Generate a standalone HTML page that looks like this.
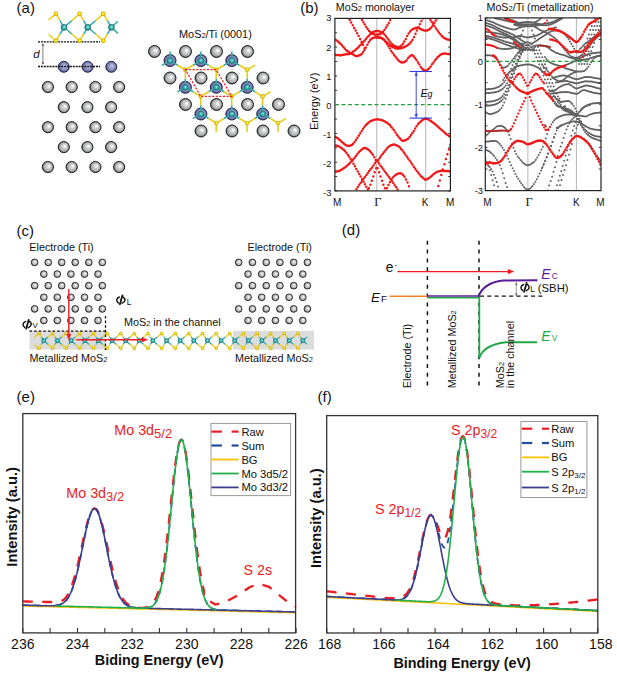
<!DOCTYPE html>
<html><head><meta charset="utf-8"><style>
html,body{margin:0;padding:0;background:#fff;}
svg{display:block;font-family:"Liberation Sans", sans-serif;}
</style></head><body>
<svg width="617" height="685" viewBox="0 0 617 685">
<defs>
<radialGradient id="gti" cx="0.5" cy="0.5" r="0.5" fx="0.62" fy="0.4">
 <stop offset="0" stop-color="#ffffff"/>
 <stop offset="0.12" stop-color="#fafafa"/>
 <stop offset="0.35" stop-color="#d2d3d5"/>
 <stop offset="0.7" stop-color="#b2b4b6"/>
 <stop offset="0.85" stop-color="#8a8c8e"/>
 <stop offset="1" stop-color="#3a3a3a"/>
</radialGradient>
<radialGradient id="gbl" cx="0.5" cy="0.5" r="0.5" fx="0.6" fy="0.42">
 <stop offset="0" stop-color="#d0d3f2"/>
 <stop offset="0.3" stop-color="#a6aad4"/>
 <stop offset="0.7" stop-color="#8286b6"/>
 <stop offset="0.87" stop-color="#60649a"/>
 <stop offset="1" stop-color="#303260"/>
</radialGradient>
<radialGradient id="gmo" cx="0.5" cy="0.5" r="0.5" fx="0.55" fy="0.42">
 <stop offset="0" stop-color="#c8f4f4"/>
 <stop offset="0.35" stop-color="#48c2c2"/>
 <stop offset="0.8" stop-color="#2a9a9c"/>
 <stop offset="1" stop-color="#156466"/>
</radialGradient>
<radialGradient id="gs" cx="0.5" cy="0.5" r="0.5" fx="0.55" fy="0.42">
 <stop offset="0" stop-color="#fffcc0"/>
 <stop offset="0.5" stop-color="#f8e000"/>
 <stop offset="1" stop-color="#c0a000"/>
</radialGradient>
</defs>
<rect width="617" height="685" fill="#fff"/>
<text x="16.6" y="12.6" font-size="15" fill="#111">(a)</text>
<circle cx="47.9" cy="87" r="5.6" fill="url(#gti)" stroke="#141414" stroke-width="0.9"/>
<circle cx="71.7" cy="87" r="5.6" fill="url(#gti)" stroke="#141414" stroke-width="0.9"/>
<circle cx="95.4" cy="87" r="5.6" fill="url(#gti)" stroke="#141414" stroke-width="0.9"/>
<circle cx="119.1" cy="87" r="5.6" fill="url(#gti)" stroke="#141414" stroke-width="0.9"/>
<circle cx="63.8" cy="107.2" r="5.6" fill="url(#gti)" stroke="#141414" stroke-width="0.9"/>
<circle cx="87.4" cy="107.2" r="5.6" fill="url(#gti)" stroke="#141414" stroke-width="0.9"/>
<circle cx="111.1" cy="107.2" r="5.6" fill="url(#gti)" stroke="#141414" stroke-width="0.9"/>
<circle cx="47.9" cy="127.2" r="5.6" fill="url(#gti)" stroke="#141414" stroke-width="0.9"/>
<circle cx="71.7" cy="127.2" r="5.6" fill="url(#gti)" stroke="#141414" stroke-width="0.9"/>
<circle cx="95.4" cy="127.2" r="5.6" fill="url(#gti)" stroke="#141414" stroke-width="0.9"/>
<circle cx="119.1" cy="127.2" r="5.6" fill="url(#gti)" stroke="#141414" stroke-width="0.9"/>
<circle cx="63.8" cy="147.1" r="5.6" fill="url(#gti)" stroke="#141414" stroke-width="0.9"/>
<circle cx="87.4" cy="147.1" r="5.6" fill="url(#gti)" stroke="#141414" stroke-width="0.9"/>
<circle cx="111.1" cy="147.1" r="5.6" fill="url(#gti)" stroke="#141414" stroke-width="0.9"/>
<circle cx="47.9" cy="167" r="5.6" fill="url(#gti)" stroke="#141414" stroke-width="0.9"/>
<circle cx="71.7" cy="167" r="5.6" fill="url(#gti)" stroke="#141414" stroke-width="0.9"/>
<circle cx="95.4" cy="167" r="5.6" fill="url(#gti)" stroke="#141414" stroke-width="0.9"/>
<circle cx="119.1" cy="167" r="5.6" fill="url(#gti)" stroke="#141414" stroke-width="0.9"/>
<circle cx="63.8" cy="66.8" r="5.5" fill="url(#gbl)" stroke="#1c1d44" stroke-width="0.9"/>
<circle cx="87.6" cy="66.8" r="5.5" fill="url(#gbl)" stroke="#1c1d44" stroke-width="0.9"/>
<circle cx="111.3" cy="66.8" r="5.5" fill="url(#gbl)" stroke="#1c1d44" stroke-width="0.9"/>
<line x1="38" y1="41.9" x2="100" y2="41.9" stroke="#111" stroke-width="1.3" stroke-dasharray="2 0.9"/>
<line x1="38" y1="66.5" x2="100" y2="66.5" stroke="#111" stroke-width="1.3" stroke-dasharray="2 0.9"/>
<line x1="42.9" y1="44" x2="42.9" y2="64" stroke="#555" stroke-width="0.75"/>
<path d="M42 45.6 L42.9 43.6 L43.8 45.6 Z" fill="#444" stroke="#444" stroke-width="0.3"/>
<path d="M42 62.4 L42.9 64.4 L43.8 62.4 Z" fill="#444" stroke="#444" stroke-width="0.3"/>
<text x="33.2" y="58.4" font-size="11.5" fill="#111" font-style="italic">d</text>
<line x1="48.5" y1="20" x2="56" y2="13.8" stroke="#e9cc1a" stroke-width="1.5"/>
<line x1="48.5" y1="34.5" x2="56" y2="40.8" stroke="#e9cc1a" stroke-width="1.5"/>
<line x1="64" y1="27.3" x2="60" y2="20.6" stroke="#35a9aa" stroke-width="1.5"/>
<line x1="60" y1="20.6" x2="56" y2="13.8" stroke="#e9cc1a" stroke-width="1.5"/>
<line x1="64" y1="27.3" x2="71.8" y2="20.6" stroke="#35a9aa" stroke-width="1.5"/>
<line x1="71.8" y1="20.6" x2="79.7" y2="13.8" stroke="#e9cc1a" stroke-width="1.5"/>
<line x1="64" y1="27.3" x2="60" y2="34" stroke="#35a9aa" stroke-width="1.5"/>
<line x1="60" y1="34" x2="56" y2="40.8" stroke="#e9cc1a" stroke-width="1.5"/>
<line x1="64" y1="27.3" x2="71.8" y2="34" stroke="#35a9aa" stroke-width="1.5"/>
<line x1="71.8" y1="34" x2="79.7" y2="40.8" stroke="#e9cc1a" stroke-width="1.5"/>
<line x1="87.7" y1="27.3" x2="83.7" y2="20.6" stroke="#35a9aa" stroke-width="1.5"/>
<line x1="83.7" y1="20.6" x2="79.7" y2="13.8" stroke="#e9cc1a" stroke-width="1.5"/>
<line x1="87.7" y1="27.3" x2="95.6" y2="20.6" stroke="#35a9aa" stroke-width="1.5"/>
<line x1="95.6" y1="20.6" x2="103.4" y2="13.8" stroke="#e9cc1a" stroke-width="1.5"/>
<line x1="87.7" y1="27.3" x2="83.7" y2="34" stroke="#35a9aa" stroke-width="1.5"/>
<line x1="83.7" y1="34" x2="79.7" y2="40.8" stroke="#e9cc1a" stroke-width="1.5"/>
<line x1="87.7" y1="27.3" x2="95.6" y2="34" stroke="#35a9aa" stroke-width="1.5"/>
<line x1="95.6" y1="34" x2="103.4" y2="40.8" stroke="#e9cc1a" stroke-width="1.5"/>
<line x1="111.4" y1="27.3" x2="107.4" y2="20.6" stroke="#35a9aa" stroke-width="1.5"/>
<line x1="107.4" y1="20.6" x2="103.4" y2="13.8" stroke="#e9cc1a" stroke-width="1.5"/>
<line x1="111.4" y1="27.3" x2="117.9" y2="21.2" stroke="#35a9aa" stroke-width="1.5"/>
<line x1="111.4" y1="27.3" x2="107.4" y2="34" stroke="#35a9aa" stroke-width="1.5"/>
<line x1="107.4" y1="34" x2="103.4" y2="40.8" stroke="#e9cc1a" stroke-width="1.5"/>
<line x1="111.4" y1="27.3" x2="117.9" y2="33.4" stroke="#35a9aa" stroke-width="1.5"/>
<circle cx="56" cy="13.8" r="2.2" fill="url(#gs)" stroke="#c8aa00" stroke-width="0.2"/>
<circle cx="56" cy="40.8" r="2.2" fill="url(#gs)" stroke="#c8aa00" stroke-width="0.2"/>
<circle cx="79.6" cy="13.8" r="2.2" fill="url(#gs)" stroke="#c8aa00" stroke-width="0.2"/>
<circle cx="79.6" cy="40.8" r="2.2" fill="url(#gs)" stroke="#c8aa00" stroke-width="0.2"/>
<circle cx="103.3" cy="13.8" r="2.2" fill="url(#gs)" stroke="#c8aa00" stroke-width="0.2"/>
<circle cx="103.3" cy="40.8" r="2.2" fill="url(#gs)" stroke="#c8aa00" stroke-width="0.2"/>
<circle cx="64" cy="27.3" r="3.1" fill="url(#gmo)" stroke="#0e5052" stroke-width="0.3"/>
<circle cx="87.7" cy="27.3" r="3.1" fill="url(#gmo)" stroke="#0e5052" stroke-width="0.3"/>
<circle cx="111.4" cy="27.3" r="3.1" fill="url(#gmo)" stroke="#0e5052" stroke-width="0.3"/>
<text x="179" y="38.3" font-size="10.9" fill="#111">MoS<tspan font-size="7.5">2</tspan>/Ti (0001)</text>
<circle cx="154.5" cy="51.5" r="6" fill="url(#gti)" stroke="#141414" stroke-width="0.9"/>
<circle cx="185.5" cy="51.5" r="6" fill="url(#gti)" stroke="#141414" stroke-width="0.9"/>
<circle cx="216.5" cy="51.5" r="6" fill="url(#gti)" stroke="#141414" stroke-width="0.9"/>
<circle cx="247.5" cy="51.5" r="6" fill="url(#gti)" stroke="#141414" stroke-width="0.9"/>
<circle cx="170" cy="78" r="6" fill="url(#gti)" stroke="#141414" stroke-width="0.9"/>
<circle cx="201" cy="78" r="6" fill="url(#gti)" stroke="#141414" stroke-width="0.9"/>
<circle cx="232" cy="78" r="6" fill="url(#gti)" stroke="#141414" stroke-width="0.9"/>
<circle cx="263" cy="78" r="6" fill="url(#gti)" stroke="#141414" stroke-width="0.9"/>
<circle cx="185.5" cy="104.5" r="6" fill="url(#gti)" stroke="#141414" stroke-width="0.9"/>
<circle cx="216.5" cy="104.5" r="6" fill="url(#gti)" stroke="#141414" stroke-width="0.9"/>
<circle cx="247.5" cy="104.5" r="6" fill="url(#gti)" stroke="#141414" stroke-width="0.9"/>
<circle cx="278.5" cy="104.5" r="6" fill="url(#gti)" stroke="#141414" stroke-width="0.9"/>
<circle cx="201" cy="131" r="6" fill="url(#gti)" stroke="#141414" stroke-width="0.9"/>
<circle cx="232" cy="131" r="6" fill="url(#gti)" stroke="#141414" stroke-width="0.9"/>
<circle cx="263" cy="131" r="6" fill="url(#gti)" stroke="#141414" stroke-width="0.9"/>
<circle cx="294" cy="131" r="6" fill="url(#gti)" stroke="#141414" stroke-width="0.9"/>
<circle cx="170" cy="60.6" r="6" fill="url(#gbl)" stroke="#1c1d44" stroke-width="0.9"/>
<circle cx="200.9" cy="60.6" r="6" fill="url(#gbl)" stroke="#1c1d44" stroke-width="0.9"/>
<circle cx="231.8" cy="60.6" r="6" fill="url(#gbl)" stroke="#1c1d44" stroke-width="0.9"/>
<circle cx="185.4" cy="87.3" r="6" fill="url(#gbl)" stroke="#1c1d44" stroke-width="0.9"/>
<circle cx="216.3" cy="87.3" r="6" fill="url(#gbl)" stroke="#1c1d44" stroke-width="0.9"/>
<circle cx="247.2" cy="87.3" r="6" fill="url(#gbl)" stroke="#1c1d44" stroke-width="0.9"/>
<circle cx="200.9" cy="114" r="6" fill="url(#gbl)" stroke="#1c1d44" stroke-width="0.9"/>
<circle cx="231.8" cy="114" r="6" fill="url(#gbl)" stroke="#1c1d44" stroke-width="0.9"/>
<circle cx="262.7" cy="114" r="6" fill="url(#gbl)" stroke="#1c1d44" stroke-width="0.9"/>
<line x1="170" y1="60.6" x2="177.7" y2="65.2" stroke="#35a9aa" stroke-width="1.6"/>
<line x1="177.7" y1="65.2" x2="185.3" y2="69.7" stroke="#e9cc1a" stroke-width="1.6"/>
<line x1="200.9" y1="60.6" x2="193.1" y2="65.2" stroke="#35a9aa" stroke-width="1.6"/>
<line x1="193.1" y1="65.2" x2="185.3" y2="69.7" stroke="#e9cc1a" stroke-width="1.6"/>
<line x1="185.4" y1="87.3" x2="185.4" y2="78.5" stroke="#35a9aa" stroke-width="1.6"/>
<line x1="185.4" y1="78.5" x2="185.3" y2="69.7" stroke="#e9cc1a" stroke-width="1.6"/>
<line x1="200.9" y1="60.6" x2="208.6" y2="65.2" stroke="#35a9aa" stroke-width="1.6"/>
<line x1="208.6" y1="65.2" x2="216.2" y2="69.7" stroke="#e9cc1a" stroke-width="1.6"/>
<line x1="231.8" y1="60.6" x2="224" y2="65.2" stroke="#35a9aa" stroke-width="1.6"/>
<line x1="224" y1="65.2" x2="216.2" y2="69.7" stroke="#e9cc1a" stroke-width="1.6"/>
<line x1="216.3" y1="87.3" x2="216.3" y2="78.5" stroke="#35a9aa" stroke-width="1.6"/>
<line x1="216.3" y1="78.5" x2="216.2" y2="69.7" stroke="#e9cc1a" stroke-width="1.6"/>
<line x1="231.8" y1="60.6" x2="239.5" y2="65.2" stroke="#35a9aa" stroke-width="1.6"/>
<line x1="239.5" y1="65.2" x2="247.1" y2="69.7" stroke="#e9cc1a" stroke-width="1.6"/>
<line x1="247.1" y1="69.7" x2="255.1" y2="65.1" stroke="#e9cc1a" stroke-width="1.6"/>
<line x1="247.2" y1="87.3" x2="247.2" y2="78.5" stroke="#35a9aa" stroke-width="1.6"/>
<line x1="247.2" y1="78.5" x2="247.1" y2="69.7" stroke="#e9cc1a" stroke-width="1.6"/>
<line x1="185.4" y1="87.3" x2="193.1" y2="91.8" stroke="#35a9aa" stroke-width="1.6"/>
<line x1="193.1" y1="91.8" x2="200.8" y2="96.4" stroke="#e9cc1a" stroke-width="1.6"/>
<line x1="216.3" y1="87.3" x2="208.6" y2="91.8" stroke="#35a9aa" stroke-width="1.6"/>
<line x1="208.6" y1="91.8" x2="200.8" y2="96.4" stroke="#e9cc1a" stroke-width="1.6"/>
<line x1="200.9" y1="114" x2="200.8" y2="105.2" stroke="#35a9aa" stroke-width="1.6"/>
<line x1="200.8" y1="105.2" x2="200.8" y2="96.4" stroke="#e9cc1a" stroke-width="1.6"/>
<line x1="216.3" y1="87.3" x2="224" y2="91.8" stroke="#35a9aa" stroke-width="1.6"/>
<line x1="224" y1="91.8" x2="231.7" y2="96.4" stroke="#e9cc1a" stroke-width="1.6"/>
<line x1="247.2" y1="87.3" x2="239.4" y2="91.8" stroke="#35a9aa" stroke-width="1.6"/>
<line x1="239.4" y1="91.8" x2="231.7" y2="96.4" stroke="#e9cc1a" stroke-width="1.6"/>
<line x1="231.8" y1="114" x2="231.7" y2="105.2" stroke="#35a9aa" stroke-width="1.6"/>
<line x1="231.7" y1="105.2" x2="231.7" y2="96.4" stroke="#e9cc1a" stroke-width="1.6"/>
<line x1="247.2" y1="87.3" x2="254.9" y2="91.8" stroke="#35a9aa" stroke-width="1.6"/>
<line x1="254.9" y1="91.8" x2="262.6" y2="96.4" stroke="#e9cc1a" stroke-width="1.6"/>
<line x1="262.6" y1="96.4" x2="270.6" y2="91.8" stroke="#e9cc1a" stroke-width="1.6"/>
<line x1="262.7" y1="114" x2="262.6" y2="105.2" stroke="#35a9aa" stroke-width="1.6"/>
<line x1="262.6" y1="105.2" x2="262.6" y2="96.4" stroke="#e9cc1a" stroke-width="1.6"/>
<line x1="200.9" y1="114" x2="208.6" y2="118.5" stroke="#35a9aa" stroke-width="1.6"/>
<line x1="208.6" y1="118.5" x2="216.2" y2="123.1" stroke="#e9cc1a" stroke-width="1.6"/>
<line x1="231.8" y1="114" x2="224" y2="118.5" stroke="#35a9aa" stroke-width="1.6"/>
<line x1="224" y1="118.5" x2="216.2" y2="123.1" stroke="#e9cc1a" stroke-width="1.6"/>
<line x1="216.2" y1="123.1" x2="216.2" y2="132.1" stroke="#e9cc1a" stroke-width="1.6"/>
<line x1="231.8" y1="114" x2="239.5" y2="118.5" stroke="#35a9aa" stroke-width="1.6"/>
<line x1="239.5" y1="118.5" x2="247.1" y2="123.1" stroke="#e9cc1a" stroke-width="1.6"/>
<line x1="262.7" y1="114" x2="254.9" y2="118.5" stroke="#35a9aa" stroke-width="1.6"/>
<line x1="254.9" y1="118.5" x2="247.1" y2="123.1" stroke="#e9cc1a" stroke-width="1.6"/>
<line x1="247.1" y1="123.1" x2="247.1" y2="132.1" stroke="#e9cc1a" stroke-width="1.6"/>
<line x1="262.7" y1="114" x2="270.4" y2="118.5" stroke="#35a9aa" stroke-width="1.6"/>
<line x1="270.4" y1="118.5" x2="278" y2="123.1" stroke="#e9cc1a" stroke-width="1.6"/>
<line x1="278" y1="123.1" x2="286" y2="118.5" stroke="#e9cc1a" stroke-width="1.6"/>
<line x1="278" y1="123.1" x2="278" y2="132.1" stroke="#e9cc1a" stroke-width="1.6"/>
<line x1="170" y1="60.6" x2="170" y2="51.6" stroke="#35a9aa" stroke-width="1.6"/>
<line x1="170" y1="60.6" x2="162" y2="65.2" stroke="#35a9aa" stroke-width="1.6"/>
<line x1="200.9" y1="60.6" x2="200.9" y2="51.6" stroke="#35a9aa" stroke-width="1.6"/>
<line x1="231.8" y1="60.6" x2="231.8" y2="51.6" stroke="#35a9aa" stroke-width="1.6"/>
<line x1="185.4" y1="87.3" x2="177.4" y2="91.9" stroke="#35a9aa" stroke-width="1.6"/>
<line x1="200.9" y1="114" x2="192.9" y2="118.6" stroke="#35a9aa" stroke-width="1.6"/>
<circle cx="185.3" cy="69.7" r="2.1" fill="url(#gs)" stroke="#c8aa00" stroke-width="0.2"/>
<circle cx="170" cy="60.6" r="3" fill="url(#gmo)" stroke="#0e5052" stroke-width="0.3"/>
<circle cx="216.2" cy="69.7" r="2.1" fill="url(#gs)" stroke="#c8aa00" stroke-width="0.2"/>
<circle cx="200.9" cy="60.6" r="3" fill="url(#gmo)" stroke="#0e5052" stroke-width="0.3"/>
<circle cx="247.1" cy="69.7" r="2.1" fill="url(#gs)" stroke="#c8aa00" stroke-width="0.2"/>
<circle cx="231.8" cy="60.6" r="3" fill="url(#gmo)" stroke="#0e5052" stroke-width="0.3"/>
<circle cx="200.8" cy="96.4" r="2.1" fill="url(#gs)" stroke="#c8aa00" stroke-width="0.2"/>
<circle cx="185.4" cy="87.3" r="3" fill="url(#gmo)" stroke="#0e5052" stroke-width="0.3"/>
<circle cx="231.7" cy="96.4" r="2.1" fill="url(#gs)" stroke="#c8aa00" stroke-width="0.2"/>
<circle cx="216.3" cy="87.3" r="3" fill="url(#gmo)" stroke="#0e5052" stroke-width="0.3"/>
<circle cx="262.6" cy="96.4" r="2.1" fill="url(#gs)" stroke="#c8aa00" stroke-width="0.2"/>
<circle cx="247.2" cy="87.3" r="3" fill="url(#gmo)" stroke="#0e5052" stroke-width="0.3"/>
<circle cx="216.2" cy="123.1" r="2.1" fill="url(#gs)" stroke="#c8aa00" stroke-width="0.2"/>
<circle cx="200.9" cy="114" r="3" fill="url(#gmo)" stroke="#0e5052" stroke-width="0.3"/>
<circle cx="247.1" cy="123.1" r="2.1" fill="url(#gs)" stroke="#c8aa00" stroke-width="0.2"/>
<circle cx="231.8" cy="114" r="3" fill="url(#gmo)" stroke="#0e5052" stroke-width="0.3"/>
<circle cx="278" cy="123.1" r="2.1" fill="url(#gs)" stroke="#c8aa00" stroke-width="0.2"/>
<circle cx="262.7" cy="114" r="3" fill="url(#gmo)" stroke="#0e5052" stroke-width="0.3"/>
<path d="M185.3 69.7 L216.2 69.7 L231.7 96.4 L200.8 96.4 Z" fill="none" stroke="#e8202a" stroke-width="1.25" stroke-dasharray="2.2 1.4"/>
<text x="16.6" y="235.6" font-size="15" fill="#111">(c)</text>
<text x="29.3" y="251.1" font-size="10.8" fill="#111">Electrode (Ti)</text>
<text x="247.5" y="251.1" font-size="10.8" fill="#111">Electrode (Ti)</text>
<rect x="29.5" y="330.8" width="76" height="18.8" fill="#dcdcdc"/>
<rect x="233" y="330.8" width="81" height="18.8" fill="#dcdcdc"/>
<circle cx="34.6" cy="262.4" r="3.4" fill="url(#gti)" stroke="#141414" stroke-width="0.7"/>
<circle cx="48.2" cy="262.4" r="3.4" fill="url(#gti)" stroke="#141414" stroke-width="0.7"/>
<circle cx="61.7" cy="262.4" r="3.4" fill="url(#gti)" stroke="#141414" stroke-width="0.7"/>
<circle cx="75.2" cy="262.4" r="3.4" fill="url(#gti)" stroke="#141414" stroke-width="0.7"/>
<circle cx="88.8" cy="262.4" r="3.4" fill="url(#gti)" stroke="#141414" stroke-width="0.7"/>
<circle cx="102.3" cy="262.4" r="3.4" fill="url(#gti)" stroke="#141414" stroke-width="0.7"/>
<circle cx="238.7" cy="262.4" r="3.4" fill="url(#gti)" stroke="#141414" stroke-width="0.7"/>
<circle cx="252.4" cy="262.4" r="3.4" fill="url(#gti)" stroke="#141414" stroke-width="0.7"/>
<circle cx="266.2" cy="262.4" r="3.4" fill="url(#gti)" stroke="#141414" stroke-width="0.7"/>
<circle cx="279.9" cy="262.4" r="3.4" fill="url(#gti)" stroke="#141414" stroke-width="0.7"/>
<circle cx="293.7" cy="262.4" r="3.4" fill="url(#gti)" stroke="#141414" stroke-width="0.7"/>
<circle cx="307.4" cy="262.4" r="3.4" fill="url(#gti)" stroke="#141414" stroke-width="0.7"/>
<circle cx="43.8" cy="274.1" r="3.4" fill="url(#gti)" stroke="#141414" stroke-width="0.7"/>
<circle cx="57.3" cy="274.1" r="3.4" fill="url(#gti)" stroke="#141414" stroke-width="0.7"/>
<circle cx="70.9" cy="274.1" r="3.4" fill="url(#gti)" stroke="#141414" stroke-width="0.7"/>
<circle cx="84.5" cy="274.1" r="3.4" fill="url(#gti)" stroke="#141414" stroke-width="0.7"/>
<circle cx="98" cy="274.1" r="3.4" fill="url(#gti)" stroke="#141414" stroke-width="0.7"/>
<circle cx="248" cy="274.1" r="3.4" fill="url(#gti)" stroke="#141414" stroke-width="0.7"/>
<circle cx="261.7" cy="274.1" r="3.4" fill="url(#gti)" stroke="#141414" stroke-width="0.7"/>
<circle cx="275.4" cy="274.1" r="3.4" fill="url(#gti)" stroke="#141414" stroke-width="0.7"/>
<circle cx="289.1" cy="274.1" r="3.4" fill="url(#gti)" stroke="#141414" stroke-width="0.7"/>
<circle cx="302.8" cy="274.1" r="3.4" fill="url(#gti)" stroke="#141414" stroke-width="0.7"/>
<circle cx="34.6" cy="285.7" r="3.4" fill="url(#gti)" stroke="#141414" stroke-width="0.7"/>
<circle cx="48.2" cy="285.7" r="3.4" fill="url(#gti)" stroke="#141414" stroke-width="0.7"/>
<circle cx="61.7" cy="285.7" r="3.4" fill="url(#gti)" stroke="#141414" stroke-width="0.7"/>
<circle cx="75.2" cy="285.7" r="3.4" fill="url(#gti)" stroke="#141414" stroke-width="0.7"/>
<circle cx="88.8" cy="285.7" r="3.4" fill="url(#gti)" stroke="#141414" stroke-width="0.7"/>
<circle cx="102.3" cy="285.7" r="3.4" fill="url(#gti)" stroke="#141414" stroke-width="0.7"/>
<circle cx="238.7" cy="285.7" r="3.4" fill="url(#gti)" stroke="#141414" stroke-width="0.7"/>
<circle cx="252.4" cy="285.7" r="3.4" fill="url(#gti)" stroke="#141414" stroke-width="0.7"/>
<circle cx="266.2" cy="285.7" r="3.4" fill="url(#gti)" stroke="#141414" stroke-width="0.7"/>
<circle cx="279.9" cy="285.7" r="3.4" fill="url(#gti)" stroke="#141414" stroke-width="0.7"/>
<circle cx="293.7" cy="285.7" r="3.4" fill="url(#gti)" stroke="#141414" stroke-width="0.7"/>
<circle cx="307.4" cy="285.7" r="3.4" fill="url(#gti)" stroke="#141414" stroke-width="0.7"/>
<circle cx="43.8" cy="297.3" r="3.4" fill="url(#gti)" stroke="#141414" stroke-width="0.7"/>
<circle cx="57.3" cy="297.3" r="3.4" fill="url(#gti)" stroke="#141414" stroke-width="0.7"/>
<circle cx="70.9" cy="297.3" r="3.4" fill="url(#gti)" stroke="#141414" stroke-width="0.7"/>
<circle cx="84.5" cy="297.3" r="3.4" fill="url(#gti)" stroke="#141414" stroke-width="0.7"/>
<circle cx="98" cy="297.3" r="3.4" fill="url(#gti)" stroke="#141414" stroke-width="0.7"/>
<circle cx="248" cy="297.3" r="3.4" fill="url(#gti)" stroke="#141414" stroke-width="0.7"/>
<circle cx="261.7" cy="297.3" r="3.4" fill="url(#gti)" stroke="#141414" stroke-width="0.7"/>
<circle cx="275.4" cy="297.3" r="3.4" fill="url(#gti)" stroke="#141414" stroke-width="0.7"/>
<circle cx="289.1" cy="297.3" r="3.4" fill="url(#gti)" stroke="#141414" stroke-width="0.7"/>
<circle cx="302.8" cy="297.3" r="3.4" fill="url(#gti)" stroke="#141414" stroke-width="0.7"/>
<circle cx="34.6" cy="308.9" r="3.4" fill="url(#gti)" stroke="#141414" stroke-width="0.7"/>
<circle cx="48.2" cy="308.9" r="3.4" fill="url(#gti)" stroke="#141414" stroke-width="0.7"/>
<circle cx="61.7" cy="308.9" r="3.4" fill="url(#gti)" stroke="#141414" stroke-width="0.7"/>
<circle cx="75.2" cy="308.9" r="3.4" fill="url(#gti)" stroke="#141414" stroke-width="0.7"/>
<circle cx="88.8" cy="308.9" r="3.4" fill="url(#gti)" stroke="#141414" stroke-width="0.7"/>
<circle cx="102.3" cy="308.9" r="3.4" fill="url(#gti)" stroke="#141414" stroke-width="0.7"/>
<circle cx="238.7" cy="308.9" r="3.4" fill="url(#gti)" stroke="#141414" stroke-width="0.7"/>
<circle cx="252.4" cy="308.9" r="3.4" fill="url(#gti)" stroke="#141414" stroke-width="0.7"/>
<circle cx="266.2" cy="308.9" r="3.4" fill="url(#gti)" stroke="#141414" stroke-width="0.7"/>
<circle cx="279.9" cy="308.9" r="3.4" fill="url(#gti)" stroke="#141414" stroke-width="0.7"/>
<circle cx="293.7" cy="308.9" r="3.4" fill="url(#gti)" stroke="#141414" stroke-width="0.7"/>
<circle cx="307.4" cy="308.9" r="3.4" fill="url(#gti)" stroke="#141414" stroke-width="0.7"/>
<circle cx="43.8" cy="320.5" r="3.4" fill="url(#gti)" stroke="#141414" stroke-width="0.7"/>
<circle cx="57.3" cy="320.5" r="3.4" fill="url(#gti)" stroke="#141414" stroke-width="0.7"/>
<circle cx="70.9" cy="320.5" r="3.4" fill="url(#gti)" stroke="#141414" stroke-width="0.7"/>
<circle cx="84.5" cy="320.5" r="3.4" fill="url(#gti)" stroke="#141414" stroke-width="0.7"/>
<circle cx="98" cy="320.5" r="3.4" fill="url(#gti)" stroke="#141414" stroke-width="0.7"/>
<circle cx="248" cy="320.5" r="3.4" fill="url(#gti)" stroke="#141414" stroke-width="0.7"/>
<circle cx="261.7" cy="320.5" r="3.4" fill="url(#gti)" stroke="#141414" stroke-width="0.7"/>
<circle cx="275.4" cy="320.5" r="3.4" fill="url(#gti)" stroke="#141414" stroke-width="0.7"/>
<circle cx="289.1" cy="320.5" r="3.4" fill="url(#gti)" stroke="#141414" stroke-width="0.7"/>
<circle cx="302.8" cy="320.5" r="3.4" fill="url(#gti)" stroke="#141414" stroke-width="0.7"/>
<line x1="43.8" y1="340.6" x2="41.4" y2="337" stroke="#35a9aa" stroke-width="1.3"/>
<line x1="41.4" y1="337" x2="39" y2="333.4" stroke="#e9cc1a" stroke-width="1.3"/>
<line x1="43.8" y1="340.6" x2="41.4" y2="344.5" stroke="#35a9aa" stroke-width="1.3"/>
<line x1="41.4" y1="344.5" x2="39" y2="348.3" stroke="#e9cc1a" stroke-width="1.3"/>
<line x1="43.8" y1="340.6" x2="48.2" y2="337" stroke="#35a9aa" stroke-width="1.3"/>
<line x1="48.2" y1="337" x2="52.6" y2="333.4" stroke="#e9cc1a" stroke-width="1.3"/>
<line x1="43.8" y1="340.6" x2="48.2" y2="344.5" stroke="#35a9aa" stroke-width="1.3"/>
<line x1="48.2" y1="344.5" x2="52.6" y2="348.3" stroke="#e9cc1a" stroke-width="1.3"/>
<line x1="57.4" y1="340.6" x2="55" y2="337" stroke="#35a9aa" stroke-width="1.3"/>
<line x1="55" y1="337" x2="52.6" y2="333.4" stroke="#e9cc1a" stroke-width="1.3"/>
<line x1="57.4" y1="340.6" x2="55" y2="344.5" stroke="#35a9aa" stroke-width="1.3"/>
<line x1="55" y1="344.5" x2="52.6" y2="348.3" stroke="#e9cc1a" stroke-width="1.3"/>
<line x1="57.4" y1="340.6" x2="61.8" y2="337" stroke="#35a9aa" stroke-width="1.3"/>
<line x1="61.8" y1="337" x2="66.3" y2="333.4" stroke="#e9cc1a" stroke-width="1.3"/>
<line x1="57.4" y1="340.6" x2="61.8" y2="344.5" stroke="#35a9aa" stroke-width="1.3"/>
<line x1="61.8" y1="344.5" x2="66.3" y2="348.3" stroke="#e9cc1a" stroke-width="1.3"/>
<line x1="71.1" y1="340.6" x2="68.7" y2="337" stroke="#35a9aa" stroke-width="1.3"/>
<line x1="68.7" y1="337" x2="66.3" y2="333.4" stroke="#e9cc1a" stroke-width="1.3"/>
<line x1="71.1" y1="340.6" x2="68.7" y2="344.5" stroke="#35a9aa" stroke-width="1.3"/>
<line x1="68.7" y1="344.5" x2="66.3" y2="348.3" stroke="#e9cc1a" stroke-width="1.3"/>
<line x1="71.1" y1="340.6" x2="75.5" y2="337" stroke="#35a9aa" stroke-width="1.3"/>
<line x1="75.5" y1="337" x2="79.9" y2="333.4" stroke="#e9cc1a" stroke-width="1.3"/>
<line x1="71.1" y1="340.6" x2="75.5" y2="344.5" stroke="#35a9aa" stroke-width="1.3"/>
<line x1="75.5" y1="344.5" x2="79.9" y2="348.3" stroke="#e9cc1a" stroke-width="1.3"/>
<line x1="84.7" y1="340.6" x2="82.3" y2="337" stroke="#35a9aa" stroke-width="1.3"/>
<line x1="82.3" y1="337" x2="79.9" y2="333.4" stroke="#e9cc1a" stroke-width="1.3"/>
<line x1="84.7" y1="340.6" x2="82.3" y2="344.5" stroke="#35a9aa" stroke-width="1.3"/>
<line x1="82.3" y1="344.5" x2="79.9" y2="348.3" stroke="#e9cc1a" stroke-width="1.3"/>
<line x1="84.7" y1="340.6" x2="89.1" y2="337" stroke="#35a9aa" stroke-width="1.3"/>
<line x1="89.1" y1="337" x2="93.5" y2="333.4" stroke="#e9cc1a" stroke-width="1.3"/>
<line x1="84.7" y1="340.6" x2="89.1" y2="344.5" stroke="#35a9aa" stroke-width="1.3"/>
<line x1="89.1" y1="344.5" x2="93.5" y2="348.3" stroke="#e9cc1a" stroke-width="1.3"/>
<line x1="98.3" y1="340.6" x2="95.9" y2="337" stroke="#35a9aa" stroke-width="1.3"/>
<line x1="95.9" y1="337" x2="93.5" y2="333.4" stroke="#e9cc1a" stroke-width="1.3"/>
<line x1="98.3" y1="340.6" x2="95.9" y2="344.5" stroke="#35a9aa" stroke-width="1.3"/>
<line x1="95.9" y1="344.5" x2="93.5" y2="348.3" stroke="#e9cc1a" stroke-width="1.3"/>
<line x1="98.3" y1="340.6" x2="102.7" y2="337" stroke="#35a9aa" stroke-width="1.3"/>
<line x1="102.7" y1="337" x2="107.1" y2="333.4" stroke="#e9cc1a" stroke-width="1.3"/>
<line x1="98.3" y1="340.6" x2="102.7" y2="344.5" stroke="#35a9aa" stroke-width="1.3"/>
<line x1="102.7" y1="344.5" x2="107.1" y2="348.3" stroke="#e9cc1a" stroke-width="1.3"/>
<line x1="112" y1="340.6" x2="109.6" y2="337" stroke="#35a9aa" stroke-width="1.3"/>
<line x1="109.6" y1="337" x2="107.2" y2="333.4" stroke="#e9cc1a" stroke-width="1.3"/>
<line x1="112" y1="340.6" x2="109.6" y2="344.5" stroke="#35a9aa" stroke-width="1.3"/>
<line x1="109.6" y1="344.5" x2="107.2" y2="348.3" stroke="#e9cc1a" stroke-width="1.3"/>
<line x1="112" y1="340.6" x2="116.4" y2="337" stroke="#35a9aa" stroke-width="1.3"/>
<line x1="116.4" y1="337" x2="120.8" y2="333.4" stroke="#e9cc1a" stroke-width="1.3"/>
<line x1="112" y1="340.6" x2="116.4" y2="344.5" stroke="#35a9aa" stroke-width="1.3"/>
<line x1="116.4" y1="344.5" x2="120.8" y2="348.3" stroke="#e9cc1a" stroke-width="1.3"/>
<line x1="125.6" y1="340.6" x2="123.2" y2="337" stroke="#35a9aa" stroke-width="1.3"/>
<line x1="123.2" y1="337" x2="120.8" y2="333.4" stroke="#e9cc1a" stroke-width="1.3"/>
<line x1="125.6" y1="340.6" x2="123.2" y2="344.5" stroke="#35a9aa" stroke-width="1.3"/>
<line x1="123.2" y1="344.5" x2="120.8" y2="348.3" stroke="#e9cc1a" stroke-width="1.3"/>
<line x1="125.6" y1="340.6" x2="130" y2="337" stroke="#35a9aa" stroke-width="1.3"/>
<line x1="130" y1="337" x2="134.4" y2="333.4" stroke="#e9cc1a" stroke-width="1.3"/>
<line x1="125.6" y1="340.6" x2="130" y2="344.5" stroke="#35a9aa" stroke-width="1.3"/>
<line x1="130" y1="344.5" x2="134.4" y2="348.3" stroke="#e9cc1a" stroke-width="1.3"/>
<line x1="139.2" y1="340.6" x2="136.8" y2="337" stroke="#35a9aa" stroke-width="1.3"/>
<line x1="136.8" y1="337" x2="134.4" y2="333.4" stroke="#e9cc1a" stroke-width="1.3"/>
<line x1="139.2" y1="340.6" x2="136.8" y2="344.5" stroke="#35a9aa" stroke-width="1.3"/>
<line x1="136.8" y1="344.5" x2="134.4" y2="348.3" stroke="#e9cc1a" stroke-width="1.3"/>
<line x1="139.2" y1="340.6" x2="143.6" y2="337" stroke="#35a9aa" stroke-width="1.3"/>
<line x1="143.6" y1="337" x2="148" y2="333.4" stroke="#e9cc1a" stroke-width="1.3"/>
<line x1="139.2" y1="340.6" x2="143.6" y2="344.5" stroke="#35a9aa" stroke-width="1.3"/>
<line x1="143.6" y1="344.5" x2="148" y2="348.3" stroke="#e9cc1a" stroke-width="1.3"/>
<line x1="152.8" y1="340.6" x2="150.4" y2="337" stroke="#35a9aa" stroke-width="1.3"/>
<line x1="150.4" y1="337" x2="148" y2="333.4" stroke="#e9cc1a" stroke-width="1.3"/>
<line x1="152.8" y1="340.6" x2="150.4" y2="344.5" stroke="#35a9aa" stroke-width="1.3"/>
<line x1="150.4" y1="344.5" x2="148" y2="348.3" stroke="#e9cc1a" stroke-width="1.3"/>
<line x1="152.8" y1="340.6" x2="157.3" y2="337" stroke="#35a9aa" stroke-width="1.3"/>
<line x1="157.3" y1="337" x2="161.7" y2="333.4" stroke="#e9cc1a" stroke-width="1.3"/>
<line x1="152.8" y1="340.6" x2="157.3" y2="344.5" stroke="#35a9aa" stroke-width="1.3"/>
<line x1="157.3" y1="344.5" x2="161.7" y2="348.3" stroke="#e9cc1a" stroke-width="1.3"/>
<line x1="166.5" y1="340.6" x2="164.1" y2="337" stroke="#35a9aa" stroke-width="1.3"/>
<line x1="164.1" y1="337" x2="161.7" y2="333.4" stroke="#e9cc1a" stroke-width="1.3"/>
<line x1="166.5" y1="340.6" x2="164.1" y2="344.5" stroke="#35a9aa" stroke-width="1.3"/>
<line x1="164.1" y1="344.5" x2="161.7" y2="348.3" stroke="#e9cc1a" stroke-width="1.3"/>
<line x1="166.5" y1="340.6" x2="170.9" y2="337" stroke="#35a9aa" stroke-width="1.3"/>
<line x1="170.9" y1="337" x2="175.3" y2="333.4" stroke="#e9cc1a" stroke-width="1.3"/>
<line x1="166.5" y1="340.6" x2="170.9" y2="344.5" stroke="#35a9aa" stroke-width="1.3"/>
<line x1="170.9" y1="344.5" x2="175.3" y2="348.3" stroke="#e9cc1a" stroke-width="1.3"/>
<line x1="180.1" y1="340.6" x2="177.7" y2="337" stroke="#35a9aa" stroke-width="1.3"/>
<line x1="177.7" y1="337" x2="175.3" y2="333.4" stroke="#e9cc1a" stroke-width="1.3"/>
<line x1="180.1" y1="340.6" x2="177.7" y2="344.5" stroke="#35a9aa" stroke-width="1.3"/>
<line x1="177.7" y1="344.5" x2="175.3" y2="348.3" stroke="#e9cc1a" stroke-width="1.3"/>
<line x1="180.1" y1="340.6" x2="184.5" y2="337" stroke="#35a9aa" stroke-width="1.3"/>
<line x1="184.5" y1="337" x2="188.9" y2="333.4" stroke="#e9cc1a" stroke-width="1.3"/>
<line x1="180.1" y1="340.6" x2="184.5" y2="344.5" stroke="#35a9aa" stroke-width="1.3"/>
<line x1="184.5" y1="344.5" x2="188.9" y2="348.3" stroke="#e9cc1a" stroke-width="1.3"/>
<line x1="193.7" y1="340.6" x2="191.3" y2="337" stroke="#35a9aa" stroke-width="1.3"/>
<line x1="191.3" y1="337" x2="188.9" y2="333.4" stroke="#e9cc1a" stroke-width="1.3"/>
<line x1="193.7" y1="340.6" x2="191.3" y2="344.5" stroke="#35a9aa" stroke-width="1.3"/>
<line x1="191.3" y1="344.5" x2="188.9" y2="348.3" stroke="#e9cc1a" stroke-width="1.3"/>
<line x1="193.7" y1="340.6" x2="198.1" y2="337" stroke="#35a9aa" stroke-width="1.3"/>
<line x1="198.1" y1="337" x2="202.6" y2="333.4" stroke="#e9cc1a" stroke-width="1.3"/>
<line x1="193.7" y1="340.6" x2="198.1" y2="344.5" stroke="#35a9aa" stroke-width="1.3"/>
<line x1="198.1" y1="344.5" x2="202.6" y2="348.3" stroke="#e9cc1a" stroke-width="1.3"/>
<line x1="207.4" y1="340.6" x2="205" y2="337" stroke="#35a9aa" stroke-width="1.3"/>
<line x1="205" y1="337" x2="202.6" y2="333.4" stroke="#e9cc1a" stroke-width="1.3"/>
<line x1="207.4" y1="340.6" x2="205" y2="344.5" stroke="#35a9aa" stroke-width="1.3"/>
<line x1="205" y1="344.5" x2="202.6" y2="348.3" stroke="#e9cc1a" stroke-width="1.3"/>
<line x1="207.4" y1="340.6" x2="211.8" y2="337" stroke="#35a9aa" stroke-width="1.3"/>
<line x1="211.8" y1="337" x2="216.2" y2="333.4" stroke="#e9cc1a" stroke-width="1.3"/>
<line x1="207.4" y1="340.6" x2="211.8" y2="344.5" stroke="#35a9aa" stroke-width="1.3"/>
<line x1="211.8" y1="344.5" x2="216.2" y2="348.3" stroke="#e9cc1a" stroke-width="1.3"/>
<line x1="221" y1="340.6" x2="218.6" y2="337" stroke="#35a9aa" stroke-width="1.3"/>
<line x1="218.6" y1="337" x2="216.2" y2="333.4" stroke="#e9cc1a" stroke-width="1.3"/>
<line x1="221" y1="340.6" x2="218.6" y2="344.5" stroke="#35a9aa" stroke-width="1.3"/>
<line x1="218.6" y1="344.5" x2="216.2" y2="348.3" stroke="#e9cc1a" stroke-width="1.3"/>
<line x1="221" y1="340.6" x2="225.4" y2="337" stroke="#35a9aa" stroke-width="1.3"/>
<line x1="225.4" y1="337" x2="229.8" y2="333.4" stroke="#e9cc1a" stroke-width="1.3"/>
<line x1="221" y1="340.6" x2="225.4" y2="344.5" stroke="#35a9aa" stroke-width="1.3"/>
<line x1="225.4" y1="344.5" x2="229.8" y2="348.3" stroke="#e9cc1a" stroke-width="1.3"/>
<line x1="234.6" y1="340.6" x2="232.2" y2="337" stroke="#35a9aa" stroke-width="1.3"/>
<line x1="232.2" y1="337" x2="229.8" y2="333.4" stroke="#e9cc1a" stroke-width="1.3"/>
<line x1="234.6" y1="340.6" x2="232.2" y2="344.5" stroke="#35a9aa" stroke-width="1.3"/>
<line x1="232.2" y1="344.5" x2="229.8" y2="348.3" stroke="#e9cc1a" stroke-width="1.3"/>
<line x1="234.6" y1="340.6" x2="239" y2="337" stroke="#35a9aa" stroke-width="1.3"/>
<line x1="239" y1="337" x2="243.5" y2="333.4" stroke="#e9cc1a" stroke-width="1.3"/>
<line x1="234.6" y1="340.6" x2="239" y2="344.5" stroke="#35a9aa" stroke-width="1.3"/>
<line x1="239" y1="344.5" x2="243.5" y2="348.3" stroke="#e9cc1a" stroke-width="1.3"/>
<line x1="248.2" y1="340.6" x2="245.8" y2="337" stroke="#35a9aa" stroke-width="1.3"/>
<line x1="245.8" y1="337" x2="243.4" y2="333.4" stroke="#e9cc1a" stroke-width="1.3"/>
<line x1="248.2" y1="340.6" x2="245.8" y2="344.5" stroke="#35a9aa" stroke-width="1.3"/>
<line x1="245.8" y1="344.5" x2="243.4" y2="348.3" stroke="#e9cc1a" stroke-width="1.3"/>
<line x1="248.2" y1="340.6" x2="252.7" y2="337" stroke="#35a9aa" stroke-width="1.3"/>
<line x1="252.7" y1="337" x2="257.1" y2="333.4" stroke="#e9cc1a" stroke-width="1.3"/>
<line x1="248.2" y1="340.6" x2="252.7" y2="344.5" stroke="#35a9aa" stroke-width="1.3"/>
<line x1="252.7" y1="344.5" x2="257.1" y2="348.3" stroke="#e9cc1a" stroke-width="1.3"/>
<line x1="261.9" y1="340.6" x2="259.5" y2="337" stroke="#35a9aa" stroke-width="1.3"/>
<line x1="259.5" y1="337" x2="257.1" y2="333.4" stroke="#e9cc1a" stroke-width="1.3"/>
<line x1="261.9" y1="340.6" x2="259.5" y2="344.5" stroke="#35a9aa" stroke-width="1.3"/>
<line x1="259.5" y1="344.5" x2="257.1" y2="348.3" stroke="#e9cc1a" stroke-width="1.3"/>
<line x1="261.9" y1="340.6" x2="266.3" y2="337" stroke="#35a9aa" stroke-width="1.3"/>
<line x1="266.3" y1="337" x2="270.7" y2="333.4" stroke="#e9cc1a" stroke-width="1.3"/>
<line x1="261.9" y1="340.6" x2="266.3" y2="344.5" stroke="#35a9aa" stroke-width="1.3"/>
<line x1="266.3" y1="344.5" x2="270.7" y2="348.3" stroke="#e9cc1a" stroke-width="1.3"/>
<line x1="275.5" y1="340.6" x2="273.1" y2="337" stroke="#35a9aa" stroke-width="1.3"/>
<line x1="273.1" y1="337" x2="270.7" y2="333.4" stroke="#e9cc1a" stroke-width="1.3"/>
<line x1="275.5" y1="340.6" x2="273.1" y2="344.5" stroke="#35a9aa" stroke-width="1.3"/>
<line x1="273.1" y1="344.5" x2="270.7" y2="348.3" stroke="#e9cc1a" stroke-width="1.3"/>
<line x1="275.5" y1="340.6" x2="279.9" y2="337" stroke="#35a9aa" stroke-width="1.3"/>
<line x1="279.9" y1="337" x2="284.3" y2="333.4" stroke="#e9cc1a" stroke-width="1.3"/>
<line x1="275.5" y1="340.6" x2="279.9" y2="344.5" stroke="#35a9aa" stroke-width="1.3"/>
<line x1="279.9" y1="344.5" x2="284.3" y2="348.3" stroke="#e9cc1a" stroke-width="1.3"/>
<line x1="289.1" y1="340.6" x2="286.7" y2="337" stroke="#35a9aa" stroke-width="1.3"/>
<line x1="286.7" y1="337" x2="284.3" y2="333.4" stroke="#e9cc1a" stroke-width="1.3"/>
<line x1="289.1" y1="340.6" x2="286.7" y2="344.5" stroke="#35a9aa" stroke-width="1.3"/>
<line x1="286.7" y1="344.5" x2="284.3" y2="348.3" stroke="#e9cc1a" stroke-width="1.3"/>
<line x1="289.1" y1="340.6" x2="293.6" y2="337" stroke="#35a9aa" stroke-width="1.3"/>
<line x1="293.6" y1="337" x2="298" y2="333.4" stroke="#e9cc1a" stroke-width="1.3"/>
<line x1="289.1" y1="340.6" x2="293.6" y2="344.5" stroke="#35a9aa" stroke-width="1.3"/>
<line x1="293.6" y1="344.5" x2="298" y2="348.3" stroke="#e9cc1a" stroke-width="1.3"/>
<line x1="302.8" y1="340.6" x2="300.4" y2="337" stroke="#35a9aa" stroke-width="1.3"/>
<line x1="300.4" y1="337" x2="298" y2="333.4" stroke="#e9cc1a" stroke-width="1.3"/>
<line x1="302.8" y1="340.6" x2="300.4" y2="344.5" stroke="#35a9aa" stroke-width="1.3"/>
<line x1="300.4" y1="344.5" x2="298" y2="348.3" stroke="#e9cc1a" stroke-width="1.3"/>
<line x1="302.8" y1="340.6" x2="307.1" y2="337" stroke="#35a9aa" stroke-width="1.3"/>
<line x1="302.8" y1="340.6" x2="307.1" y2="344.2" stroke="#35a9aa" stroke-width="1.3"/>
<line x1="39" y1="333.4" x2="34.5" y2="337" stroke="#e9cc1a" stroke-width="1.3"/>
<line x1="39" y1="348.3" x2="34.5" y2="345" stroke="#e9cc1a" stroke-width="1.3"/>
<circle cx="39" cy="333.4" r="1.6" fill="url(#gs)" stroke="#c8aa00" stroke-width="0.2"/>
<circle cx="39" cy="348.3" r="1.6" fill="url(#gs)" stroke="#c8aa00" stroke-width="0.2"/>
<circle cx="52.6" cy="333.4" r="1.6" fill="url(#gs)" stroke="#c8aa00" stroke-width="0.2"/>
<circle cx="52.6" cy="348.3" r="1.6" fill="url(#gs)" stroke="#c8aa00" stroke-width="0.2"/>
<circle cx="66.3" cy="333.4" r="1.6" fill="url(#gs)" stroke="#c8aa00" stroke-width="0.2"/>
<circle cx="66.3" cy="348.3" r="1.6" fill="url(#gs)" stroke="#c8aa00" stroke-width="0.2"/>
<circle cx="79.9" cy="333.4" r="1.6" fill="url(#gs)" stroke="#c8aa00" stroke-width="0.2"/>
<circle cx="79.9" cy="348.3" r="1.6" fill="url(#gs)" stroke="#c8aa00" stroke-width="0.2"/>
<circle cx="93.5" cy="333.4" r="1.6" fill="url(#gs)" stroke="#c8aa00" stroke-width="0.2"/>
<circle cx="93.5" cy="348.3" r="1.6" fill="url(#gs)" stroke="#c8aa00" stroke-width="0.2"/>
<circle cx="107.2" cy="333.4" r="1.6" fill="url(#gs)" stroke="#c8aa00" stroke-width="0.2"/>
<circle cx="107.2" cy="348.3" r="1.6" fill="url(#gs)" stroke="#c8aa00" stroke-width="0.2"/>
<circle cx="120.8" cy="333.4" r="1.6" fill="url(#gs)" stroke="#c8aa00" stroke-width="0.2"/>
<circle cx="120.8" cy="348.3" r="1.6" fill="url(#gs)" stroke="#c8aa00" stroke-width="0.2"/>
<circle cx="134.4" cy="333.4" r="1.6" fill="url(#gs)" stroke="#c8aa00" stroke-width="0.2"/>
<circle cx="134.4" cy="348.3" r="1.6" fill="url(#gs)" stroke="#c8aa00" stroke-width="0.2"/>
<circle cx="148" cy="333.4" r="1.6" fill="url(#gs)" stroke="#c8aa00" stroke-width="0.2"/>
<circle cx="148" cy="348.3" r="1.6" fill="url(#gs)" stroke="#c8aa00" stroke-width="0.2"/>
<circle cx="161.7" cy="333.4" r="1.6" fill="url(#gs)" stroke="#c8aa00" stroke-width="0.2"/>
<circle cx="161.7" cy="348.3" r="1.6" fill="url(#gs)" stroke="#c8aa00" stroke-width="0.2"/>
<circle cx="175.3" cy="333.4" r="1.6" fill="url(#gs)" stroke="#c8aa00" stroke-width="0.2"/>
<circle cx="175.3" cy="348.3" r="1.6" fill="url(#gs)" stroke="#c8aa00" stroke-width="0.2"/>
<circle cx="188.9" cy="333.4" r="1.6" fill="url(#gs)" stroke="#c8aa00" stroke-width="0.2"/>
<circle cx="188.9" cy="348.3" r="1.6" fill="url(#gs)" stroke="#c8aa00" stroke-width="0.2"/>
<circle cx="202.6" cy="333.4" r="1.6" fill="url(#gs)" stroke="#c8aa00" stroke-width="0.2"/>
<circle cx="202.6" cy="348.3" r="1.6" fill="url(#gs)" stroke="#c8aa00" stroke-width="0.2"/>
<circle cx="216.2" cy="333.4" r="1.6" fill="url(#gs)" stroke="#c8aa00" stroke-width="0.2"/>
<circle cx="216.2" cy="348.3" r="1.6" fill="url(#gs)" stroke="#c8aa00" stroke-width="0.2"/>
<circle cx="229.8" cy="333.4" r="1.6" fill="url(#gs)" stroke="#c8aa00" stroke-width="0.2"/>
<circle cx="229.8" cy="348.3" r="1.6" fill="url(#gs)" stroke="#c8aa00" stroke-width="0.2"/>
<circle cx="243.4" cy="333.4" r="1.6" fill="url(#gs)" stroke="#c8aa00" stroke-width="0.2"/>
<circle cx="243.4" cy="348.3" r="1.6" fill="url(#gs)" stroke="#c8aa00" stroke-width="0.2"/>
<circle cx="257.1" cy="333.4" r="1.6" fill="url(#gs)" stroke="#c8aa00" stroke-width="0.2"/>
<circle cx="257.1" cy="348.3" r="1.6" fill="url(#gs)" stroke="#c8aa00" stroke-width="0.2"/>
<circle cx="270.7" cy="333.4" r="1.6" fill="url(#gs)" stroke="#c8aa00" stroke-width="0.2"/>
<circle cx="270.7" cy="348.3" r="1.6" fill="url(#gs)" stroke="#c8aa00" stroke-width="0.2"/>
<circle cx="284.3" cy="333.4" r="1.6" fill="url(#gs)" stroke="#c8aa00" stroke-width="0.2"/>
<circle cx="284.3" cy="348.3" r="1.6" fill="url(#gs)" stroke="#c8aa00" stroke-width="0.2"/>
<circle cx="298" cy="333.4" r="1.6" fill="url(#gs)" stroke="#c8aa00" stroke-width="0.2"/>
<circle cx="298" cy="348.3" r="1.6" fill="url(#gs)" stroke="#c8aa00" stroke-width="0.2"/>
<circle cx="43.8" cy="340.6" r="2.2" fill="url(#gmo)" stroke="#0e5052" stroke-width="0.3"/>
<circle cx="57.4" cy="340.6" r="2.2" fill="url(#gmo)" stroke="#0e5052" stroke-width="0.3"/>
<circle cx="71.1" cy="340.6" r="2.2" fill="url(#gmo)" stroke="#0e5052" stroke-width="0.3"/>
<circle cx="84.7" cy="340.6" r="2.2" fill="url(#gmo)" stroke="#0e5052" stroke-width="0.3"/>
<circle cx="98.3" cy="340.6" r="2.2" fill="url(#gmo)" stroke="#0e5052" stroke-width="0.3"/>
<circle cx="112" cy="340.6" r="2.2" fill="url(#gmo)" stroke="#0e5052" stroke-width="0.3"/>
<circle cx="125.6" cy="340.6" r="2.2" fill="url(#gmo)" stroke="#0e5052" stroke-width="0.3"/>
<circle cx="139.2" cy="340.6" r="2.2" fill="url(#gmo)" stroke="#0e5052" stroke-width="0.3"/>
<circle cx="152.8" cy="340.6" r="2.2" fill="url(#gmo)" stroke="#0e5052" stroke-width="0.3"/>
<circle cx="166.5" cy="340.6" r="2.2" fill="url(#gmo)" stroke="#0e5052" stroke-width="0.3"/>
<circle cx="180.1" cy="340.6" r="2.2" fill="url(#gmo)" stroke="#0e5052" stroke-width="0.3"/>
<circle cx="193.7" cy="340.6" r="2.2" fill="url(#gmo)" stroke="#0e5052" stroke-width="0.3"/>
<circle cx="207.4" cy="340.6" r="2.2" fill="url(#gmo)" stroke="#0e5052" stroke-width="0.3"/>
<circle cx="221" cy="340.6" r="2.2" fill="url(#gmo)" stroke="#0e5052" stroke-width="0.3"/>
<circle cx="234.6" cy="340.6" r="2.2" fill="url(#gmo)" stroke="#0e5052" stroke-width="0.3"/>
<circle cx="248.2" cy="340.6" r="2.2" fill="url(#gmo)" stroke="#0e5052" stroke-width="0.3"/>
<circle cx="261.9" cy="340.6" r="2.2" fill="url(#gmo)" stroke="#0e5052" stroke-width="0.3"/>
<circle cx="275.5" cy="340.6" r="2.2" fill="url(#gmo)" stroke="#0e5052" stroke-width="0.3"/>
<circle cx="289.1" cy="340.6" r="2.2" fill="url(#gmo)" stroke="#0e5052" stroke-width="0.3"/>
<circle cx="302.8" cy="340.6" r="2.2" fill="url(#gmo)" stroke="#0e5052" stroke-width="0.3"/>
<line x1="29.5" y1="331.2" x2="105.5" y2="331.2" stroke="#111" stroke-width="1.3" stroke-dasharray="2.6 2"/>
<line x1="105.5" y1="316" x2="105.5" y2="350" stroke="#111" stroke-width="1.3" stroke-dasharray="2.6 2"/>
<line x1="68.8" y1="289" x2="68.8" y2="335" stroke="#ee1c25" stroke-width="1.4"/>
<path d="M66.6 334 L68.8 340 L71 334 Z" fill="#ee1c25" stroke="#ee1c25" stroke-width="0.3"/>
<line x1="76.2" y1="339.7" x2="143" y2="339.7" stroke="#ee1c25" stroke-width="1.4"/>
<path d="M142 337.5 L148 339.7 L142 341.9 Z" fill="#ee1c25" stroke="#ee1c25" stroke-width="0.3"/>
<path d="M25.6 321.4 Q21 323.9 24.7 327.5 M29.6 321.4 Q33.4 324.9 28.4 327.6" fill="none" stroke="#111" stroke-width="1.45" stroke-linecap="round"/>
<path d="M28.7 319.8 L26.2 328.7" stroke="#111" stroke-width="1.8" stroke-linecap="round"/>
<text x="32.4" y="328.1" font-size="7.8" fill="#111">V</text>
<path d="M119.3 297 Q114.7 299.5 118.4 303.1 M123.3 297 Q127.1 300.5 122.1 303.2" fill="none" stroke="#111" stroke-width="1.45" stroke-linecap="round"/>
<path d="M122.4 295.4 L119.9 304.3" stroke="#111" stroke-width="1.8" stroke-linecap="round"/>
<text x="126.8" y="304.8" font-size="8.2" fill="#111">L</text>
<text x="124" y="326" font-size="10.8" fill="#111">MoS<tspan font-size="7.5">2</tspan> in the channel</text>
<text x="29.5" y="362.2" font-size="10.8" fill="#111">Metallized MoS<tspan font-size="7.5">2</tspan></text>
<text x="235" y="362.2" font-size="10.8" fill="#111">Metallized MoS<tspan font-size="7.5">2</tspan></text>
<text x="341.8" y="235.2" font-size="15" fill="#111">(d)</text>
<line x1="427.4" y1="240.8" x2="427.4" y2="386" stroke="#111" stroke-width="1.5" stroke-dasharray="4 4.8"/>
<line x1="479" y1="240.8" x2="479" y2="386" stroke="#111" stroke-width="1.5" stroke-dasharray="4 4.8"/>
<text x="385.8" y="271.8" font-size="13.8" fill="#111">e</text>
<text x="394.5" y="266.5" font-size="8" fill="#111">-</text>
<line x1="397.4" y1="271.6" x2="509" y2="271.6" stroke="#ee1c25" stroke-width="1.3"/>
<path d="M508 269.2 L514 271.6 L508 274 Z" fill="#ee1c25" stroke="#ee1c25" stroke-width="0.3"/>
<text x="371" y="302.3" font-size="13.5" fill="#111" font-style="italic">E</text>
<text x="381" y="301.9" font-size="9.8" fill="#111">F</text>
<line x1="389.6" y1="296.2" x2="427.6" y2="296.2" stroke="#f0802c" stroke-width="1.6"/>
<line x1="427.6" y1="296" x2="479" y2="296" stroke="#5b1c9c" stroke-width="1.6"/>
<line x1="427.6" y1="297.8" x2="479.6" y2="297.8" stroke="#20a848" stroke-width="1.6"/>
<path d="M479 295.8 C481 289 489 282 503 280.6 L537.4 280.3" fill="none" stroke="#5b1c9c" stroke-width="2"/>
<line x1="479.3" y1="297.8" x2="479.3" y2="357.7" stroke="#20a848" stroke-width="1.8"/>
<path d="M479.3 357.7 C482 350 490 344 506 342.2 L537 342.2" fill="none" stroke="#20a848" stroke-width="2"/>
<line x1="480" y1="296.2" x2="543" y2="296.2" stroke="#111" stroke-width="1.3" stroke-dasharray="4 3.3"/>
<line x1="516.3" y1="282.5" x2="516.3" y2="296" stroke="#777" stroke-width="0.7"/>
<path d="M515.2 285 L516.3 282.3 L517.4 285Z" fill="#777" stroke="#777" stroke-width="0.3"/>
<path d="M515.2 293.5 L516.3 296.2 L517.4 293.5Z" fill="#777" stroke="#777" stroke-width="0.3"/>
<text x="541.2" y="278.7" font-size="14" fill="#5b1c9c" font-style="italic">E</text>
<text x="551.8" y="278.6" font-size="8.5" fill="#5b1c9c">C</text>
<text x="541.2" y="340.9" font-size="14" fill="#20a848" font-style="italic">E</text>
<text x="551.8" y="340.8" font-size="8.5" fill="#20a848">V</text>
<path d="M523.5 284.5 Q518.9 287 522.6 290.6 M527.5 284.5 Q531.3 288 526.3 290.7" fill="none" stroke="#111" stroke-width="1.45" stroke-linecap="round"/>
<path d="M526.6 282.9 L524.1 291.8" stroke="#111" stroke-width="1.8" stroke-linecap="round"/>
<text x="530.2" y="292.4" font-size="8.2" fill="#111">L</text>
<text x="537.8" y="291.6" font-size="11.3" fill="#111">(SBH)</text>
<text transform="translate(410.5 388.2) rotate(-90)" font-size="10.8" fill="#111">Electrode (Ti)</text>
<text transform="translate(455.5 388.2) rotate(-90)" font-size="10.8" fill="#111">Metallized MoS<tspan font-size="7.5">2</tspan></text>
<text transform="translate(503.5 388.2) rotate(-90)" font-size="10.8" fill="#111">MoS<tspan font-size="7.5">2</tspan></text>
<text transform="translate(513.5 388.2) rotate(-90)" font-size="10.8" fill="#111">in the channel</text>
<text x="16.6" y="402.1" font-size="15" fill="#111">(e)</text>
<path d="M22.8 601.4 23.3 601.4 23.8 601.4 24.3 601.4 24.8 601.4 25.3 601.5 25.8 601.5 26.3 601.5 26.8 601.5 27.3 601.5 27.8 601.5 28.3 601.5 28.8 601.5 29.3 601.6 29.8 601.6 30.3 601.6 30.8 601.6 31.3 601.6 31.8 601.6 32.3 601.6 32.8 601.6 33.3 601.7 33.8 601.7 34.3 601.7 34.8 601.7 35.3 601.7 35.8 601.7 36.3 601.7 36.8 601.7 37.3 601.8 37.8 601.8 38.3 601.8 38.8 601.8 39.3 601.8 39.8 601.8 40.3 601.8 40.8 601.8 41.3 601.9 41.8 601.9 42.3 601.9 42.8 601.9 43.3 601.9 43.8 601.9 44.3 601.9 44.8 601.9 45.3 602 45.8 602 46.3 602 46.8 602 47.3 602 47.8 602 48.3 602 48.8 602 49.3 602 49.8 602 50.3 602 50.8 602 51.3 602.1 51.8 602.1 52.3 602.1 52.8 602.1 53.3 602.1 53.8 602.1 54.3 602.1 54.8 602.1 55.3 602 55.8 602 56.3 602 56.8 602 57.3 602 57.8 601.9 58.3 601.9 58.8 601.8 59.3 601.7 59.8 601.6 60.3 601.4 60.8 601.3 61.3 601.1 61.8 600.9 62.3 600.6 62.8 600.3 63.3 600 63.8 599.6 64.3 599.1 64.8 598.6 65.3 598.1 65.8 597.5 66.3 596.9 66.8 596.2 67.3 595.4 67.8 594.6 68.3 593.7 68.8 592.7 69.3 591.7 69.8 590.6 70.3 589.5 70.8 588.3 71.3 587 71.8 585.6 72.3 584.2 72.8 582.7 73.3 581.2 73.8 579.6 74.3 577.9 74.8 576.1 75.3 574.3 75.8 572.4 76.3 570.5 76.8 568.5 77.3 566.5 77.8 564.4 78.3 562.2 78.8 560.1 79.3 557.8 79.8 555.6 80.3 553.3 80.8 551.1 81.3 548.8 81.8 546.5 82.3 544.2 82.8 541.9 83.3 539.6 83.8 537.3 84.3 535.1 84.8 532.9 85.3 530.8 85.8 528.7 86.3 526.7 86.8 524.7 87.3 522.9 87.8 521.1 88.3 519.4 88.8 517.8 89.3 516.3 89.8 515 90.3 513.7 90.8 512.6 91.3 511.6 91.8 510.7 92.3 510 92.8 509.4 93.3 509 93.8 508.7 94.3 508.5 94.8 508.5 95.3 508.7 95.8 508.9 96.3 509.4 96.8 510 97.3 510.7 97.8 511.6 98.3 512.6 98.8 513.7 99.3 514.9 99.8 516.3 100.3 517.8 100.8 519.4 101.3 521.1 101.8 522.9 102.3 524.8 102.8 526.7 103.3 528.7 103.8 530.8 104.3 533 104.8 535.2 105.3 537.4 105.8 539.7 106.3 542 106.8 544.3 107.3 546.6 107.8 549 108.3 551.3 108.8 553.6 109.3 555.9 109.8 558.2 110.3 560.4 110.8 562.6 111.3 564.8 111.8 566.9 112.3 569 112.8 571 113.3 573 113.8 574.9 114.3 576.8 114.8 578.6 115.3 580.3 115.8 582 116.3 583.6 116.8 585.1 117.3 586.6 117.8 588 118.3 589.4 118.8 590.6 119.3 591.9 119.8 593 120.3 594.1 120.8 595.1 121.3 596.1 121.8 597 122.3 597.9 122.8 598.7 123.3 599.4 123.8 600.1 124.3 600.8 124.8 601.4 125.3 602 125.8 602.5 126.3 603 126.8 603.4 127.3 603.8 127.8 604.2 128.3 604.6 128.8 604.9 129.3 605.2 129.8 605.5 130.3 605.7 130.8 606 131.3 606.2 131.8 606.4 132.3 606.5 132.8 606.7 133.3 606.9 133.8 607 134.3 607.1 134.8 607.2 135.3 607.3 135.8 607.4 136.3 607.5 136.8 607.5 137.3 607.6 137.8 607.7 138.3 607.7 138.8 607.7 139.3 607.8 139.8 607.8 140.3 607.8 140.8 607.8 141.3 607.8 141.8 607.8 142.3 607.8 142.8 607.8 143.3 607.8 143.8 607.8 144.3 607.7 144.8 607.6 145.3 607.6 145.8 607.5 146.3 607.4 146.8 607.3 147.3 607.1 147.8 607 148.3 606.8 148.8 606.5 149.3 606.3 149.8 606 150.3 605.7 150.8 605.3 151.3 604.9 151.8 604.4 152.3 603.9 152.8 603.4 153.3 602.7 153.8 602 154.3 601.2 154.8 600.3 155.3 599.4 155.8 598.3 156.3 597.1 156.8 595.9 157.3 594.5 157.8 593 158.3 591.4 158.8 589.6 159.3 587.7 159.8 585.7 160.3 583.5 160.8 581.2 161.3 578.7 161.8 576 162.3 573.2 162.8 570.2 163.3 567.1 163.8 563.8 164.3 560.3 164.8 556.7 165.3 553 165.8 549 166.3 545 166.8 540.8 167.3 536.5 167.8 532.1 168.3 527.6 168.8 523 169.3 518.4 169.8 513.7 170.3 508.9 170.8 504.2 171.3 499.4 171.8 494.7 172.3 490.1 172.8 485.5 173.3 481 173.8 476.6 174.3 472.4 174.8 468.4 175.3 464.5 175.8 460.8 176.3 457.4 176.8 454.2 177.3 451.3 177.8 448.7 178.3 446.4 178.8 444.4 179.3 442.8 179.8 441.5 180.3 440.5 180.8 439.9 181.3 439.7 181.8 439.8 182.3 440.3 182.8 441.1 183.3 442.3 183.8 443.8 184.3 445.7 184.8 447.9 185.3 450.4 185.8 453.3 186.3 456.4 186.8 459.7 187.3 463.3 187.8 467.1 188.3 471.1 188.8 475.3 189.3 479.6 189.8 484.1 190.3 488.7 190.8 493.3 191.3 498 191.8 502.8 192.3 507.6 192.8 512.3 193.3 517.1 193.8 521.8 194.3 526.4 194.8 531 195.3 535.5 195.8 539.8 196.3 544.1 196.8 548.2 197.3 552.2 197.8 556.1 198.3 559.7 198.8 563.3 199.3 566.7 199.8 569.9 200.3 573 200.8 575.9 201.3 578.6 201.8 581.2 202.3 583.6 202.8 585.9 203.3 588 203.8 590 204 597.8 215.4 604.6 224 602.5 232.4 598.3 240 594 249.5 587.2 258.8 583.8 269 586.9 276.7 593.2 285.2 600 294.6 606 296 606.9" fill="none" stroke="#ec1c24" stroke-width="2.3" stroke-dasharray="10 9.5"/>
<path d="M22.8 605.2 23.3 605.2 23.8 605.2 24.3 605.2 24.8 605.2 25.3 605.3 25.8 605.3 26.3 605.3 26.8 605.3 27.3 605.3 27.8 605.3 28.3 605.3 28.8 605.3 29.3 605.4 29.8 605.4 30.3 605.4 30.8 605.4 31.3 605.4 31.8 605.4 32.3 605.4 32.8 605.4 33.3 605.5 33.8 605.5 34.3 605.5 34.8 605.5 35.3 605.5 35.8 605.5 36.3 605.5 36.8 605.5 37.3 605.6 37.8 605.6 38.3 605.6 38.8 605.6 39.3 605.6 39.8 605.6 40.3 605.6 40.8 605.6 41.3 605.7 41.8 605.7 42.3 605.7 42.8 605.7 43.3 605.7 43.8 605.7 44.3 605.7 44.8 605.7 45.3 605.7 45.8 605.7 46.3 605.8 46.8 605.8 47.3 605.8 47.8 605.8 48.3 605.8 48.8 605.8 49.3 605.8 49.8 605.8 50.3 605.8 50.8 605.8 51.3 605.8 51.8 605.8 52.3 605.7 52.8 605.7 53.3 605.7 53.8 605.7 54.3 605.6 54.8 605.6 55.3 605.5 55.8 605.5 56.3 605.4 56.8 605.4 57.3 605.3 57.8 605.2 58.3 605.1 58.8 604.9 59.3 604.8 59.8 604.7 60.3 604.5 60.8 604.3 61.3 604.1 61.8 603.8 62.3 603.6 62.8 603.3 63.3 602.9 63.8 602.6 64.3 602.2 64.8 601.7 65.3 601.3 65.8 600.7 66.3 600.2 66.8 599.6 67.3 598.9 67.8 598.2 68.3 597.4 68.8 596.6 69.3 595.7 69.8 594.7 70.3 593.7 70.8 592.6 71.3 591.5 71.8 590.2 72.3 588.9 72.8 587.5 73.3 586.1 73.8 584.5 74.3 582.9 74.8 581.2 75.3 579.5 75.8 577.7 76.3 575.7 76.8 573.8 77.3 571.7 77.8 569.6 78.3 567.4 78.8 565.2 79.3 562.9 79.8 560.6 80.3 558.2 80.8 555.8 81.3 553.4 81.8 550.9 82.3 548.4 82.8 546 83.3 543.5 83.8 541 84.3 538.6 84.8 536.2 85.3 533.8 85.8 531.5 86.3 529.2 86.8 527.1 87.3 524.9 87.8 522.9 88.3 521 88.8 519.2 89.3 517.5 89.8 515.9 90.3 514.5 90.8 513.2 91.3 512.1 91.8 511.1 92.3 510.2 92.8 509.5 93.3 509 93.8 508.7 94.3 508.5 94.8 508.5 95.3 508.7 95.8 509 96.3 509.5 96.8 510.2 97.3 511 97.8 512 98.3 513.2 98.8 514.4 99.3 515.9 99.8 517.4 100.3 519.1 100.8 521 101.3 522.9 101.8 524.9 102.3 527 102.8 529.2 103.3 531.5 103.8 533.8 104.3 536.2 104.8 538.6 105.3 541.1 105.8 543.5 106.3 546 106.8 548.5 107.3 551 107.8 553.5 108.3 556 108.8 558.4 109.3 560.8 109.8 563.2 110.3 565.5 110.8 567.8 111.3 570 111.8 572.2 112.3 574.2 112.8 576.3 113.3 578.2 113.8 580.1 114.3 581.9 114.8 583.6 115.3 585.3 115.8 586.8 116.3 588.3 116.8 589.8 117.3 591.1 117.8 592.4 118.3 593.6 118.8 594.7 119.3 595.8 119.8 596.8 120.3 597.7 120.8 598.6 121.3 599.4 121.8 600.1 122.3 600.8 122.8 601.5 123.3 602.1 123.8 602.6 124.3 603.1 124.8 603.6 125.3 604 125.8 604.4 126.3 604.8 126.8 605.1 127.3 605.4 127.8 605.7 128.3 605.9 128.8 606.1 129.3 606.3 129.8 606.5 130.3 606.7 130.8 606.9 131.3 607 131.8 607.1 132.3 607.2 132.8 607.3 133.3 607.4 133.8 607.5 134.3 607.6 134.8 607.6 135.3 607.7 135.8 607.7 136.3 607.8 136.8 607.8 137.3 607.9 137.8 607.9 138.3 607.9 138.8 608 139.3 608 139.8 608 140.3 608 140.8 608 141.3 608 141.8 608.1 142.3 608.1 142.8 608.1 143.3 608.1 143.8 608 144.3 608 144.8 608 145.3 608 145.8 608 146.3 607.9 146.8 607.9 147.3 607.8 147.8 607.7 148.3 607.6 148.8 607.5 149.3 607.4 149.8 607.2 150.3 607 150.8 606.8 151.3 606.6 151.8 606.3 152.3 606 152.8 605.6 153.3 605.2 153.8 604.7 154.3 604.2 154.8 603.6 155.3 602.9 155.8 602.1 156.3 601.3 156.8 600.3 157.3 599.3 157.8 598.1 158.3 596.8 158.8 595.4 159.3 593.9 159.8 592.2 160.3 590.3 160.8 588.3 161.3 586.2 161.8 583.8 162.3 581.3 162.8 578.6 163.3 575.8 163.8 572.7 164.3 569.4 164.8 566 165.3 562.4 165.8 558.6 166.3 554.6 166.8 550.4 167.3 546.1 167.8 541.6 168.3 537 168.8 532.2 169.3 527.3 169.8 522.4 170.3 517.3 170.8 512.2 171.3 507.1 171.8 502 172.3 496.9 172.8 491.8 173.3 486.9 173.8 482 174.3 477.2 174.8 472.7 175.3 468.3 175.8 464.1 176.3 460.2 176.8 456.6 177.3 453.2 177.8 450.2 178.3 447.5 178.8 445.2 179.3 443.3 179.8 441.8 180.3 440.6 180.8 439.9 181.3 439.7 181.8 439.8 182.3 440.4 182.8 441.3 183.3 442.7 183.8 444.5 184.3 446.7 184.8 449.3 185.3 452.2 185.8 455.4 186.3 459 186.8 462.8 187.3 466.9 187.8 471.2 188.3 475.7 188.8 480.4 189.3 485.3 189.8 490.3 190.3 495.3 190.8 500.4 191.3 505.6 191.8 510.7 192.3 515.8 192.8 520.9 193.3 526 193.8 530.9 194.3 535.7 194.8 540.4 195.3 545 195.8 549.4 196.3 553.7 196.8 557.8 197.3 561.7 197.8 565.4 198.3 568.9 198.8 572.3 199.3 575.4 199.8 578.4 200.3 581.2 200.8 583.8 201.3 586.2 201.8 588.5 202.3 590.6 202.8 592.5 203.3 594.3 203.8 595.9 204.3 597.4 204.8 598.8 205.3 600 205.8 601.1 206.3 602.1 206.8 603.1 207.3 603.9 207.8 604.6 208.3 605.3 208.8 605.9 209.3 606.4 209.8 606.9 210.3 607.3 210.8 607.6 211.3 608 211.8 608.2 212.3 608.5 212.8 608.7 213.3 608.9 213.8 609.1 214.3 609.2 214.8 609.3 215.3 609.5 215.8 609.6 216.3 609.6 216.8 609.7 217.3 609.8 217.8 609.8 218.3 609.9 218.8 609.9 219.3 610 219.8 610 220.3 610 220.8 610.1 221.3 610.1 221.8 610.1 222.3 610.1 222.8 610.2 223.3 610.2 223.8 610.2 224.3 610.2 224.8 610.2 225.3 610.2 225.8 610.3 226.3 610.3 226.8 610.3 227.3 610.3 227.8 610.3 228.3 610.3 228.8 610.3 229.3 610.3 229.8 610.4 230.3 610.4 230.8 610.4 231.3 610.4 231.8 610.4 232.3 610.4 232.8 610.4 233.3 610.4 233.8 610.5 234.3 610.5 234.8 610.5 235.3 610.5 235.8 610.5 236.3 610.5 236.8 610.5 237.3 610.5 237.8 610.6 238.3 610.6 238.8 610.6 239.3 610.6 239.8 610.6 240.3 610.6 240.8 610.6 241.3 610.6 241.8 610.7 242.3 610.7 242.8 610.7 243.3 610.7 243.8 610.7 244.3 610.7 244.8 610.7 245.3 610.7 245.8 610.8 246.3 610.8 246.8 610.8 247.3 610.8 247.8 610.8 248.3 610.8 248.8 610.8 249.3 610.8 249.8 610.9 250.3 610.9 250.8 610.9 251.3 610.9 251.8 610.9 252.3 610.9 252.8 610.9 253.3 610.9 253.8 611 254.3 611 254.8 611 255.3 611 255.8 611 256.3 611 256.8 611 257.3 611 257.8 611.1 258.3 611.1 258.8 611.1 259.3 611.1 259.8 611.1 260.3 611.1 260.8 611.1 261.3 611.1 261.8 611.2 262.3 611.2 262.8 611.2 263.3 611.2 263.8 611.2 264.3 611.2 264.8 611.2 265.3 611.2 265.8 611.3 266.3 611.3 266.8 611.3 267.3 611.3 267.8 611.3 268.3 611.3 268.8 611.3 269.3 611.3 269.8 611.4 270.3 611.4 270.8 611.4 271.3 611.4 271.8 611.4 272.3 611.4 272.8 611.4 273.3 611.4 273.8 611.5 274.3 611.5 274.8 611.5 275.3 611.5 275.8 611.5 276.3 611.5 276.8 611.5 277.3 611.5 277.8 611.6 278.3 611.6 278.8 611.6 279.3 611.6 279.8 611.6 280.3 611.6 280.8 611.6 281.3 611.6 281.8 611.7 282.3 611.7 282.8 611.7 283.3 611.7 283.8 611.7 284.3 611.7 284.8 611.7 285.3 611.7 285.8 611.8 286.3 611.8 286.8 611.8 287.3 611.8 287.8 611.8 288.3 611.8 288.8 611.8 289.3 611.8 289.8 611.9 290.3 611.9 290.8 611.9 291.3 611.9 291.8 611.9 292.3 611.9 292.8 611.9 293.3 611.9 293.8 612 294.3 612 294.8 612 295.3 612" fill="none" stroke="#1f4e9e" stroke-width="1.8" stroke-dasharray="6 5"/>
<path d="M22.8 606 23.3 606 23.8 606 24.3 606 24.8 606 25.3 606.1 25.8 606.1 26.3 606.1 26.8 606.1 27.3 606.1 27.8 606.1 28.3 606.1 28.8 606.1 29.3 606.2 29.8 606.2 30.3 606.2 30.8 606.2 31.3 606.2 31.8 606.2 32.3 606.2 32.8 606.2 33.3 606.3 33.8 606.3 34.3 606.3 34.8 606.3 35.3 606.3 35.8 606.3 36.3 606.3 36.8 606.3 37.3 606.4 37.8 606.4 38.3 606.4 38.8 606.4 39.3 606.4 39.8 606.4 40.3 606.4 40.8 606.4 41.3 606.5 41.8 606.5 42.3 606.5 42.8 606.5 43.3 606.5 43.8 606.5 44.3 606.5 44.8 606.5 45.3 606.6 45.8 606.6 46.3 606.6 46.8 606.6 47.3 606.6 47.8 606.6 48.3 606.6 48.8 606.6 49.3 606.7 49.8 606.7 50.3 606.7 50.8 606.7 51.3 606.7 51.8 606.7 52.3 606.7 52.8 606.7 53.3 606.8 53.8 606.8 54.3 606.8 54.8 606.8 55.3 606.8 55.8 606.8 56.3 606.8 56.8 606.8 57.3 606.9 57.8 606.9 58.3 606.9 58.8 606.9 59.3 606.9 59.8 606.9 60.3 606.9 60.8 606.9 61.3 607 61.8 607 62.3 607 62.8 607 63.3 607 63.8 607 64.3 607 64.8 607 65.3 607.1 65.8 607.1 66.3 607.1 66.8 607.1 67.3 607.1 67.8 607.1 68.3 607.1 68.8 607.1 69.3 607.2 69.8 607.2 70.3 607.2 70.8 607.2 71.3 607.2 71.8 607.2 72.3 607.2 72.8 607.2 73.3 607.3 73.8 607.3 74.3 607.3 74.8 607.3 75.3 607.3 75.8 607.3 76.3 607.3 76.8 607.3 77.3 607.4 77.8 607.4 78.3 607.4 78.8 607.4 79.3 607.4 79.8 607.4 80.3 607.4 80.8 607.4 81.3 607.5 81.8 607.5 82.3 607.5 82.8 607.5 83.3 607.5 83.8 607.5 84.3 607.5 84.8 607.5 85.3 607.6 85.8 607.6 86.3 607.6 86.8 607.6 87.3 607.6 87.8 607.6 88.3 607.6 88.8 607.6 89.3 607.7 89.8 607.7 90.3 607.7 90.8 607.7 91.3 607.7 91.8 607.7 92.3 607.7 92.8 607.7 93.3 607.8 93.8 607.8 94.3 607.8 94.8 607.8 95.3 607.8 95.8 607.8 96.3 607.8 96.8 607.8 97.3 607.9 97.8 607.9 98.3 607.9 98.8 607.9 99.3 607.9 99.8 607.9 100.3 607.9 100.8 607.9 101.3 608 101.8 608 102.3 608 102.8 608 103.3 608 103.8 608 104.3 608 104.8 608 105.3 608.1 105.8 608.1 106.3 608.1 106.8 608.1 107.3 608.1 107.8 608.1 108.3 608.1 108.8 608.1 109.3 608.2 109.8 608.2 110.3 608.2 110.8 608.2 111.3 608.2 111.8 608.2 112.3 608.2 112.8 608.2 113.3 608.3 113.8 608.3 114.3 608.3 114.8 608.3 115.3 608.3 115.8 608.3 116.3 608.3 116.8 608.3 117.3 608.4 117.8 608.4 118.3 608.4 118.8 608.4 119.3 608.4 119.8 608.4 120.3 608.4 120.8 608.4 121.3 608.5 121.8 608.5 122.3 608.5 122.8 608.5 123.3 608.5 123.8 608.5 124.3 608.5 124.8 608.5 125.3 608.6 125.8 608.6 126.3 608.6 126.8 608.6 127.3 608.6 127.8 608.6 128.3 608.6 128.8 608.6 129.3 608.7 129.8 608.7 130.3 608.7 130.8 608.7 131.3 608.7 131.8 608.7 132.3 608.7 132.8 608.7 133.3 608.8 133.8 608.8 134.3 608.8 134.8 608.8 135.3 608.8 135.8 608.8 136.3 608.8 136.8 608.8 137.3 608.9 137.8 608.9 138.3 608.9 138.8 608.9 139.3 608.9 139.8 608.9 140.3 608.9 140.8 608.9 141.3 609 141.8 609 142.3 609 142.8 609 143.3 609 143.8 609 144.3 609 144.8 609 145.3 609.1 145.8 609.1 146.3 609.1 146.8 609.1 147.3 609.1 147.8 609.1 148.3 609.1 148.8 609.1 149.3 609.2 149.8 609.2 150.3 609.2 150.8 609.2 151.3 609.2 151.8 609.2 152.3 609.2 152.8 609.2 153.3 609.3 153.8 609.3 154.3 609.3 154.8 609.3 155.3 609.3 155.8 609.3 156.3 609.3 156.8 609.3 157.3 609.4 157.8 609.4 158.3 609.4 158.8 609.4 159.3 609.4 159.8 609.4 160.3 609.4 160.8 609.4 161.3 609.5 161.8 609.5 162.3 609.5 162.8 609.5 163.3 609.5 163.8 609.5 164.3 609.5 164.8 609.5 165.3 609.6 165.8 609.6 166.3 609.6 166.8 609.6 167.3 609.6 167.8 609.6 168.3 609.6 168.8 609.6 169.3 609.7 169.8 609.7 170.3 609.7 170.8 609.7 171.3 609.7 171.8 609.7 172.3 609.7 172.8 609.7 173.3 609.8 173.8 609.8 174.3 609.8 174.8 609.8 175.3 609.8 175.8 609.8 176.3 609.8 176.8 609.8 177.3 609.9 177.8 609.9 178.3 609.9 178.8 609.9 179.3 609.9 179.8 609.9 180.3 609.9 180.8 609.9 181.3 610 181.8 610 182.3 610 182.8 610 183.3 610 183.8 610 184.3 610 184.8 610 185.3 610.1 185.8 610.1 186.3 610.1 186.8 610.1 187.3 610.1 187.8 610.1 188.3 610.1 188.8 610.1 189.3 610.2 189.8 610.2 190.3 610.2 190.8 610.2 191.3 610.2 191.8 610.2 192.3 610.2 192.8 610.2 193.3 610.2 193.8 610.3 194.3 610.3 194.8 610.3 195.3 610.3 195.8 610.3 196.3 610.3 196.8 610.3 197.3 610.3 197.8 610.4 198.3 610.4 198.8 610.4 199.3 610.4 199.8 610.4 200.3 610.4 200.8 610.4 201.3 610.4 201.8 610.5 202.3 610.5 202.8 610.5 203.3 610.5 203.8 610.5 204.3 610.5 204.8 610.5 205.3 610.5 205.8 610.6 206.3 610.6 206.8 610.6 207.3 610.6 207.8 610.6 208.3 610.6 208.8 610.6 209.3 610.6 209.8 610.7 210.3 610.7 210.8 610.7 211.3 610.7 211.8 610.7 212.3 610.7 212.8 610.7 213.3 610.7 213.8 610.8 214.3 610.8 214.8 610.8 215.3 610.8 215.8 610.8 216.3 610.8 216.8 610.8 217.3 610.8 217.8 610.9 218.3 610.9 218.8 610.9 219.3 610.9 219.8 610.9 220.3 610.9 220.8 610.9 221.3 610.9 221.8 611 222.3 611 222.8 611 223.3 611 223.8 611 224.3 611 224.8 611 225.3 611 225.8 611.1 226.3 611.1 226.8 611.1 227.3 611.1 227.8 611.1 228.3 611.1 228.8 611.1 229.3 611.1 229.8 611.2 230.3 611.2 230.8 611.2 231.3 611.2 231.8 611.2 232.3 611.2 232.8 611.2 233.3 611.2 233.8 611.3 234.3 611.3 234.8 611.3 235.3 611.3 235.8 611.3 236.3 611.3 236.8 611.3 237.3 611.3 237.8 611.4 238.3 611.4 238.8 611.4 239.3 611.4 239.8 611.4 240.3 611.4 240.8 611.4 241.3 611.4 241.8 611.5 242.3 611.5 242.8 611.5 243.3 611.5 243.8 611.5 244.3 611.5 244.8 611.5 245.3 611.5 245.8 611.6 246.3 611.6 246.8 611.6 247.3 611.6 247.8 611.6 248.3 611.6 248.8 611.6 249.3 611.6 249.8 611.7 250.3 611.7 250.8 611.7 251.3 611.7 251.8 611.7 252.3 611.7 252.8 611.7 253.3 611.7 253.8 611.8 254.3 611.8 254.8 611.8 255.3 611.8 255.8 611.8 256.3 611.8 256.8 611.8 257.3 611.8 257.8 611.9 258.3 611.9 258.8 611.9 259.3 611.9 259.8 611.9 260.3 611.9 260.8 611.9 261.3 611.9 261.8 612 262.3 612 262.8 612 263.3 612 263.8 612 264.3 612 264.8 612 265.3 612 265.8 612.1 266.3 612.1 266.8 612.1 267.3 612.1 267.8 612.1 268.3 612.1 268.8 612.1 269.3 612.1 269.8 612.2 270.3 612.2 270.8 612.2 271.3 612.2 271.8 612.2 272.3 612.2 272.8 612.2 273.3 612.2 273.8 612.3 274.3 612.3 274.8 612.3 275.3 612.3 275.8 612.3 276.3 612.3 276.8 612.3 277.3 612.3 277.8 612.4 278.3 612.4 278.8 612.4 279.3 612.4 279.8 612.4 280.3 612.4 280.8 612.4 281.3 612.4 281.8 612.5 282.3 612.5 282.8 612.5 283.3 612.5 283.8 612.5 284.3 612.5 284.8 612.5 285.3 612.5 285.8 612.6 286.3 612.6 286.8 612.6 287.3 612.6 287.8 612.6 288.3 612.6 288.8 612.6 289.3 612.6 289.8 612.7 290.3 612.7 290.8 612.7 291.3 612.7 291.8 612.7 292.3 612.7 292.8 612.7 293.3 612.7 293.8 612.8 294.3 612.8 294.8 612.8 295.3 612.8" fill="none" stroke="#ffc000" stroke-width="1.5"/>
<path d="M22.8 605.2 23.3 605.2 23.8 605.2 24.3 605.2 24.8 605.2 25.3 605.3 25.8 605.3 26.3 605.3 26.8 605.3 27.3 605.3 27.8 605.3 28.3 605.3 28.8 605.3 29.3 605.4 29.8 605.4 30.3 605.4 30.8 605.4 31.3 605.4 31.8 605.4 32.3 605.4 32.8 605.4 33.3 605.5 33.8 605.5 34.3 605.5 34.8 605.5 35.3 605.5 35.8 605.5 36.3 605.5 36.8 605.5 37.3 605.6 37.8 605.6 38.3 605.6 38.8 605.6 39.3 605.6 39.8 605.6 40.3 605.6 40.8 605.6 41.3 605.7 41.8 605.7 42.3 605.7 42.8 605.7 43.3 605.7 43.8 605.7 44.3 605.7 44.8 605.7 45.3 605.7 45.8 605.7 46.3 605.8 46.8 605.8 47.3 605.8 47.8 605.8 48.3 605.8 48.8 605.8 49.3 605.8 49.8 605.8 50.3 605.8 50.8 605.8 51.3 605.8 51.8 605.8 52.3 605.7 52.8 605.7 53.3 605.7 53.8 605.7 54.3 605.6 54.8 605.6 55.3 605.5 55.8 605.5 56.3 605.4 56.8 605.4 57.3 605.3 57.8 605.2 58.3 605.1 58.8 604.9 59.3 604.8 59.8 604.7 60.3 604.5 60.8 604.3 61.3 604.1 61.8 603.8 62.3 603.6 62.8 603.3 63.3 602.9 63.8 602.6 64.3 602.2 64.8 601.7 65.3 601.3 65.8 600.7 66.3 600.2 66.8 599.6 67.3 598.9 67.8 598.2 68.3 597.4 68.8 596.6 69.3 595.7 69.8 594.7 70.3 593.7 70.8 592.6 71.3 591.5 71.8 590.2 72.3 588.9 72.8 587.5 73.3 586.1 73.8 584.5 74.3 582.9 74.8 581.2 75.3 579.5 75.8 577.7 76.3 575.7 76.8 573.8 77.3 571.7 77.8 569.6 78.3 567.4 78.8 565.2 79.3 562.9 79.8 560.6 80.3 558.2 80.8 555.8 81.3 553.4 81.8 550.9 82.3 548.4 82.8 546 83.3 543.5 83.8 541 84.3 538.6 84.8 536.2 85.3 533.8 85.8 531.5 86.3 529.2 86.8 527.1 87.3 524.9 87.8 522.9 88.3 521 88.8 519.2 89.3 517.5 89.8 515.9 90.3 514.5 90.8 513.2 91.3 512.1 91.8 511.1 92.3 510.2 92.8 509.5 93.3 509 93.8 508.7 94.3 508.5 94.8 508.5 95.3 508.7 95.8 509 96.3 509.5 96.8 510.2 97.3 511 97.8 512 98.3 513.2 98.8 514.4 99.3 515.9 99.8 517.4 100.3 519.1 100.8 521 101.3 522.9 101.8 524.9 102.3 527 102.8 529.2 103.3 531.5 103.8 533.8 104.3 536.2 104.8 538.6 105.3 541.1 105.8 543.5 106.3 546 106.8 548.5 107.3 551 107.8 553.5 108.3 556 108.8 558.4 109.3 560.8 109.8 563.2 110.3 565.5 110.8 567.8 111.3 570 111.8 572.2 112.3 574.2 112.8 576.3 113.3 578.2 113.8 580.1 114.3 581.9 114.8 583.6 115.3 585.3 115.8 586.8 116.3 588.3 116.8 589.8 117.3 591.1 117.8 592.4 118.3 593.6 118.8 594.7 119.3 595.8 119.8 596.8 120.3 597.7 120.8 598.6 121.3 599.4 121.8 600.1 122.3 600.8 122.8 601.5 123.3 602.1 123.8 602.6 124.3 603.1 124.8 603.6 125.3 604 125.8 604.4 126.3 604.8 126.8 605.1 127.3 605.4 127.8 605.7 128.3 605.9 128.8 606.1 129.3 606.3 129.8 606.5 130.3 606.7 130.8 606.9 131.3 607 131.8 607.1 132.3 607.2 132.8 607.3 133.3 607.4 133.8 607.5 134.3 607.6 134.8 607.6 135.3 607.7 135.8 607.7 136.3 607.8 136.8 607.8 137.3 607.9 137.8 607.9 138.3 607.9 138.8 608 139.3 608 139.8 608 140.3 608.1 140.8 608.1 141.3 608.1 141.8 608.1 142.3 608.1 142.8 608.2 143.3 608.2 143.8 608.2 144.3 608.2 144.8 608.2 145.3 608.2 145.8 608.3 146.3 608.3 146.8 608.3 147.3 608.3 147.8 608.3 148.3 608.3 148.8 608.3 149.3 608.4 149.8 608.4 150.3 608.4 150.8 608.4 151.3 608.4 151.8 608.4 152.3 608.4 152.8 608.4 153.3 608.5 153.8 608.5 154.3 608.5 154.8 608.5 155.3 608.5 155.8 608.5 156.3 608.5 156.8 608.5 157.3 608.6 157.8 608.6 158.3 608.6 158.8 608.6 159.3 608.6 159.8 608.6 160.3 608.6 160.8 608.6 161.3 608.7 161.8 608.7 162.3 608.7 162.8 608.7 163.3 608.7 163.8 608.7 164.3 608.7 164.8 608.7 165.3 608.8 165.8 608.8 166.3 608.8 166.8 608.8 167.3 608.8 167.8 608.8 168.3 608.8 168.8 608.8 169.3 608.9 169.8 608.9 170.3 608.9 170.8 608.9 171.3 608.9 171.8 608.9 172.3 608.9 172.8 608.9 173.3 609 173.8 609 174.3 609 174.8 609 175.3 609 175.8 609 176.3 609 176.8 609 177.3 609.1 177.8 609.1 178.3 609.1 178.8 609.1 179.3 609.1 179.8 609.1 180.3 609.1 180.8 609.1 181.3 609.2 181.8 609.2 182.3 609.2 182.8 609.2 183.3 609.2 183.8 609.2 184.3 609.2 184.8 609.2 185.3 609.3 185.8 609.3 186.3 609.3 186.8 609.3 187.3 609.3 187.8 609.3 188.3 609.3 188.8 609.3 189.3 609.4 189.8 609.4 190.3 609.4 190.8 609.4 191.3 609.4 191.8 609.4 192.3 609.4 192.8 609.4 193.3 609.4 193.8 609.5 194.3 609.5 194.8 609.5 195.3 609.5 195.8 609.5 196.3 609.5 196.8 609.5 197.3 609.5 197.8 609.6 198.3 609.6 198.8 609.6 199.3 609.6 199.8 609.6 200.3 609.6 200.8 609.6 201.3 609.6 201.8 609.7 202.3 609.7 202.8 609.7 203.3 609.7 203.8 609.7 204.3 609.7 204.8 609.7 205.3 609.7 205.8 609.8 206.3 609.8 206.8 609.8 207.3 609.8 207.8 609.8 208.3 609.8 208.8 609.8 209.3 609.8 209.8 609.9 210.3 609.9 210.8 609.9 211.3 609.9 211.8 609.9 212.3 609.9 212.8 609.9 213.3 609.9 213.8 610 214.3 610 214.8 610 215.3 610 215.8 610 216.3 610 216.8 610 217.3 610 217.8 610.1 218.3 610.1 218.8 610.1 219.3 610.1 219.8 610.1 220.3 610.1 220.8 610.1 221.3 610.1 221.8 610.2 222.3 610.2 222.8 610.2 223.3 610.2 223.8 610.2 224.3 610.2 224.8 610.2 225.3 610.2 225.8 610.3 226.3 610.3 226.8 610.3 227.3 610.3 227.8 610.3 228.3 610.3 228.8 610.3 229.3 610.3 229.8 610.4 230.3 610.4 230.8 610.4 231.3 610.4 231.8 610.4 232.3 610.4 232.8 610.4 233.3 610.4 233.8 610.5 234.3 610.5 234.8 610.5 235.3 610.5 235.8 610.5 236.3 610.5 236.8 610.5 237.3 610.5 237.8 610.6 238.3 610.6 238.8 610.6 239.3 610.6 239.8 610.6 240.3 610.6 240.8 610.6 241.3 610.6 241.8 610.7 242.3 610.7 242.8 610.7 243.3 610.7 243.8 610.7 244.3 610.7 244.8 610.7 245.3 610.7 245.8 610.8 246.3 610.8 246.8 610.8 247.3 610.8 247.8 610.8 248.3 610.8 248.8 610.8 249.3 610.8 249.8 610.9 250.3 610.9 250.8 610.9 251.3 610.9 251.8 610.9 252.3 610.9 252.8 610.9 253.3 610.9 253.8 611 254.3 611 254.8 611 255.3 611 255.8 611 256.3 611 256.8 611 257.3 611 257.8 611.1 258.3 611.1 258.8 611.1 259.3 611.1 259.8 611.1 260.3 611.1 260.8 611.1 261.3 611.1 261.8 611.2 262.3 611.2 262.8 611.2 263.3 611.2 263.8 611.2 264.3 611.2 264.8 611.2 265.3 611.2 265.8 611.3 266.3 611.3 266.8 611.3 267.3 611.3 267.8 611.3 268.3 611.3 268.8 611.3 269.3 611.3 269.8 611.4 270.3 611.4 270.8 611.4 271.3 611.4 271.8 611.4 272.3 611.4 272.8 611.4 273.3 611.4 273.8 611.5 274.3 611.5 274.8 611.5 275.3 611.5 275.8 611.5 276.3 611.5 276.8 611.5 277.3 611.5 277.8 611.6 278.3 611.6 278.8 611.6 279.3 611.6 279.8 611.6 280.3 611.6 280.8 611.6 281.3 611.6 281.8 611.7 282.3 611.7 282.8 611.7 283.3 611.7 283.8 611.7 284.3 611.7 284.8 611.7 285.3 611.7 285.8 611.8 286.3 611.8 286.8 611.8 287.3 611.8 287.8 611.8 288.3 611.8 288.8 611.8 289.3 611.8 289.8 611.9 290.3 611.9 290.8 611.9 291.3 611.9 291.8 611.9 292.3 611.9 292.8 611.9 293.3 611.9 293.8 612 294.3 612 294.8 612 295.3 612" fill="none" stroke="#3b3f8f" stroke-width="1.6"/>
<path d="M56.3 606 56.8 606 57.3 606.1 57.8 606.1 58.3 606.1 58.8 606.1 59.3 606.1 59.8 606.1 60.3 606.1 60.8 606.1 61.3 606.2 61.8 606.2 62.3 606.2 62.8 606.2 63.3 606.2 63.8 606.2 64.3 606.2 64.8 606.2 65.3 606.3 65.8 606.3 66.3 606.3 66.8 606.3 67.3 606.3 67.8 606.3 68.3 606.3 68.8 606.3 69.3 606.4 69.8 606.4 70.3 606.4 70.8 606.4 71.3 606.4 71.8 606.4 72.3 606.4 72.8 606.4 73.3 606.5 73.8 606.5 74.3 606.5 74.8 606.5 75.3 606.5 75.8 606.5 76.3 606.5 76.8 606.5 77.3 606.6 77.8 606.6 78.3 606.6 78.8 606.6 79.3 606.6 79.8 606.6 80.3 606.6 80.8 606.6 81.3 606.7 81.8 606.7 82.3 606.7 82.8 606.7 83.3 606.7 83.8 606.7 84.3 606.7 84.8 606.7 85.3 606.8 85.8 606.8 86.3 606.8 86.8 606.8 87.3 606.8 87.8 606.8 88.3 606.8 88.8 606.8 89.3 606.9 89.8 606.9 90.3 606.9 90.8 606.9 91.3 606.9 91.8 606.9 92.3 606.9 92.8 606.9 93.3 607 93.8 607 94.3 607 94.8 607 95.3 607 95.8 607 96.3 607 96.8 607 97.3 607.1 97.8 607.1 98.3 607.1 98.8 607.1 99.3 607.1 99.8 607.1 100.3 607.1 100.8 607.1 101.3 607.2 101.8 607.2 102.3 607.2 102.8 607.2 103.3 607.2 103.8 607.2 104.3 607.2 104.8 607.2 105.3 607.3 105.8 607.3 106.3 607.3 106.8 607.3 107.3 607.3 107.8 607.3 108.3 607.3 108.8 607.3 109.3 607.4 109.8 607.4 110.3 607.4 110.8 607.4 111.3 607.4 111.8 607.4 112.3 607.4 112.8 607.4 113.3 607.5 113.8 607.5 114.3 607.5 114.8 607.5 115.3 607.5 115.8 607.5 116.3 607.5 116.8 607.5 117.3 607.6 117.8 607.6 118.3 607.6 118.8 607.6 119.3 607.6 119.8 607.6 120.3 607.6 120.8 607.6 121.3 607.7 121.8 607.7 122.3 607.7 122.8 607.7 123.3 607.7 123.8 607.7 124.3 607.7 124.8 607.7 125.3 607.8 125.8 607.8 126.3 607.8 126.8 607.8 127.3 607.8 127.8 607.8 128.3 607.8 128.8 607.8 129.3 607.9 129.8 607.9 130.3 607.9 130.8 607.9 131.3 607.9 131.8 607.9 132.3 607.9 132.8 607.9 133.3 608 133.8 608 134.3 608 134.8 608 135.3 608 135.8 608 136.3 608 136.8 608 137.3 608 137.8 608.1 138.3 608.1 138.8 608.1 139.3 608.1 139.8 608.1 140.3 608.1 140.8 608.1 141.3 608.1 141.8 608.1 142.3 608.1 142.8 608.1 143.3 608.1 143.8 608.1 144.3 608.1 144.8 608 145.3 608 145.8 608 146.3 607.9 146.8 607.9 147.3 607.8 147.8 607.7 148.3 607.6 148.8 607.5 149.3 607.4 149.8 607.2 150.3 607 150.8 606.8 151.3 606.6 151.8 606.3 152.3 606 152.8 605.6 153.3 605.2 153.8 604.7 154.3 604.2 154.8 603.6 155.3 602.9 155.8 602.1 156.3 601.3 156.8 600.3 157.3 599.3 157.8 598.1 158.3 596.8 158.8 595.4 159.3 593.9 159.8 592.2 160.3 590.3 160.8 588.3 161.3 586.2 161.8 583.8 162.3 581.3 162.8 578.6 163.3 575.8 163.8 572.7 164.3 569.4 164.8 566 165.3 562.4 165.8 558.6 166.3 554.6 166.8 550.4 167.3 546.1 167.8 541.6 168.3 537 168.8 532.2 169.3 527.3 169.8 522.4 170.3 517.3 170.8 512.2 171.3 507.1 171.8 502 172.3 496.9 172.8 491.8 173.3 486.9 173.8 482 174.3 477.2 174.8 472.7 175.3 468.3 175.8 464.1 176.3 460.2 176.8 456.6 177.3 453.2 177.8 450.2 178.3 447.5 178.8 445.2 179.3 443.3 179.8 441.8 180.3 440.6 180.8 439.9 181.3 439.7 181.8 439.8 182.3 440.4 182.8 441.3 183.3 442.7 183.8 444.5 184.3 446.7 184.8 449.3 185.3 452.2 185.8 455.4 186.3 459 186.8 462.8 187.3 466.9 187.8 471.2 188.3 475.7 188.8 480.4 189.3 485.3 189.8 490.3 190.3 495.3 190.8 500.4 191.3 505.6 191.8 510.7 192.3 515.8 192.8 520.9 193.3 526 193.8 530.9 194.3 535.7 194.8 540.4 195.3 545 195.8 549.4 196.3 553.7 196.8 557.8 197.3 561.7 197.8 565.4 198.3 568.9 198.8 572.3 199.3 575.4 199.8 578.4 200.3 581.2 200.8 583.8 201.3 586.2 201.8 588.5 202.3 590.6 202.8 592.5 203.3 594.3 203.8 595.9 204.3 597.4 204.8 598.8 205.3 600 205.8 601.1 206.3 602.1 206.8 603.1 207.3 603.9 207.8 604.6 208.3 605.3 208.8 605.9 209.3 606.4 209.8 606.9 210.3 607.3 210.8 607.6 211.3 608 211.8 608.2 212.3 608.5 212.8 608.7 213.3 608.9 213.8 609.1 214.3 609.2 214.8 609.3 215.3 609.5 215.8 609.6" fill="none" stroke="#22b04a" stroke-width="1.6"/>
<rect x="22.8" y="413.6" width="272.8" height="219.3" fill="none" stroke="#333" stroke-width="1.3"/>
<line x1="22.8" y1="632.9" x2="22.8" y2="627.9" stroke="#333" stroke-width="1.1"/>
<line x1="50.1" y1="632.9" x2="50.1" y2="627.9" stroke="#333" stroke-width="1.1"/>
<line x1="77.5" y1="632.9" x2="77.5" y2="627.9" stroke="#333" stroke-width="1.1"/>
<line x1="104.8" y1="632.9" x2="104.8" y2="627.9" stroke="#333" stroke-width="1.1"/>
<line x1="132.1" y1="632.9" x2="132.1" y2="627.9" stroke="#333" stroke-width="1.1"/>
<line x1="159.4" y1="632.9" x2="159.4" y2="627.9" stroke="#333" stroke-width="1.1"/>
<line x1="186.8" y1="632.9" x2="186.8" y2="627.9" stroke="#333" stroke-width="1.1"/>
<line x1="214.1" y1="632.9" x2="214.1" y2="627.9" stroke="#333" stroke-width="1.1"/>
<line x1="241.4" y1="632.9" x2="241.4" y2="627.9" stroke="#333" stroke-width="1.1"/>
<line x1="268.8" y1="632.9" x2="268.8" y2="627.9" stroke="#333" stroke-width="1.1"/>
<line x1="296.1" y1="632.9" x2="296.1" y2="627.9" stroke="#333" stroke-width="1.1"/>
<text x="22.8" y="649.2" font-size="14" fill="#111" text-anchor="middle">236</text>
<text x="77.5" y="649.2" font-size="14" fill="#111" text-anchor="middle">234</text>
<text x="132.1" y="649.2" font-size="14" fill="#111" text-anchor="middle">232</text>
<text x="186.8" y="649.2" font-size="14" fill="#111" text-anchor="middle">230</text>
<text x="241.4" y="649.2" font-size="14" fill="#111" text-anchor="middle">228</text>
<text x="296.1" y="649.2" font-size="14" fill="#111" text-anchor="middle">226</text>
<rect x="211" y="423.4" width="79.6" height="72.2" fill="#fff" stroke="#9a9a9a" stroke-width="1"/>
<line x1="211.4" y1="431.6" x2="221.9" y2="431.6" stroke="#ec1c24" stroke-width="2.2"/>
<line x1="231.6" y1="431.6" x2="238.6" y2="431.6" stroke="#ec1c24" stroke-width="2.2"/>
<text x="241.4" y="435.6" font-size="11.2" fill="#111">Raw</text>
<line x1="211.4" y1="445.5" x2="221.9" y2="445.5" stroke="#1f4e9e" stroke-width="2.2"/>
<line x1="231.6" y1="445.5" x2="238.6" y2="445.5" stroke="#1f4e9e" stroke-width="2.2"/>
<text x="241.4" y="449.5" font-size="11.2" fill="#111">Sum</text>
<line x1="211.4" y1="459.5" x2="238.6" y2="459.5" stroke="#ffc000" stroke-width="1.8"/>
<text x="241.4" y="463.5" font-size="11.2" fill="#111">BG</text>
<line x1="211.4" y1="473.5" x2="238.6" y2="473.5" stroke="#22b04a" stroke-width="1.8"/>
<text x="241.4" y="477.5" font-size="11.2" fill="#111">Mo 3d5/2</text>
<line x1="211.4" y1="487.4" x2="238.6" y2="487.4" stroke="#3b3f8f" stroke-width="1.8"/>
<text x="241.4" y="491.4" font-size="11.2" fill="#111">Mo 3d3/2</text>
<text x="114.3" y="435" font-size="14.3" fill="#ec1c24">Mo 3d<tspan font-size="13" dy="3">5/2</tspan></text>
<text x="66.3" y="498" font-size="14.3" fill="#ec1c24">Mo 3d<tspan font-size="13" dy="3">3/2</tspan></text>
<text x="243.5" y="575" font-size="14.3" fill="#ec1c24">S 2s</text>
<text x="94.8" y="665.2" font-size="14.4" fill="#111" font-weight="bold">Biding Energy (eV)</text>
<text transform="translate(17 516.9) rotate(-90)" font-size="14.7" font-weight="bold" fill="#111" text-anchor="middle">Intensity (a.u.)</text>
<text x="317.6" y="402.1" font-size="15" fill="#111">(f)</text>
<path d="M326.7 591.3 327.2 591.4 327.7 591.4 328.2 591.5 328.7 591.5 329.2 591.6 329.7 591.6 330.2 591.7 330.7 591.7 331.2 591.8 331.7 591.9 332.2 591.9 332.7 592 333.2 592 333.7 592.1 334.2 592.1 334.7 592.2 335.2 592.3 335.7 592.3 336.2 592.4 336.7 592.4 337.2 592.5 337.7 592.5 338.2 592.6 338.7 592.6 339.2 592.7 339.7 592.8 340.2 592.8 340.7 592.9 341.2 592.9 341.7 593 342.2 593 342.7 593.1 343.2 593.2 343.7 593.2 344.2 593.3 344.7 593.3 345.2 593.4 345.7 593.4 346.2 593.5 346.7 593.5 347.2 593.6 347.7 593.7 348.2 593.7 348.7 593.8 349.2 593.8 349.7 593.9 350.2 593.9 350.7 594 351.2 594 351.7 594.1 352.2 594.2 352.7 594.2 353.2 594.3 353.7 594.3 354.2 594.4 354.7 594.4 355.2 594.5 355.7 594.6 356.2 594.6 356.7 594.7 357.2 594.7 357.7 594.8 358.2 594.8 358.7 594.9 359.2 594.9 359.7 595 360.2 595.1 360.7 595.1 361.2 595.2 361.7 595.2 362.2 595.3 362.7 595.3 363.2 595.4 363.7 595.5 364.2 595.5 364.7 595.6 365.2 595.6 365.7 595.7 366.2 595.7 366.7 595.8 367.2 595.8 367.7 595.9 368.2 596 368.7 596 369.2 596.1 369.7 596.1 370.2 596.2 370.7 596.2 371.2 596.3 371.7 596.3 372.2 596.4 372.7 596.5 373.2 596.5 373.7 596.6 374.2 596.6 374.7 596.7 375.2 596.7 375.7 596.8 376.2 596.9 376.7 596.9 377.2 597 377.7 597 378.2 597.1 378.7 597.1 379.2 597.2 379.7 597.2 380.2 597.3 380.7 597.4 381.2 597.4 381.7 597.5 382.2 597.5 382.7 597.6 383.2 597.6 383.7 597.7 384.2 597.7 384.7 597.8 385.2 597.9 385.7 597.9 386.2 598 386.7 598 387.2 598 387.7 598.1 388.2 598.1 388.7 598.1 389.2 598.1 389.7 598.1 390.2 598.2 390.7 598.2 391.2 598.2 391.7 598.2 392.2 598.2 392.7 598.2 393.2 598.2 393.7 598.2 394.2 598.2 394.7 598.2 395.2 598.2 395.7 598.2 396.2 598.2 396.7 598.1 397.2 598.1 397.7 598 398.2 598 398.7 597.9 399.2 597.8 399.7 597.7 400.2 597.6 400.7 597.5 401.2 597.3 401.7 597.1 402.2 596.9 402.7 596.7 403.2 596.4 403.7 596.1 404.2 595.8 404.7 595.4 405.2 595 405.7 594.5 406.2 594 406.7 593.5 407.2 592.9 407.7 592.2 408.2 591.5 408.7 590.7 409.2 589.9 409.7 589 410.2 588 410.7 586.9 411.2 585.8 411.7 584.4 412.2 583 412.7 581.5 413.2 579.9 413.7 578.2 414.2 576.4 414.7 574.5 415.2 572.6 415.7 570.6 416.2 568.5 416.7 566.3 417.2 564.1 417.7 561.8 418.2 559.5 418.7 557.1 419.2 554.7 419.7 552.3 420.2 549.8 420.7 547.4 421.2 544.9 421.7 542.5 422.2 540.1 422.7 537.8 423.2 535.4 423.7 533.2 424.2 531 424.7 529 425.2 527 425.7 525.2 426.2 523.4 426.7 521.8 427.2 520.4 427.7 519.1 428.2 517.9 428.7 517 429.2 516.2 429.7 515.5 430.2 515.1 430.7 514.8 431.2 514.7 431.7 514.8 432.2 515 432.7 515.4 433.2 516 433.7 516.7 434.2 517.5 434.7 518.5 435.2 519.6 435.7 520.8 436.2 522.1 436.7 523.4 437.2 524.8 437.7 526.2 438.2 527.6 438.7 529.1 439.2 530.5 439.7 531.8 440.2 533.1 440.7 534.3 441.2 535.3 441.7 536.3 442.2 537.1 442.7 537.7 443.2 538.1 443.7 538.3 444.2 538.3 444.7 538 445.2 537.6 445.7 536.8 446.2 535.8 446.7 534.5 447.2 532.9 447.7 531.1 448.2 528.9 448.7 526.5 449.2 523.8 449.7 520.9 450.2 517.7 450.7 514.3 451.2 510.7 451.7 506.9 452.2 503 452.7 498.8 453.2 494.6 453.7 490.3 454.2 485.9 454.7 481.6 455.2 477.2 455.7 472.9 456.2 468.6 456.7 464.5 457.2 460.6 457.7 456.8 458.2 453.3 458.7 450 459.2 447 459.7 444.4 460.2 442 460.7 440.1 461.2 438.5 461.7 437.4 462.2 436.6 462.7 436.3 463.2 436.4 463.7 437 464.2 437.9 464.7 439.3 465.2 441.2 465.7 443.4 466.2 446 466.7 449 467.2 452.4 467.7 456 468.2 460 468.7 464.2 469.2 468.7 469.7 473.4 470.2 478.3 470.7 483.3 471.2 488.4 471.7 493.7 472.2 498.9 472.7 504.2 473.2 509.5 473.7 514.7 474.2 519.9 474.7 525 475.2 530 475.7 534.9 476.2 539.6 476.7 544.2 477.2 548.6 477.7 552.9 478.2 556.9 478.7 560.7 479.2 564.4 479.7 567.8 480.2 571.1 480.7 574.1 481.2 577 481.7 579.6 482.2 582.1 482.7 584.4 483.2 586.5 483.7 588.4 484.2 590.1 484.7 591.6 485.2 593 485.7 594.2 486.2 595.3 486.7 596.3 487.2 597.2 487.7 598 488.2 598.7 488.7 599.4 489.2 600 489.7 600.5 490.2 601 490.7 601.4 491.2 601.7 491.7 602.1 492.2 602.4 492.7 602.6 493.2 602.8 493.7 603 494.2 603.2 494.7 603.4 495.2 603.5 495.7 603.6 496.2 603.7 496.7 603.8 497.2 603.9 497.7 604 498.2 604.1 498.7 604.1 499.2 604.2 499.7 604.2 500.2 604.3 500.7 604.3 501.2 604.4 501.7 604.4 502.2 604.5 502.7 604.5 503.2 604.5 503.7 604.6 504.2 604.6 504.7 604.7 505.2 604.7 505.7 604.7 506.2 604.8 506.7 604.8 507.2 604.8 507.7 604.9 508.2 604.9 508.7 604.9 509.2 605 509.7 605 510.2 605 510.7 605.1 511.2 605.1 511.7 605.1 512.2 605.2 512.7 605.2 513.2 605.2 513.7 605.3 514.2 605.3 514.7 605.3 515.2 605.3 515.7 605.3 516.2 605.3 516.7 605.4 517.2 605.4 517.7 605.4 518.2 605.4 518.7 605.4 519.2 605.4 519.7 605.4 520.2 605.4 520.7 605.4 521.2 605.4 521.7 605.4 522.2 605.4 522.7 605.4 523.2 605.4 523.7 605.4 524.2 605.4 524.7 605.4 525.2 605.4 525.7 605.4 526.2 605.3 526.7 605.3 527.2 605.3 527.7 605.3 528.2 605.3 528.7 605.3 529.2 605.3 529.7 605.3 530.2 605.3 530.7 605.2 531.2 605.2 531.7 605.2 532.2 605.2 532.7 605.2 533.2 605.2 533.7 605.1 534.2 605.1 534.7 605.1 535.2 605.1 535.7 605.1 536.2 605 536.7 605 537.2 605 537.7 605 538.2 605 538.7 604.9 539.2 604.9 539.7 604.9 540.2 604.9 540.7 604.8 541.2 604.8 541.7 604.8 542.2 604.8 542.7 604.7 543.2 604.7 543.7 604.7 544.2 604.6 544.7 604.6 545.2 604.6 545.7 604.6 546.2 604.5 546.7 604.5 547.2 604.5 547.7 604.4 548.2 604.4 548.7 604.4 549.2 604.3 549.7 604.3 550.2 604.3 550.7 604.2 551.2 604.2 551.7 604.2 552.2 604.1 552.7 604.1 553.2 604.1 553.7 604 554.2 604 554.7 603.9 555.2 603.9 555.7 603.9 556.2 603.8 556.7 603.8 557.2 603.8 557.7 603.7 558.2 603.7 558.7 603.6 559.2 603.6 559.7 603.5 560.2 603.5 560.7 603.5 561.2 603.4 561.7 603.4 562.2 603.3 562.7 603.3 563.2 603.2 563.7 603.2 564.2 603.2 564.7 603.1 565.2 603.1 565.7 603 566.2 603 566.7 602.9 567.2 602.9 567.7 602.8 568.2 602.8 568.7 602.7 569.2 602.7 569.7 602.6 570.2 602.6 570.7 602.5 571.2 602.5 571.7 602.5 572.2 602.4 572.7 602.4 573.2 602.3 573.7 602.2 574.2 602.2 574.7 602.1 575.2 602.1 575.7 602 576.2 602 576.7 601.9 577.2 601.9 577.7 601.8 578.2 601.8 578.7 601.7 579.2 601.7 579.7 601.6 580.2 601.6 580.7 601.5 581.2 601.4 581.7 601.4 582.2 601.3 582.7 601.3 583.2 601.2 583.7 601.2 584.2 601.1 584.7 601 585.2 601 585.7 600.9 586.2 600.9 586.7 600.8 587.2 600.8 587.7 600.7 588.2 600.6 588.7 600.6 589.2 600.5 589.7 600.5 590.2 600.4 590.7 600.3 591.2 600.3 591.7 600.2 592.2 600.1 592.7 600.1 593.2 600 593.7 600 594.2 599.9 594.7 599.8 595.2 599.8 595.7 599.7 596.2 599.6 596.7 599.6 597.2 599.5 597.7 599.4" fill="none" stroke="#ec1c24" stroke-width="2.3" stroke-dasharray="10 9.5"/>
<path d="M326.7 596.5 327.2 596.5 327.7 596.6 328.2 596.6 328.7 596.6 329.2 596.6 329.7 596.7 330.2 596.7 330.7 596.7 331.2 596.7 331.7 596.8 332.2 596.8 332.7 596.8 333.2 596.8 333.7 596.9 334.2 596.9 334.7 596.9 335.2 596.9 335.7 597 336.2 597 336.7 597 337.2 597 337.7 597.1 338.2 597.1 338.7 597.1 339.2 597.2 339.7 597.2 340.2 597.2 340.7 597.2 341.2 597.3 341.7 597.3 342.2 597.3 342.7 597.3 343.2 597.4 343.7 597.4 344.2 597.4 344.7 597.4 345.2 597.5 345.7 597.5 346.2 597.5 346.7 597.5 347.2 597.6 347.7 597.6 348.2 597.6 348.7 597.6 349.2 597.7 349.7 597.7 350.2 597.7 350.7 597.8 351.2 597.8 351.7 597.8 352.2 597.8 352.7 597.9 353.2 597.9 353.7 597.9 354.2 597.9 354.7 598 355.2 598 355.7 598 356.2 598 356.7 598.1 357.2 598.1 357.7 598.1 358.2 598.1 358.7 598.2 359.2 598.2 359.7 598.2 360.2 598.2 360.7 598.3 361.2 598.3 361.7 598.3 362.2 598.4 362.7 598.4 363.2 598.4 363.7 598.4 364.2 598.5 364.7 598.5 365.2 598.5 365.7 598.5 366.2 598.6 366.7 598.6 367.2 598.6 367.7 598.6 368.2 598.7 368.7 598.7 369.2 598.7 369.7 598.7 370.2 598.8 370.7 598.8 371.2 598.8 371.7 598.8 372.2 598.9 372.7 598.9 373.2 598.9 373.7 599 374.2 599 374.7 599 375.2 599 375.7 599.1 376.2 599.1 376.7 599.1 377.2 599.1 377.7 599.2 378.2 599.2 378.7 599.2 379.2 599.2 379.7 599.3 380.2 599.3 380.7 599.3 381.2 599.3 381.7 599.4 382.2 599.4 382.7 599.4 383.2 599.4 383.7 599.5 384.2 599.5 384.7 599.5 385.2 599.6 385.7 599.6 386.2 599.6 386.7 599.6 387.2 599.7 387.7 599.7 388.2 599.7 388.7 599.7 389.2 599.7 389.7 599.8 390.2 599.8 390.7 599.8 391.2 599.8 391.7 599.9 392.2 599.9 392.7 599.9 393.2 599.9 393.7 599.9 394.2 599.9 394.7 599.9 395.2 599.9 395.7 599.9 396.2 599.9 396.7 599.9 397.2 599.9 397.7 599.9 398.2 599.8 398.7 599.8 399.2 599.7 399.7 599.7 400.2 599.6 400.7 599.5 401.2 599.4 401.7 599.2 402.2 599.1 402.7 598.9 403.2 598.7 403.7 598.4 404.2 598.2 404.7 597.8 405.2 597.5 405.7 597.1 406.2 596.7 406.7 596.2 407.2 595.6 407.7 595 408.2 594.3 408.7 593.6 409.2 592.8 409.7 591.9 410.2 590.9 410.7 589.9 411.2 588.7 411.7 587.5 412.2 586.2 412.7 584.8 413.2 583.3 413.7 581.6 414.2 579.9 414.7 578.2 415.2 576.3 415.7 574.3 416.2 572.2 416.7 570 417.2 567.8 417.7 565.5 418.2 563.1 418.7 560.7 419.2 558.2 419.7 555.6 420.2 553 420.7 550.5 421.2 547.9 421.7 545.3 422.2 542.7 422.7 540.1 423.2 537.6 423.7 535.2 424.2 532.9 424.7 530.6 425.2 528.4 425.7 526.4 426.2 524.5 426.7 522.7 427.2 521.1 427.7 519.7 428.2 518.4 428.7 517.4 429.2 516.5 429.7 515.8 430.2 515.4 430.7 515.1 431.2 515 431.7 515.2 432.2 515.6 432.7 516.1 433.2 516.8 433.7 517.8 434.2 518.8 434.7 520.1 435.2 521.5 435.7 523 436.2 524.6 436.7 526.3 437.2 528.1 437.7 529.9 438.2 531.8 438.7 533.6 439.2 535.5 439.7 537.3 440.2 539 440.7 540.6 441.2 542.1 441.7 543.5 442.2 544.8 442.7 545.8 443.2 546.6 443.7 547.3 444.2 547.6 444.7 547.7 445.2 547.6 445.7 547.1 446.2 546.3 446.7 545.2 447.2 543.8 447.7 542.1 448.2 540.1 448.7 537.7 449.2 535 449.7 532 450.2 528.7 450.7 525.1 451.2 521.3 451.7 517.2 452.2 512.9 452.7 508.4 453.2 503.8 453.7 499 454.2 494.1 454.7 489.2 455.2 484.3 455.7 479.4 456.2 474.6 456.7 469.9 457.2 465.3 457.7 461 458.2 456.9 458.7 453.1 459.2 449.6 459.7 446.5 460.2 443.7 460.7 441.4 461.2 439.5 461.7 438.1 462.2 437.2 462.7 436.7 463.2 436.8 463.7 437.3 464.2 438.4 464.7 439.9 465.2 442 465.7 444.5 466.2 447.4 466.7 450.7 467.2 454.5 467.7 458.6 468.2 463 468.7 467.7 469.2 472.6 469.7 477.8 470.2 483.1 470.7 488.6 471.2 494.1 471.7 499.8 472.2 505.4 472.7 511 473.2 516.6 473.7 522.1 474.2 527.5 474.7 532.7 475.2 537.9 475.7 542.8 476.2 547.5 476.7 552.1 477.2 556.4 477.7 560.5 478.2 564.4 478.7 568.1 479.2 571.5 479.7 574.7 480.2 577.7 480.7 580.5 481.2 583 481.7 585.4 482.2 587.5 482.7 589.5 483.2 591.3 483.7 592.9 484.2 594.3 484.7 595.7 485.2 596.8 485.7 597.9 486.2 598.8 486.7 599.7 487.2 600.4 487.7 601.1 488.2 601.6 488.7 602.1 489.2 602.6 489.7 603 490.2 603.3 490.7 603.6 491.2 603.9 491.7 604.1 492.2 604.3 492.7 604.4 493.2 604.6 493.7 604.7 494.2 604.8 494.7 604.9 495.2 605 495.7 605.1 496.2 605.2 496.7 605.2 497.2 605.3 497.7 605.3 498.2 605.4 498.7 605.4 499.2 605.5 499.7 605.5 500.2 605.5 500.7 605.6 501.2 605.6 501.7 605.6 502.2 605.6 502.7 605.7 503.2 605.7 503.7 605.7 504.2 605.8 504.7 605.8 505.2 605.8 505.7 605.8 506.2 605.9 506.7 605.9 507.2 605.9 507.7 605.9 508.2 606 508.7 606 509.2 606 509.7 606.1 510.2 606.1 510.7 606.1 511.2 606.1 511.7 606.2 512.2 606.2 512.7 606.2 513.2 606.2 513.7 606.3 514.2 606.3 514.7 606.3 515.2 606.3 515.7 606.4 516.2 606.4 516.7 606.4 517.2 606.4 517.7 606.5 518.2 606.5 518.7 606.5 519.2 606.5 519.7 606.6 520.2 606.6 520.7 606.6 521.2 606.7 521.7 606.7 522.2 606.7 522.7 606.7 523.2 606.8 523.7 606.8 524.2 606.8 524.7 606.8 525.2 606.9 525.7 606.9 526.2 606.9 526.7 606.9 527.2 607 527.7 607 528.2 607 528.7 607 529.2 607.1 529.7 607.1 530.2 607.1 530.7 607.1 531.2 607.2 531.7 607.2 532.2 607.2 532.7 607.3 533.2 607.3 533.7 607.3 534.2 607.3 534.7 607.4 535.2 607.4 535.7 607.4 536.2 607.4 536.7 607.5 537.2 607.5 537.7 607.5 538.2 607.5 538.7 607.6 539.2 607.6 539.7 607.6 540.2 607.6 540.7 607.7 541.2 607.7 541.7 607.7 542.2 607.7 542.7 607.8 543.2 607.8 543.7 607.8 544.2 607.9 544.7 607.9 545.2 607.9 545.7 607.9 546.2 608 546.7 608 547.2 608 547.7 608 548.2 608.1 548.7 608.1 549.2 608.1 549.7 608.1 550.2 608.2 550.7 608.2 551.2 608.2 551.7 608.2 552.2 608.3 552.7 608.3 553.2 608.3 553.7 608.3 554.2 608.4 554.7 608.4 555.2 608.4 555.7 608.5 556.2 608.5 556.7 608.5 557.2 608.5 557.7 608.6 558.2 608.6 558.7 608.6 559.2 608.6 559.7 608.7 560.2 608.7 560.7 608.7 561.2 608.7 561.7 608.8 562.2 608.8 562.7 608.8 563.2 608.8 563.7 608.9 564.2 608.9 564.7 608.9 565.2 608.9 565.7 609 566.2 609 566.7 609 567.2 609.1 567.7 609.1 568.2 609.1 568.7 609.1 569.2 609.2 569.7 609.2 570.2 609.2 570.7 609.2 571.2 609.3 571.7 609.3 572.2 609.3 572.7 609.3 573.2 609.4 573.7 609.4 574.2 609.4 574.7 609.4 575.2 609.5 575.7 609.5 576.2 609.5 576.7 609.5 577.2 609.6 577.7 609.6 578.2 609.6 578.7 609.7 579.2 609.7 579.7 609.7 580.2 609.7 580.7 609.8 581.2 609.8 581.7 609.8 582.2 609.8 582.7 609.9 583.2 609.9 583.7 609.9 584.2 609.9 584.7 610 585.2 610 585.7 610 586.2 610 586.7 610.1 587.2 610.1 587.7 610.1 588.2 610.2 588.7 610.2 589.2 610.2 589.7 610.2 590.2 610.3 590.7 610.3 591.2 610.3 591.7 610.3 592.2 610.4 592.7 610.4 593.2 610.4 593.7 610.4 594.2 610.5 594.7 610.5 595.2 610.5 595.7 610.5 596.2 610.6 596.7 610.6 597.2 610.6 597.7 610.6" fill="none" stroke="#1f4e9e" stroke-width="1.8" stroke-dasharray="6 5"/>
<path d="M326.7 597.3 327.2 597.3 327.7 597.4 328.2 597.4 328.7 597.4 329.2 597.4 329.7 597.5 330.2 597.5 330.7 597.5 331.2 597.5 331.7 597.6 332.2 597.6 332.7 597.6 333.2 597.6 333.7 597.7 334.2 597.7 334.7 597.7 335.2 597.7 335.7 597.8 336.2 597.8 336.7 597.8 337.2 597.8 337.7 597.9 338.2 597.9 338.7 597.9 339.2 598 339.7 598 340.2 598 340.7 598 341.2 598.1 341.7 598.1 342.2 598.1 342.7 598.1 343.2 598.2 343.7 598.2 344.2 598.2 344.7 598.2 345.2 598.3 345.7 598.3 346.2 598.3 346.7 598.3 347.2 598.4 347.7 598.4 348.2 598.4 348.7 598.4 349.2 598.5 349.7 598.5 350.2 598.5 350.7 598.6 351.2 598.6 351.7 598.6 352.2 598.6 352.7 598.7 353.2 598.7 353.7 598.7 354.2 598.7 354.7 598.8 355.2 598.8 355.7 598.8 356.2 598.8 356.7 598.9 357.2 598.9 357.7 598.9 358.2 598.9 358.7 599 359.2 599 359.7 599 360.2 599 360.7 599.1 361.2 599.1 361.7 599.1 362.2 599.2 362.7 599.2 363.2 599.2 363.7 599.2 364.2 599.3 364.7 599.3 365.2 599.3 365.7 599.3 366.2 599.4 366.7 599.4 367.2 599.4 367.7 599.4 368.2 599.5 368.7 599.5 369.2 599.5 369.7 599.5 370.2 599.6 370.7 599.6 371.2 599.6 371.7 599.6 372.2 599.7 372.7 599.7 373.2 599.7 373.7 599.8 374.2 599.8 374.7 599.8 375.2 599.8 375.7 599.9 376.2 599.9 376.7 599.9 377.2 599.9 377.7 600 378.2 600 378.7 600 379.2 600 379.7 600.1 380.2 600.1 380.7 600.1 381.2 600.1 381.7 600.2 382.2 600.2 382.7 600.2 383.2 600.2 383.7 600.3 384.2 600.3 384.7 600.3 385.2 600.4 385.7 600.4 386.2 600.4 386.7 600.4 387.2 600.5 387.7 600.5 388.2 600.5 388.7 600.5 389.2 600.6 389.7 600.6 390.2 600.6 390.7 600.6 391.2 600.7 391.7 600.7 392.2 600.7 392.7 600.7 393.2 600.8 393.7 600.8 394.2 600.8 394.7 600.8 395.2 600.9 395.7 600.9 396.2 600.9 396.7 601 397.2 601 397.7 601 398.2 601 398.7 601.1 399.2 601.1 399.7 601.1 400.2 601.1 400.7 601.2 401.2 601.2 401.7 601.2 402.2 601.2 402.7 601.3 403.2 601.3 403.7 601.3 404.2 601.3 404.7 601.4 405.2 601.4 405.7 601.4 406.2 601.4 406.7 601.5 407.2 601.5 407.7 601.5 408.2 601.6 408.7 601.6 409.2 601.6 409.7 601.6 410.2 601.7 410.7 601.7 411.2 601.7 411.7 601.7 412.2 601.8 412.7 601.8 413.2 601.8 413.7 601.8 414.2 601.9 414.7 601.9 415.2 601.9 415.7 601.9 416.2 602 416.7 602 417.2 602 417.7 602.1 418.2 602.1 418.7 602.1 419.2 602.1 419.7 602.2 420.2 602.2 420.7 602.2 421.2 602.2 421.7 602.3 422.2 602.3 422.7 602.3 423.2 602.3 423.7 602.4 424.2 602.4 424.7 602.4 425.2 602.4 425.7 602.5 426.2 602.5 426.7 602.5 427.2 602.5 427.7 602.6 428.2 602.6 428.7 602.6 429.2 602.7 429.7 602.7 430.2 602.7 430.7 602.7 431.2 602.8 431.7 602.8 432.2 602.8 432.7 602.8 433.2 602.9 433.7 602.9 434.2 602.9 434.7 602.9 435.2 603 435.7 603 436.2 603 436.7 603 437.2 603.1 437.7 603.1 438.2 603.1 438.7 603.1 439.2 603.2 439.7 603.2 440.2 603.2 440.7 603.3 441.2 603.3 441.7 603.3 442.2 603.3 442.7 603.4 443.2 603.4 443.7 603.4 444.2 603.4 444.7 603.5 445.2 603.5 445.7 603.5 446.2 603.5 446.7 603.6 447.2 603.6 447.7 603.6 448.2 603.6 448.7 603.7 449.2 603.7 449.7 603.7 450.2 603.7 450.7 603.8 451.2 603.8 451.7 603.8 452.2 603.9 452.7 603.9 453.2 603.9 453.7 603.9 454.2 604 454.7 604 455.2 604 455.7 604 456.2 604.1 456.7 604.1 457.2 604.1 457.7 604.1 458.2 604.2 458.7 604.2 459.2 604.2 459.7 604.2 460.2 604.3 460.7 604.3 461.2 604.3 461.7 604.3 462.2 604.4 462.7 604.4 463.2 604.4 463.7 604.5 464.2 604.5 464.7 604.5 465.2 604.5 465.7 604.6 466.2 604.6 466.7 604.6 467.2 604.6 467.7 604.7 468.2 604.7 468.7 604.7 469.2 604.7 469.7 604.8 470.2 604.8 470.7 604.8 471.2 604.8 471.7 604.9 472.2 604.9 472.7 604.9 473.2 604.9 473.7 605 474.2 605 474.7 605 475.2 605.1 475.7 605.1 476.2 605.1 476.7 605.1 477.2 605.2 477.7 605.2 478.2 605.2 478.7 605.2 479.2 605.3 479.7 605.3 480.2 605.3 480.7 605.3 481.2 605.4 481.7 605.4 482.2 605.4 482.7 605.4 483.2 605.5 483.7 605.5 484.2 605.5 484.7 605.5 485.2 605.6 485.7 605.6 486.2 605.6 486.7 605.7 487.2 605.7 487.7 605.7 488.2 605.7 488.7 605.8 489.2 605.8 489.7 605.8 490.2 605.8 490.7 605.9 491.2 605.9 491.7 605.9 492.2 605.9 492.7 606 493.2 606 493.7 606 494.2 606 494.7 606.1 495.2 606.1 495.7 606.1 496.2 606.1 496.7 606.2 497.2 606.2 497.7 606.2 498.2 606.3 498.7 606.3 499.2 606.3 499.7 606.3 500.2 606.4 500.7 606.4 501.2 606.4 501.7 606.4 502.2 606.5 502.7 606.5 503.2 606.5 503.7 606.5 504.2 606.6 504.7 606.6 505.2 606.6 505.7 606.6 506.2 606.7 506.7 606.7 507.2 606.7 507.7 606.7 508.2 606.8 508.7 606.8 509.2 606.8 509.7 606.9 510.2 606.9 510.7 606.9 511.2 606.9 511.7 607 512.2 607 512.7 607 513.2 607 513.7 607.1 514.2 607.1 514.7 607.1 515.2 607.1 515.7 607.2 516.2 607.2 516.7 607.2 517.2 607.2 517.7 607.3 518.2 607.3 518.7 607.3 519.2 607.3 519.7 607.4 520.2 607.4 520.7 607.4 521.2 607.5 521.7 607.5 522.2 607.5 522.7 607.5 523.2 607.6 523.7 607.6 524.2 607.6 524.7 607.6 525.2 607.7 525.7 607.7 526.2 607.7 526.7 607.7 527.2 607.8 527.7 607.8 528.2 607.8 528.7 607.8 529.2 607.9 529.7 607.9 530.2 607.9 530.7 607.9 531.2 608 531.7 608 532.2 608 532.7 608.1 533.2 608.1 533.7 608.1 534.2 608.1 534.7 608.2 535.2 608.2 535.7 608.2 536.2 608.2 536.7 608.3 537.2 608.3 537.7 608.3 538.2 608.3 538.7 608.4 539.2 608.4 539.7 608.4 540.2 608.4 540.7 608.5 541.2 608.5 541.7 608.5 542.2 608.5 542.7 608.6 543.2 608.6 543.7 608.6 544.2 608.7 544.7 608.7 545.2 608.7 545.7 608.7 546.2 608.8 546.7 608.8 547.2 608.8 547.7 608.8 548.2 608.9 548.7 608.9 549.2 608.9 549.7 608.9 550.2 609 550.7 609 551.2 609 551.7 609 552.2 609.1 552.7 609.1 553.2 609.1 553.7 609.1 554.2 609.2 554.7 609.2 555.2 609.2 555.7 609.3 556.2 609.3 556.7 609.3 557.2 609.3 557.7 609.4 558.2 609.4 558.7 609.4 559.2 609.4 559.7 609.5 560.2 609.5 560.7 609.5 561.2 609.5 561.7 609.6 562.2 609.6 562.7 609.6 563.2 609.6 563.7 609.7 564.2 609.7 564.7 609.7 565.2 609.7 565.7 609.8 566.2 609.8 566.7 609.8 567.2 609.9 567.7 609.9 568.2 609.9 568.7 609.9 569.2 610 569.7 610 570.2 610 570.7 610 571.2 610.1 571.7 610.1 572.2 610.1 572.7 610.1 573.2 610.2 573.7 610.2 574.2 610.2 574.7 610.2 575.2 610.3 575.7 610.3 576.2 610.3 576.7 610.3 577.2 610.4 577.7 610.4 578.2 610.4 578.7 610.5 579.2 610.5 579.7 610.5 580.2 610.5 580.7 610.6 581.2 610.6 581.7 610.6 582.2 610.6 582.7 610.7 583.2 610.7 583.7 610.7 584.2 610.7 584.7 610.8 585.2 610.8 585.7 610.8 586.2 610.8 586.7 610.9 587.2 610.9 587.7 610.9 588.2 611 588.7 611 589.2 611 589.7 611 590.2 611.1 590.7 611.1 591.2 611.1 591.7 611.1 592.2 611.2 592.7 611.2 593.2 611.2 593.7 611.2 594.2 611.3 594.7 611.3 595.2 611.3 595.7 611.3 596.2 611.4 596.7 611.4 597.2 611.4 597.7 611.4" fill="none" stroke="#ffc000" stroke-width="1.5"/>
<path d="M326.7 596.5 327.2 596.5 327.7 596.6 328.2 596.6 328.7 596.6 329.2 596.6 329.7 596.7 330.2 596.7 330.7 596.7 331.2 596.7 331.7 596.8 332.2 596.8 332.7 596.8 333.2 596.8 333.7 596.9 334.2 596.9 334.7 596.9 335.2 596.9 335.7 597 336.2 597 336.7 597 337.2 597 337.7 597.1 338.2 597.1 338.7 597.1 339.2 597.2 339.7 597.2 340.2 597.2 340.7 597.2 341.2 597.3 341.7 597.3 342.2 597.3 342.7 597.3 343.2 597.4 343.7 597.4 344.2 597.4 344.7 597.4 345.2 597.5 345.7 597.5 346.2 597.5 346.7 597.5 347.2 597.6 347.7 597.6 348.2 597.6 348.7 597.6 349.2 597.7 349.7 597.7 350.2 597.7 350.7 597.8 351.2 597.8 351.7 597.8 352.2 597.8 352.7 597.9 353.2 597.9 353.7 597.9 354.2 597.9 354.7 598 355.2 598 355.7 598 356.2 598 356.7 598.1 357.2 598.1 357.7 598.1 358.2 598.1 358.7 598.2 359.2 598.2 359.7 598.2 360.2 598.2 360.7 598.3 361.2 598.3 361.7 598.3 362.2 598.4 362.7 598.4 363.2 598.4 363.7 598.4 364.2 598.5 364.7 598.5 365.2 598.5 365.7 598.5 366.2 598.6 366.7 598.6 367.2 598.6 367.7 598.6 368.2 598.7 368.7 598.7 369.2 598.7 369.7 598.7 370.2 598.8 370.7 598.8 371.2 598.8 371.7 598.8 372.2 598.9 372.7 598.9 373.2 598.9 373.7 599 374.2 599 374.7 599 375.2 599 375.7 599.1 376.2 599.1 376.7 599.1 377.2 599.1 377.7 599.2 378.2 599.2 378.7 599.2 379.2 599.2 379.7 599.3 380.2 599.3 380.7 599.3 381.2 599.3 381.7 599.4 382.2 599.4 382.7 599.4 383.2 599.4 383.7 599.5 384.2 599.5 384.7 599.5 385.2 599.6 385.7 599.6 386.2 599.6 386.7 599.6 387.2 599.7 387.7 599.7 388.2 599.7 388.7 599.7 389.2 599.7 389.7 599.8 390.2 599.8 390.7 599.8 391.2 599.8 391.7 599.9 392.2 599.9 392.7 599.9 393.2 599.9 393.7 599.9 394.2 599.9 394.7 599.9 395.2 599.9 395.7 599.9 396.2 599.9 396.7 599.9 397.2 599.9 397.7 599.9 398.2 599.8 398.7 599.8 399.2 599.7 399.7 599.7 400.2 599.6 400.7 599.5 401.2 599.4 401.7 599.2 402.2 599.1 402.7 598.9 403.2 598.7 403.7 598.4 404.2 598.2 404.7 597.8 405.2 597.5 405.7 597.1 406.2 596.7 406.7 596.2 407.2 595.6 407.7 595 408.2 594.3 408.7 593.6 409.2 592.8 409.7 591.9 410.2 590.9 410.7 589.9 411.2 588.7 411.7 587.5 412.2 586.2 412.7 584.8 413.2 583.3 413.7 581.6 414.2 580 414.7 578.2 415.2 576.3 415.7 574.3 416.2 572.2 416.7 570 417.2 567.8 417.7 565.5 418.2 563.1 418.7 560.7 419.2 558.2 419.7 555.6 420.2 553 420.7 550.5 421.2 547.9 421.7 545.3 422.2 542.7 422.7 540.1 423.2 537.7 423.7 535.2 424.2 532.9 424.7 530.6 425.2 528.4 425.7 526.4 426.2 524.5 426.7 522.8 427.2 521.2 427.7 519.8 428.2 518.5 428.7 517.5 429.2 516.6 429.7 516 430.2 515.6 430.7 515.4 431.2 515.4 431.7 515.6 432.2 516 432.7 516.7 433.2 517.5 433.7 518.6 434.2 519.8 434.7 521.3 435.2 522.9 435.7 524.6 436.2 526.6 436.7 528.6 437.2 530.8 437.7 533.1 438.2 535.5 438.7 538 439.2 540.5 439.7 543.1 440.2 545.7 440.7 548.3 441.2 551 441.7 553.6 442.2 556.3 442.7 558.9 443.2 561.4 443.7 563.9 444.2 566.4 444.7 568.8 445.2 571.1 445.7 573.3 446.2 575.5 446.7 577.5 447.2 579.5 447.7 581.3 448.2 583.1 448.7 584.8 449.2 586.4 449.7 587.8 450.2 589.2 450.7 590.5 451.2 591.7 451.7 592.9 452.2 593.9 452.7 594.9 453.2 595.7 453.7 596.5 454.2 597.3 454.7 598 455.2 598.6 455.7 599.1 456.2 599.6 456.7 600.1 457.2 600.5 457.7 600.9 458.2 601.2 458.7 601.5 459.2 601.8 459.7 602 460.2 602.2 460.7 602.4 461.2 602.6 461.7 602.8 462.2 602.9 462.7 603 463.2 603.1 463.7 603.2 464.2 603.3 464.7 603.4 465.2 603.5 465.7 603.5 466.2 603.6 466.7 603.7 467.2 603.7 467.7 603.8 468.2 603.8 468.7 603.8 469.2 603.9 469.7 603.9 470.2 604 470.7 604 471.2 604 471.7 604 472.2 604.1 472.7 604.1 473.2 604.1 473.7 604.2 474.2 604.2 474.7 604.2 475.2 604.2 475.7 604.3 476.2 604.3 476.7 604.3 477.2 604.4 477.7 604.4 478.2 604.4 478.7 604.4 479.2 604.5 479.7 604.5 480.2 604.5 480.7 604.5 481.2 604.6 481.7 604.6 482.2 604.6 482.7 604.6 483.2 604.7 483.7 604.7 484.2 604.7 484.7 604.7 485.2 604.8 485.7 604.8 486.2 604.8 486.7 604.9 487.2 604.9 487.7 604.9 488.2 604.9 488.7 605 489.2 605 489.7 605 490.2 605 490.7 605.1 491.2 605.1 491.7 605.1 492.2 605.1 492.7 605.2 493.2 605.2 493.7 605.2 494.2 605.2 494.7 605.3 495.2 605.3 495.7 605.3 496.2 605.3 496.7 605.4 497.2 605.4 497.7 605.4 498.2 605.5 498.7 605.5 499.2 605.5 499.7 605.5 500.2 605.6 500.7 605.6 501.2 605.6 501.7 605.6 502.2 605.7 502.7 605.7 503.2 605.7 503.7 605.7 504.2 605.8 504.7 605.8 505.2 605.8 505.7 605.8 506.2 605.9 506.7 605.9 507.2 605.9 507.7 605.9 508.2 606 508.7 606 509.2 606 509.7 606.1 510.2 606.1 510.7 606.1 511.2 606.1 511.7 606.2 512.2 606.2 512.7 606.2 513.2 606.2 513.7 606.3 514.2 606.3 514.7 606.3 515.2 606.3 515.7 606.4 516.2 606.4 516.7 606.4 517.2 606.4 517.7 606.5 518.2 606.5 518.7 606.5 519.2 606.5 519.7 606.6 520.2 606.6 520.7 606.6 521.2 606.7 521.7 606.7 522.2 606.7 522.7 606.7 523.2 606.8 523.7 606.8 524.2 606.8 524.7 606.8 525.2 606.9 525.7 606.9 526.2 606.9 526.7 606.9 527.2 607 527.7 607 528.2 607 528.7 607 529.2 607.1 529.7 607.1 530.2 607.1 530.7 607.1 531.2 607.2 531.7 607.2 532.2 607.2 532.7 607.3 533.2 607.3 533.7 607.3 534.2 607.3 534.7 607.4 535.2 607.4 535.7 607.4 536.2 607.4 536.7 607.5 537.2 607.5 537.7 607.5 538.2 607.5 538.7 607.6 539.2 607.6 539.7 607.6 540.2 607.6 540.7 607.7 541.2 607.7 541.7 607.7 542.2 607.7 542.7 607.8 543.2 607.8 543.7 607.8 544.2 607.9 544.7 607.9 545.2 607.9 545.7 607.9 546.2 608 546.7 608 547.2 608 547.7 608 548.2 608.1 548.7 608.1 549.2 608.1 549.7 608.1 550.2 608.2 550.7 608.2 551.2 608.2 551.7 608.2 552.2 608.3 552.7 608.3 553.2 608.3 553.7 608.3 554.2 608.4 554.7 608.4 555.2 608.4 555.7 608.5 556.2 608.5 556.7 608.5 557.2 608.5 557.7 608.6 558.2 608.6 558.7 608.6 559.2 608.6 559.7 608.7 560.2 608.7 560.7 608.7 561.2 608.7 561.7 608.8 562.2 608.8 562.7 608.8 563.2 608.8 563.7 608.9 564.2 608.9 564.7 608.9 565.2 608.9 565.7 609 566.2 609 566.7 609 567.2 609.1 567.7 609.1 568.2 609.1 568.7 609.1 569.2 609.2 569.7 609.2 570.2 609.2 570.7 609.2 571.2 609.3 571.7 609.3 572.2 609.3 572.7 609.3 573.2 609.4 573.7 609.4 574.2 609.4 574.7 609.4 575.2 609.5 575.7 609.5 576.2 609.5 576.7 609.5 577.2 609.6 577.7 609.6 578.2 609.6 578.7 609.7 579.2 609.7 579.7 609.7 580.2 609.7 580.7 609.8 581.2 609.8 581.7 609.8 582.2 609.8 582.7 609.9 583.2 609.9 583.7 609.9 584.2 609.9 584.7 610 585.2 610 585.7 610 586.2 610 586.7 610.1 587.2 610.1 587.7 610.1 588.2 610.2 588.7 610.2 589.2 610.2 589.7 610.2 590.2 610.3 590.7 610.3 591.2 610.3 591.7 610.3 592.2 610.4 592.7 610.4 593.2 610.4 593.7 610.4 594.2 610.5 594.7 610.5 595.2 610.5 595.7 610.5 596.2 610.6 596.7 610.6 597.2 610.6 597.7 610.6" fill="none" stroke="#3b3f8f" stroke-width="1.6"/>
<path d="M395.2 600.1 395.7 600.1 396.2 600.1 396.7 600.2 397.2 600.2 397.7 600.2 398.2 600.2 398.7 600.3 399.2 600.3 399.7 600.3 400.2 600.3 400.7 600.4 401.2 600.4 401.7 600.4 402.2 600.4 402.7 600.5 403.2 600.5 403.7 600.5 404.2 600.5 404.7 600.6 405.2 600.6 405.7 600.6 406.2 600.6 406.7 600.7 407.2 600.7 407.7 600.7 408.2 600.8 408.7 600.8 409.2 600.8 409.7 600.8 410.2 600.9 410.7 600.9 411.2 600.9 411.7 600.9 412.2 601 412.7 601 413.2 601 413.7 601 414.2 601.1 414.7 601.1 415.2 601.1 415.7 601.1 416.2 601.2 416.7 601.2 417.2 601.2 417.7 601.2 418.2 601.3 418.7 601.3 419.2 601.3 419.7 601.4 420.2 601.4 420.7 601.4 421.2 601.4 421.7 601.5 422.2 601.5 422.7 601.5 423.2 601.5 423.7 601.6 424.2 601.6 424.7 601.6 425.2 601.6 425.7 601.6 426.2 601.7 426.7 601.7 427.2 601.7 427.7 601.7 428.2 601.7 428.7 601.7 429.2 601.7 429.7 601.7 430.2 601.7 430.7 601.7 431.2 601.6 431.7 601.6 432.2 601.5 432.7 601.5 433.2 601.4 433.7 601.3 434.2 601.1 434.7 601 435.2 600.8 435.7 600.5 436.2 600.2 436.7 599.9 437.2 599.5 437.7 599.1 438.2 598.6 438.7 598 439.2 597.3 439.7 596.6 440.2 595.7 440.7 594.7 441.2 593.6 441.7 592.4 442.2 591 442.7 589.5 443.2 587.8 443.7 585.9 444.2 583.9 444.7 581.6 445.2 579.1 445.7 576.5 446.2 573.6 446.7 570.5 447.2 567.2 447.7 563.6 448.2 559.8 448.7 555.8 449.2 551.5 449.7 547.1 450.2 542.4 450.7 537.6 451.2 532.5 451.7 527.4 452.2 522.1 452.7 516.6 453.2 511.1 453.7 505.6 454.2 500 454.7 494.4 455.2 488.9 455.7 483.5 456.2 478.2 456.7 473 457.2 468.1 457.7 463.4 458.2 459 458.7 454.9 459.2 451.2 459.7 447.9 460.2 444.9 460.7 442.4 461.2 440.4 461.7 438.9 462.2 437.8 462.7 437.3 463.2 437.3 463.7 437.8 464.2 438.8 464.7 440.2 465.2 442.2 465.7 444.7 466.2 447.6 466.7 450.9 467.2 454.6 467.7 458.7 468.2 463.1 468.7 467.8 469.2 472.7 469.7 477.8 470.2 483.2 470.7 488.6 471.2 494.2 471.7 499.8 472.2 505.4 472.7 511 473.2 516.6 473.7 522.1 474.2 527.5 474.7 532.7 475.2 537.9 475.7 542.8 476.2 547.5 476.7 552.1 477.2 556.4 477.7 560.5 478.2 564.4 478.7 568.1 479.2 571.5 479.7 574.7 480.2 577.7 480.7 580.5 481.2 583 481.7 585.4 482.2 587.5 482.7 589.5 483.2 591.3 483.7 592.9 484.2 594.3 484.7 595.7 485.2 596.8 485.7 597.9 486.2 598.8 486.7 599.7 487.2 600.4 487.7 601.1 488.2 601.6 488.7 602.1 489.2 602.6 489.7 603 490.2 603.3 490.7 603.6 491.2 603.9 491.7 604.1 492.2 604.3 492.7 604.4 493.2 604.6 493.7 604.7 494.2 604.8 494.7 604.9 495.2 605 495.7 605.1 496.2 605.2 496.7 605.2 497.2 605.3 497.7 605.3 498.2 605.4 498.7 605.4 499.2 605.5 499.7 605.5 500.2 605.5 500.7 605.6 501.2 605.6 501.7 605.6 502.2 605.6 502.7 605.7 503.2 605.7 503.7 605.7 504.2 605.8 504.7 605.8 505.2 605.8 505.7 605.8 506.2 605.9 506.7 605.9 507.2 605.9 507.7 605.9 508.2 606 508.7 606 509.2 606 509.7 606.1 510.2 606.1 510.7 606.1 511.2 606.1 511.7 606.2 512.2 606.2 512.7 606.2 513.2 606.2 513.7 606.3 514.2 606.3 514.7 606.3 515.2 606.3 515.7 606.4 516.2 606.4 516.7 606.4 517.2 606.4 517.7 606.5 518.2 606.5 518.7 606.5 519.2 606.5 519.7 606.6 520.2 606.6 520.7 606.6 521.2 606.7 521.7 606.7 522.2 606.7 522.7 606.7 523.2 606.8 523.7 606.8 524.2 606.8 524.7 606.8 525.2 606.9 525.7 606.9 526.2 606.9 526.7 606.9 527.2 607 527.7 607 528.2 607 528.7 607 529.2 607.1 529.7 607.1 530.2 607.1 530.7 607.1 531.2 607.2 531.7 607.2 532.2 607.2 532.7 607.3 533.2 607.3 533.7 607.3 534.2 607.3 534.7 607.4 535.2 607.4 535.7 607.4 536.2 607.4 536.7 607.5 537.2 607.5 537.7 607.5 538.2 607.5 538.7 607.6 539.2 607.6 539.7 607.6 540.2 607.6 540.7 607.7 541.2 607.7 541.7 607.7 542.2 607.7 542.7 607.8 543.2 607.8 543.7 607.8 544.2 607.9 544.7 607.9 545.2 607.9 545.7 607.9 546.2 608 546.7 608 547.2 608 547.7 608 548.2 608.1 548.7 608.1 549.2 608.1 549.7 608.1 550.2 608.2 550.7 608.2 551.2 608.2 551.7 608.2 552.2 608.3 552.7 608.3 553.2 608.3 553.7 608.3 554.2 608.4 554.7 608.4 555.2 608.4 555.7 608.5 556.2 608.5 556.7 608.5 557.2 608.5 557.7 608.6 558.2 608.6 558.7 608.6 559.2 608.6 559.7 608.7 560.2 608.7 560.7 608.7 561.2 608.7 561.7 608.8 562.2 608.8 562.7 608.8 563.2 608.8 563.7 608.9 564.2 608.9 564.7 608.9 565.2 608.9 565.7 609 566.2 609 566.7 609 567.2 609.1 567.7 609.1 568.2 609.1 568.7 609.1 569.2 609.2 569.7 609.2 570.2 609.2 570.7 609.2 571.2 609.3 571.7 609.3 572.2 609.3 572.7 609.3 573.2 609.4 573.7 609.4 574.2 609.4 574.7 609.4 575.2 609.5 575.7 609.5 576.2 609.5 576.7 609.5 577.2 609.6 577.7 609.6 578.2 609.6 578.7 609.7 579.2 609.7 579.7 609.7 580.2 609.7 580.7 609.8 581.2 609.8 581.7 609.8 582.2 609.8 582.7 609.9 583.2 609.9 583.7 609.9 584.2 609.9 584.7 610 585.2 610 585.7 610 586.2 610 586.7 610.1 587.2 610.1 587.7 610.1 588.2 610.2 588.7 610.2 589.2 610.2 589.7 610.2 590.2 610.3 590.7 610.3 591.2 610.3 591.7 610.3 592.2 610.4 592.7 610.4 593.2 610.4 593.7 610.4 594.2 610.5 594.7 610.5 595.2 610.5 595.7 610.5 596.2 610.6 596.7 610.6 597.2 610.6 597.7 610.6" fill="none" stroke="#22b04a" stroke-width="1.6"/>
<rect x="326.7" y="415.6" width="271.1" height="217.4" fill="none" stroke="#333" stroke-width="1.3"/>
<line x1="326.7" y1="633" x2="326.7" y2="628" stroke="#333" stroke-width="1.1"/>
<line x1="353.8" y1="633" x2="353.8" y2="628" stroke="#333" stroke-width="1.1"/>
<line x1="380.9" y1="633" x2="380.9" y2="628" stroke="#333" stroke-width="1.1"/>
<line x1="408" y1="633" x2="408" y2="628" stroke="#333" stroke-width="1.1"/>
<line x1="435.1" y1="633" x2="435.1" y2="628" stroke="#333" stroke-width="1.1"/>
<line x1="462.2" y1="633" x2="462.2" y2="628" stroke="#333" stroke-width="1.1"/>
<line x1="489.4" y1="633" x2="489.4" y2="628" stroke="#333" stroke-width="1.1"/>
<line x1="516.5" y1="633" x2="516.5" y2="628" stroke="#333" stroke-width="1.1"/>
<line x1="543.6" y1="633" x2="543.6" y2="628" stroke="#333" stroke-width="1.1"/>
<line x1="570.7" y1="633" x2="570.7" y2="628" stroke="#333" stroke-width="1.1"/>
<line x1="597.8" y1="633" x2="597.8" y2="628" stroke="#333" stroke-width="1.1"/>
<text x="329.7" y="649.2" font-size="14" fill="#111" text-anchor="middle">168</text>
<text x="383.9" y="649.2" font-size="14" fill="#111" text-anchor="middle">166</text>
<text x="438.1" y="649.2" font-size="14" fill="#111" text-anchor="middle">164</text>
<text x="492.4" y="649.2" font-size="14" fill="#111" text-anchor="middle">162</text>
<text x="546.6" y="649.2" font-size="14" fill="#111" text-anchor="middle">160</text>
<text x="600.8" y="649.2" font-size="14" fill="#111" text-anchor="middle">158</text>
<rect x="520.9" y="421.5" width="66" height="76" fill="#fff" stroke="#9a9a9a" stroke-width="1"/>
<line x1="521.8" y1="428.7" x2="532.3" y2="428.7" stroke="#ec1c24" stroke-width="2.2"/>
<line x1="542" y1="428.7" x2="549" y2="428.7" stroke="#ec1c24" stroke-width="2.2"/>
<text x="551.3" y="432.7" font-size="11.2" fill="#111">Raw</text>
<line x1="521.8" y1="443" x2="532.3" y2="443" stroke="#1f4e9e" stroke-width="2.2"/>
<line x1="542" y1="443" x2="549" y2="443" stroke="#1f4e9e" stroke-width="2.2"/>
<text x="551.3" y="447" font-size="11.2" fill="#111">Sum</text>
<line x1="521.8" y1="457.4" x2="549" y2="457.4" stroke="#ffc000" stroke-width="1.8"/>
<text x="551.3" y="461.4" font-size="11.2" fill="#111">BG</text>
<line x1="521.8" y1="471.7" x2="549" y2="471.7" stroke="#22b04a" stroke-width="1.8"/>
<text x="551.3" y="475.7" font-size="11.2" fill="#111">S 2p<tspan font-size="8" dy="2">3/2</tspan></text>
<line x1="521.8" y1="487.5" x2="549" y2="487.5" stroke="#3b3f8f" stroke-width="1.8"/>
<text x="551.3" y="491.5" font-size="11.2" fill="#111">S 2p<tspan font-size="8" dy="2">1/2</tspan></text>
<text x="451" y="435" font-size="14.3" fill="#ec1c24">S 2p<tspan font-size="12" dy="3">3/2</tspan></text>
<text x="375" y="513.5" font-size="14.3" fill="#ec1c24">S 2p<tspan font-size="12" dy="3">1/2</tspan></text>
<text x="393.4" y="667.6" font-size="14.4" fill="#111" font-weight="bold">Binding Energy (eV)</text>
<text transform="translate(321.3 518.2) rotate(-90)" font-size="14.7" font-weight="bold" fill="#111" text-anchor="middle">Intensity (a.u.)</text>
<text x="300.2" y="13" font-size="15" fill="#111">(b)</text>
<text x="335.8" y="10.9" font-size="10.7" fill="#111">MoS<tspan font-size="7.5">2</tspan> monolayer</text>
<text x="486.5" y="10.9" font-size="10.7" fill="#111">MoS<tspan font-size="7.5">2</tspan>/Ti (metallization)</text>
<clipPath id="cl"><rect x="334.9" y="18.4" width="115.5" height="172.5"/></clipPath>
<line x1="376.8" y1="18.4" x2="376.8" y2="190.9" stroke="#b4b4b4" stroke-width="1"/>
<line x1="425.7" y1="18.4" x2="425.7" y2="190.9" stroke="#b4b4b4" stroke-width="1"/>
<g clip-path="url(#cl)">
<path d="M334.9 39.5h0M336.3 40.3h0M337.7 41.3h0M339.1 42.5h0M340.5 43.8h0M341.9 45.3h0M343.4 46.9h0M344.8 48.7h0M346.2 50.2h0M347.6 51.3h0M349 52.1h0M350.4 52.9h0M351.8 53.7h0M353.2 54.6h0M354.6 55.4h0M356 55.9h0M357.4 55.9h0M358.8 55.6h0M360.3 55.1h0M361.7 53.9h0M363.1 52.1h0M364.5 50h0M365.9 47.6h0M367.3 44.8h0M368.7 42.3h0M370.1 40.2h0M371.5 38.7h0M372.9 38.1h0M374.3 37.6h0M375.7 37.3h0M377.2 37.3h0M378.6 37.5h0M380 37.8h0M381.4 38.2h0M382.8 38.9h0M384.2 40.1h0M385.6 42h0M387 44.1h0M388.4 46.2h0M389.8 48.6h0M391.2 50.9h0M392.6 53.1h0M394.1 55h0M395.5 56.8h0M396.9 58.6h0M398.3 60.2h0M399.7 61.4h0M401.1 62.2h0M402.5 62.5h0M403.9 62.2h0M405.3 61.6h0M406.7 60.2h0M408.1 58h0M409.6 56.5h0M411 55.5h0M412.4 55.3h0M413.8 56.5h0M415.2 58.2h0M416.6 60.2h0M418 62.5h0M419.4 64.6h0M420.8 66.9h0M422.2 68.8h0M423.6 69.9h0M425 70.6h0M426.5 70.5h0M427.9 69.5h0M429.3 68.2h0M430.7 66.4h0M432.1 64.3h0M433.5 62.4h0M434.9 60.5h0M436.3 58.8h0M437.7 57.3h0M439.1 55.9h0M440.5 54.7h0M441.9 54.1h0M443.4 53.7h0M444.8 53.6h0M446.2 53.8h0M447.6 54h0M449 54.1h0M450.4 54.3h0" stroke="#f01818" stroke-width="2.5" stroke-linecap="round" fill="none"/>
<path d="M334.9 54.8h0M336.3 55h0M337.7 55.1h0M339.2 55.2h0M340.6 55.2h0M342 55h0M343.4 54.8h0M344.8 54.5h0M346.2 54.3h0M347.7 54.1h0M349.1 53.9h0M350.5 53.5h0M351.9 52.7h0M353.3 51.5h0M354.8 50.4h0M356.2 49.2h0M357.6 47.9h0M359 46.5h0M360.4 45.1h0M361.8 43.6h0M363.3 42.1h0M364.7 40.4h0M366.1 38.7h0M367.5 37.1h0M368.9 35.7h0M370.4 34.3h0M371.8 33h0M373.2 32.1h0M374.6 31.4h0M376 31h0M377.4 31h0M378.9 31.3h0M380.3 31.8h0M381.7 32.4h0M383.1 33.3h0M384.5 34.5h0M385.9 36.2h0M387.4 38.2h0M388.8 40.1h0M390.2 42.1h0M391.6 43.8h0M393 45.1h0M394.5 46h0M395.9 46.6h0M397.3 47.1h0M398.7 47.3h0M400.1 46.6h0M401.5 45.5h0M403 43.8h0M404.4 41.5h0M405.8 39h0M407.2 36h0M408.6 33.4h0M410.1 31.4h0M411.5 29.9h0M412.9 28.9h0M414.3 28.4h0M415.7 28h0M417.1 27.8h0M418.6 28h0M420 28.7h0M421.4 29.5h0M422.8 30h0M424.2 30.4h0M425.7 30.6h0M427.1 30.4h0M428.5 29.8h0M429.9 28.9h0M431.3 27.4h0M432.7 25.4h0M434.2 23.1h0M435.6 20.7h0M437 18.4h0" stroke="#f01818" stroke-width="2.5" stroke-linecap="round" fill="none"/>
<path d="M376.6 37.6h0M378 37.4h0M379.5 37.4h0M380.9 37.7h0M382.4 38.5h0M383.8 39.5h0M385.2 40.9h0M386.7 42.2h0M388.1 43.6h0M389.6 44.9h0M391 46h0M392.4 46.9h0M393.9 47.6h0M395.3 48.3h0M396.8 48.6h0M398.2 48.6h0M399.6 48.5h0M401.1 48.2h0M402.5 47.8h0M404 47.2h0M405.4 46.5h0M406.9 45.7h0M408.3 44.7h0M409.7 43.4h0M411.2 41.8h0M412.6 39.7h0M414.1 37.1h0M415.5 33.7h0M416.9 30.5h0M418.4 27.3h0M419.8 24.2h0M421.3 21.2h0M422.7 18.4h0" stroke="#f01818" stroke-width="2.5" stroke-linecap="round" fill="none"/>
<path d="M430.4 20h0M431.8 21.9h0M433.2 23.9h0M434.7 26.2h0M436.1 28.5h0M437.5 30.5h0M438.9 32.5h0M440.4 34.3h0M441.8 36h0M443.2 37.3h0M444.7 38.3h0M446.1 39h0M447.5 39.4h0M449 39.7h0M450.4 39.8h0" stroke="#f01818" stroke-width="2.5" stroke-linecap="round" fill="none"/>
<path d="M349.7 20h0M351.2 22.5h0M352.7 25.2h0M354.2 27.9h0M355.7 30.5h0M357.1 33.2h0M358.6 35.9h0M360.1 38.9h0M361.6 41.8h0M363.1 44.7h0M364.6 48.2h0" stroke="#f01818" stroke-width="2.5" stroke-linecap="round" fill="none"/>
<path d="M362 19.9h0M363.4 22.3h0M364.8 24.6h0M366.2 26.9h0M367.6 29h0M369.1 30.9h0M370.5 32.3h0M371.9 33.4h0M373.3 34.1h0M374.7 34.5h0M376.1 34.7h0M377.5 34.6h0M378.9 34.4h0M380.3 34h0M381.7 33.1h0M383.1 31.8h0M384.6 29.7h0M386 27.4h0M387.4 25.2h0M388.8 22.9h0M390.2 20.3h0" stroke="#f01818" stroke-width="2.5" stroke-linecap="round" fill="none"/>
<path d="M334.9 136.7h0M336.3 137.4h0M337.7 138.3h0M339.1 139.4h0M340.5 140.6h0M341.9 141.9h0M343.4 143.2h0M344.8 144.4h0M346.2 145.2h0M347.6 145.8h0M349 146h0M350.4 145.6h0M351.8 144.9h0M353.2 143.8h0M354.6 142h0M356 140h0M357.4 137.8h0M358.8 135.5h0M360.3 133.2h0M361.7 131h0M363.1 128.8h0M364.5 126.8h0M365.9 125.1h0M367.3 123.7h0M368.7 122.5h0M370.1 121.5h0M371.5 120.8h0M372.9 120.2h0M374.3 119.7h0M375.7 119.4h0M377.2 119.3h0M378.6 119.4h0M380 119.7h0M381.4 120.1h0M382.8 120.6h0M384.2 121.2h0M385.6 121.9h0M387 122.8h0M388.4 123.8h0M389.8 125.1h0M391.2 126.7h0M392.6 128.4h0M394.1 130.3h0M395.5 132.5h0M396.9 134.7h0M398.3 136.5h0M399.7 138.3h0M401.1 139.8h0M402.5 140.7h0M403.9 140.7h0M405.3 140.3h0M406.7 139.6h0M408.1 138.7h0M409.6 137h0M411 135h0M412.4 132.9h0M413.8 130.9h0M415.2 128.6h0M416.6 126.3h0M418 124.3h0M419.4 122.8h0M420.8 121.5h0M422.2 120.2h0M423.6 119.2h0M425 118.7h0M426.5 118.7h0M427.9 119.2h0M429.3 120.1h0M430.7 121.1h0M432.1 122.1h0M433.5 123h0M434.9 124.1h0M436.3 125.3h0M437.7 126.5h0M439.1 127.8h0M440.5 129h0M441.9 130.2h0M443.4 131.6h0M444.8 132.8h0M446.2 133.9h0M447.6 134.9h0M449 135.9h0M450.4 136.7h0" stroke="#f01818" stroke-width="2.5" stroke-linecap="round" fill="none"/>
<path d="M334.9 145.4h0M336.3 145.6h0M337.8 145.9h0M339.2 146.5h0M340.6 147.5h0M342 148.5h0M343.5 149.7h0M344.9 151.1h0M346.3 152.7h0M347.8 154.7h0M349.2 156.8h0M350.6 158.9h0M352 161.1h0M353.5 163.7h0M354.9 166.3h0M356.3 169h0M357.8 171.6h0M359.2 174.1h0M360.6 176.6h0M362.1 179.2h0M363.5 181.8h0M364.9 184.3h0M366.3 186.8h0M367.8 189.2h0" stroke="#f01818" stroke-width="2.5" stroke-linecap="round" fill="none"/>
<path d="M438.3 186.1h0M439.8 180.6h0M441.3 175.1h0M442.8 169.6h0M444.4 164.2h0M445.9 159.1h0M447.4 154.2h0M448.9 149.6h0M450.4 145.2h0" stroke="#f01818" stroke-width="2.5" stroke-linecap="round" fill="none"/>
<path d="M334.9 171.4h0M336.3 171.4h0M337.7 171.2h0M339.1 170.9h0M340.5 170.3h0M341.9 169.5h0M343.4 168.6h0M344.8 167.5h0M346.2 166.4h0M347.6 165.2h0M349 163.9h0M350.4 162.5h0M351.8 161.1h0M353.2 159.5h0M354.6 157.7h0M356 156h0M357.4 154.1h0M358.8 152.2h0M360.3 150.8h0M361.7 149.6h0M363.1 148.6h0M364.5 148h0M365.9 148.2h0M367.3 149h0M368.7 150.1h0M370.1 151.3h0M371.5 152.9h0M372.9 154.7h0M374.3 157.2h0M375.7 159.9h0M377.2 160.9h0M378.6 159.6h0M380 157.5h0M381.4 155.5h0M382.8 153.7h0M384.2 151.9h0M385.6 150.3h0M387 148.6h0M388.4 147.1h0M389.8 146.1h0M391.2 145.3h0M392.6 144.8h0M394.1 144.6h0M395.5 144.9h0M396.9 145.5h0M398.3 146.2h0M399.7 147.3h0M401.1 148.9h0M402.5 150.6h0M403.9 152.5h0M405.3 154.6h0M406.7 156.5h0M408.1 158.4h0M409.6 160.4h0M411 162.4h0M412.4 164.6h0M413.8 166.7h0M415.2 168.7h0M416.6 170.7h0M418 172.5h0M419.4 174.2h0M420.8 175.9h0M422.2 177.2h0M423.6 178.5h0M425 179.4h0M426.5 179.4h0M427.9 178.8h0M429.3 177.9h0M430.7 176.8h0M432.1 175.4h0M433.5 174.2h0M434.9 173.2h0M436.3 172.3h0M437.7 171.7h0M439.1 171.3h0M440.5 170.9h0M441.9 170.8h0M443.4 170.8h0M444.8 170.9h0M446.2 171h0M447.6 171.1h0M449 171.2h0M450.4 171.4h0" stroke="#f01818" stroke-width="2.5" stroke-linecap="round" fill="none"/>
<path d="M356.4 189.2h0M357.8 187h0M359.3 184.8h0M360.7 182.7h0M362.1 180.7h0M363.5 178.8h0M364.9 176.9h0M366.4 175h0M367.8 173.1h0M369.2 171.1h0M370.6 169.2h0M372 167.4h0M373.5 165.6h0M374.9 163.2h0M376.3 161.2h0M377.7 161.4h0M379.1 163.6h0M380.5 165.8h0M382 167.6h0M383.4 169.5h0M384.8 171.4h0M386.2 173.3h0M387.6 175.3h0M389.1 177.2h0M390.5 179h0M391.9 180.9h0M393.3 183h0M394.7 185.2h0M396.2 187.3h0M397.6 189.4h0" stroke="#f01818" stroke-width="2.5" stroke-linecap="round" fill="none"/>
<path d="M368.9 188.3h0M370.4 184.8h0M371.8 180.8h0M373.3 176.6h0M374.7 172.2h0M376.2 168.3h0M377.6 168.3h0M379.1 172.2h0M380.5 176.6h0M382 180.8h0M383.4 184.8h0M384.9 188.3h0" stroke="#f01818" stroke-width="2.5" stroke-linecap="round" fill="none"/>
<path d="M387 188.2h0M388.4 185.1h0M389.9 182.2h0M391.4 179.6h0M392.8 177.4h0M394.3 175.9h0M395.8 174.7h0M397.2 174h0M398.7 173.5h0M400.1 173.3h0M401.6 173.8h0M403.1 174.9h0M404.5 176.8h0M406 179.5h0M407.5 182.5h0M408.9 186.3h0" stroke="#f01818" stroke-width="2.5" stroke-linecap="round" fill="none"/>
</g>
<rect x="334.9" y="18.4" width="115.5" height="172.5" fill="none" stroke="#222" stroke-width="1.2"/>
<line x1="334.9" y1="18.4" x2="337.1" y2="18.4" stroke="#222" stroke-width="0.9"/>
<line x1="448.2" y1="18.4" x2="450.4" y2="18.4" stroke="#222" stroke-width="0.9"/>
<line x1="334.9" y1="32.8" x2="337.1" y2="32.8" stroke="#222" stroke-width="0.9"/>
<line x1="448.2" y1="32.8" x2="450.4" y2="32.8" stroke="#222" stroke-width="0.9"/>
<line x1="334.9" y1="47.1" x2="337.1" y2="47.1" stroke="#222" stroke-width="0.9"/>
<line x1="448.2" y1="47.1" x2="450.4" y2="47.1" stroke="#222" stroke-width="0.9"/>
<line x1="334.9" y1="61.5" x2="337.1" y2="61.5" stroke="#222" stroke-width="0.9"/>
<line x1="448.2" y1="61.5" x2="450.4" y2="61.5" stroke="#222" stroke-width="0.9"/>
<line x1="334.9" y1="75.9" x2="337.1" y2="75.9" stroke="#222" stroke-width="0.9"/>
<line x1="448.2" y1="75.9" x2="450.4" y2="75.9" stroke="#222" stroke-width="0.9"/>
<line x1="334.9" y1="90.3" x2="337.1" y2="90.3" stroke="#222" stroke-width="0.9"/>
<line x1="448.2" y1="90.3" x2="450.4" y2="90.3" stroke="#222" stroke-width="0.9"/>
<line x1="334.9" y1="104.7" x2="337.1" y2="104.7" stroke="#222" stroke-width="0.9"/>
<line x1="448.2" y1="104.7" x2="450.4" y2="104.7" stroke="#222" stroke-width="0.9"/>
<line x1="334.9" y1="119" x2="337.1" y2="119" stroke="#222" stroke-width="0.9"/>
<line x1="448.2" y1="119" x2="450.4" y2="119" stroke="#222" stroke-width="0.9"/>
<line x1="334.9" y1="133.4" x2="337.1" y2="133.4" stroke="#222" stroke-width="0.9"/>
<line x1="448.2" y1="133.4" x2="450.4" y2="133.4" stroke="#222" stroke-width="0.9"/>
<line x1="334.9" y1="147.8" x2="337.1" y2="147.8" stroke="#222" stroke-width="0.9"/>
<line x1="448.2" y1="147.8" x2="450.4" y2="147.8" stroke="#222" stroke-width="0.9"/>
<line x1="334.9" y1="162.2" x2="337.1" y2="162.2" stroke="#222" stroke-width="0.9"/>
<line x1="448.2" y1="162.2" x2="450.4" y2="162.2" stroke="#222" stroke-width="0.9"/>
<line x1="334.9" y1="176.5" x2="337.1" y2="176.5" stroke="#222" stroke-width="0.9"/>
<line x1="448.2" y1="176.5" x2="450.4" y2="176.5" stroke="#222" stroke-width="0.9"/>
<line x1="334.9" y1="190.9" x2="337.1" y2="190.9" stroke="#222" stroke-width="0.9"/>
<line x1="448.2" y1="190.9" x2="450.4" y2="190.9" stroke="#222" stroke-width="0.9"/>
<text x="331.4" y="21.4" font-size="9.3" fill="#111" text-anchor="end">3</text>
<text x="331.4" y="50.5" font-size="9.3" fill="#111" text-anchor="end">2</text>
<text x="331.4" y="79.6" font-size="9.3" fill="#111" text-anchor="end">1</text>
<text x="331.4" y="108.6" font-size="9.3" fill="#111" text-anchor="end">0</text>
<text x="331.4" y="137.7" font-size="9.3" fill="#111" text-anchor="end">-1</text>
<text x="331.4" y="166.8" font-size="9.3" fill="#111" text-anchor="end">-2</text>
<text x="331.4" y="195.9" font-size="9.3" fill="#111" text-anchor="end">-3</text>
<line x1="334.9" y1="104.6" x2="450.4" y2="104.6" stroke="#22a03a" stroke-width="1.2" stroke-dasharray="4 2.6"/>
<line x1="409.5" y1="71.5" x2="432" y2="71.5" stroke="#2a3ae0" stroke-width="1.1"/>
<line x1="409.5" y1="118.1" x2="432" y2="118.1" stroke="#2a3ae0" stroke-width="1.1"/>
<line x1="416.2" y1="74" x2="416.2" y2="115.5" stroke="#2a3ae0" stroke-width="0.9"/>
<path d="M414.8 75.5 L416.2 71.8 L417.6 75.5Z" fill="#2a3ae0" stroke="#2a3ae0" stroke-width="0.3"/>
<path d="M414.8 114.2 L416.2 117.8 L417.6 114.2Z" fill="#2a3ae0" stroke="#2a3ae0" stroke-width="0.3"/>
<text x="420.6" y="96.6" font-size="11" fill="#111" font-style="italic">E</text>
<text x="427.4" y="96.6" font-size="8.8" fill="#111" font-style="italic">g</text>
<text transform="translate(318 101.3) rotate(-90)" font-size="10.7" fill="#111" text-anchor="middle">Energy (eV)</text>
<text x="337.2" y="205.7" font-size="10" fill="#111" text-anchor="middle">M</text>
<text x="377.8" y="205.7" font-size="12.5" fill="#111" text-anchor="middle" font-family='"Liberation Serif", serif'>&#915;</text>
<text x="425.1" y="205.7" font-size="10" fill="#111" text-anchor="middle">K</text>
<text x="450.1" y="205.7" font-size="10" fill="#111" text-anchor="middle">M</text>
<clipPath id="cr"><rect x="485.3" y="17.9" width="115.69999999999999" height="172.7"/></clipPath>
<line x1="527.9" y1="17.9" x2="527.9" y2="190.6" stroke="#b4b4b4" stroke-width="1"/>
<line x1="576.4" y1="17.9" x2="576.4" y2="190.6" stroke="#b4b4b4" stroke-width="1"/>
<g clip-path="url(#cr)">
<path d="M485 19.9h0M486.4 20.3h0M487.8 20.6h0M489.2 21.1h0M490.7 21.5h0M492.1 22h0M493.5 22.6h0M494.9 23.2h0M496.3 23.9h0M497.8 24.5h0M499.2 25.2h0M500.6 25.7h0M502 26.3h0M503.4 26.8h0M504.8 27.3h0M506.2 27.8h0M507.7 28.2h0M509.1 28.6h0M510.5 29h0M511.9 29.3h0M513.3 29.5h0M514.8 29.4h0M516.2 29.1h0M517.6 28.5h0M519 27.8h0M520.4 27.4h0M521.8 27h0M523.2 26.6h0M524.7 26.2h0M526.1 25.9h0M527.5 25.6h0" stroke="#606060" stroke-width="2.0" stroke-linecap="round" fill="none"/>
<path d="M485 22.5h0M486.4 23h0M487.9 23.5h0M489.3 24h0M490.7 24.6h0M492.1 25.1h0M493.6 25.8h0M495 26.4h0M496.4 27.2h0M497.9 27.9h0M499.3 28.7h0M500.7 29.4h0M502.1 30.1h0M503.6 30.7h0M505 31.2h0M506.4 31.7h0M507.9 32.3h0M509.3 32.9h0M510.7 33.5h0M512.1 34.3h0M513.6 35.1h0M515 35.9h0M516.4 36.8h0M517.9 37.8h0M519.3 38.8h0M520.7 39.8h0M522.1 40.7h0M523.6 41.6h0M525 42.5h0" stroke="#606060" stroke-width="2.0" stroke-linecap="round" fill="none"/>
<path d="M485 25.1h0M486.4 25.5h0M487.8 25.9h0M489.2 26.4h0M490.6 27h0M492 27.5h0M493.4 28.1h0M494.9 28.8h0M496.3 29.6h0M497.7 30.3h0M499.1 31.1h0M500.5 31.7h0M501.9 32.3h0M503.3 32.9h0M504.7 33.5h0M506.1 34.1h0M507.5 34.8h0M508.9 35.5h0M510.3 36.2h0M511.7 37.1h0M513.1 37.9h0M514.6 38.9h0M516 40h0M517.4 41.2h0M518.8 42.3h0M520.2 43.4h0M521.6 44.5h0M523 45.5h0" stroke="#606060" stroke-width="2.0" stroke-linecap="round" fill="none"/>
<path d="M492 34h0M493.4 34.7h0M494.8 35.4h0M496.3 36h0M497.7 36.4h0M499.1 36.8h0M500.5 37.1h0M502 37.3h0M503.4 37.5h0M504.8 37.6h0M506.2 37.6h0M507.6 37.6h0M509.1 37.6h0M510.5 37.6h0M511.9 37.6h0M513.3 37.5h0M514.8 37.1h0M516.2 36.7h0M517.6 36.3h0M519 36h0M520.4 36h0M521.9 36.3h0M523.3 36.6h0M524.7 37h0M526.1 37.3h0M527.6 37.4h0M529 37.3h0M530.4 37.1h0M531.8 36.8h0M533.2 36.5h0M534.7 36.1h0M536.1 35.7h0M537.5 35.2h0M538.9 34.5h0M540.4 33.7h0M541.8 32.9h0M543.2 32.1h0M544.6 31.4h0M546 30.7h0M547.5 30.2h0M548.9 29.6h0M550.3 29.1h0M551.7 28.6h0M553.2 28.2h0M554.6 27.8h0M556 27.4h0" stroke="#606060" stroke-width="2.0" stroke-linecap="round" fill="none"/>
<path d="M485 31.6h0M486.4 31.7h0M487.9 31.9h0M489.3 32.1h0M490.8 32.3h0M492.2 32.5h0M493.7 32.8h0M495.1 33h0M496.5 33.3h0M498 33.5h0M499.4 33.8h0M500.9 34.2h0M502.3 34.5h0M503.8 34.9h0M505.2 35.4h0M506.6 36h0M508.1 36.7h0M509.5 37.5h0M511 38.4h0M512.4 39.2h0M513.8 40.1h0M515.3 40.9h0M516.7 41.8h0M518.2 42.8h0M519.6 43.9h0M521.1 45.2h0M522.5 46.5h0" stroke="#606060" stroke-width="2.0" stroke-linecap="round" fill="none"/>
<path d="M485 35.5h0M486.4 35.8h0M487.9 36.1h0M489.3 36.5h0M490.7 36.8h0M492.1 37.2h0M493.6 37.6h0M495 38h0M496.4 38.4h0M497.8 38.9h0M499.3 39.4h0M500.7 40h0M502.1 40.5h0M503.5 41h0M505 41.5h0M506.4 41.9h0M507.8 42.3h0M509.2 42.7h0M510.7 43h0M512.1 43.5h0M513.5 44h0M514.9 44.6h0M516.4 45.3h0M517.8 46.1h0M519.2 46.9h0M520.6 47.8h0M522.1 48.9h0M523.5 50h0" stroke="#606060" stroke-width="2.0" stroke-linecap="round" fill="none"/>
<path d="M485 37.4h0M486.4 37.7h0M487.9 38.1h0M489.3 38.5h0M490.8 38.9h0M492.2 39.3h0M493.6 39.8h0M495.1 40.2h0M496.5 40.7h0M498 41.3h0M499.4 41.9h0M500.8 42.5h0M502.3 43.1h0M503.7 43.7h0M505.2 44.3h0M506.6 44.8h0M508 45.3h0M509.5 45.8h0M510.9 46.3h0M512.4 46.8h0M513.8 47.2h0M515.2 47.7h0M516.7 48.1h0M518.1 48.5h0M519.6 48.8h0M521 49.2h0" stroke="#606060" stroke-width="2.0" stroke-linecap="round" fill="none"/>
<path d="M497 47.8h0M498.5 48.2h0M499.9 48.5h0M501.4 48.8h0M502.9 48.9h0M504.4 49h0M505.8 49h0M507.3 48.9h0M508.8 48.7h0M510.2 48.5h0M511.7 48.3h0M513.2 47.8h0M514.6 47.1h0M516.1 46.2h0M517.6 45.4h0M519.1 44.7h0M520.5 44.1h0M522 43.5h0" stroke="#606060" stroke-width="2.0" stroke-linecap="round" fill="none"/>
<path d="M485 55.2h0M486.4 55.2h0M487.8 55.2h0M489.3 55.3h0M490.7 55.4h0M492.1 55.8h0M493.5 56.5h0M494.9 57.5h0M496.4 59.1h0M497.8 61h0M499.2 62.7h0M500.6 64.8h0M502 66.9h0M503.5 67.8h0M504.9 67.5h0M506.3 66.7h0M507.7 65.7h0M509.1 64.1h0M510.6 62.4h0M512 60.6h0M513.4 58.7h0M514.8 56.8h0M516.2 54.9h0M517.7 53.3h0M519.1 51.8h0M520.5 50.5h0" stroke="#606060" stroke-width="2.0" stroke-linecap="round" fill="none"/>
<path d="M495 18.2h0M496.4 18.5h0M497.9 18.8h0M499.3 19.2h0M500.8 19.5h0M502.2 19.8h0M503.7 20.2h0M505.1 20.5h0M506.6 20.8h0M508 21.2h0M509.4 21.5h0M510.9 21.8h0M512.3 22h0M513.8 22.3h0M515.2 22.5h0M516.7 22.7h0M518.1 22.9h0M519.6 23h0M521 23.2h0" stroke="#606060" stroke-width="2.0" stroke-linecap="round" fill="none"/>
<path d="M505 18.5h0M506.5 18.8h0M507.9 19.1h0M509.4 19.5h0M510.8 19.9h0M512.3 20.3h0M513.7 20.8h0M515.2 21.3h0M516.6 21.9h0M518.1 22.4h0M519.5 22.9h0M521 23.5h0" stroke="#606060" stroke-width="2.0" stroke-linecap="round" fill="none"/>
<path d="M514.5 24.5h0M515.9 24h0M517.3 23.5h0M518.8 23.1h0M520.2 22.7h0M521.6 22.5h0M523 22.3h0M524.4 22.2h0M525.8 22.1h0M527.2 22h0M528.7 22h0M530.1 22.1h0M531.5 22.3h0M532.9 22.4h0M534.3 22.7h0M535.8 23h0M537.2 23.4h0M538.6 23.9h0M540 24.5h0" stroke="#606060" stroke-width="2.0" stroke-linecap="round" fill="none"/>
<path d="M514.5 24.6h0M515.9 24.5h0M517.3 24.4h0M518.8 24.4h0M520.2 24.3h0M521.6 24.3h0M523 24.3h0M524.4 24.2h0M525.8 24.2h0M527.2 24.2h0M528.7 24.2h0M530.1 24.2h0M531.5 24.2h0M532.9 24.3h0M534.3 24.3h0M535.8 24.4h0M537.2 24.4h0M538.6 24.5h0M540 24.6h0" stroke="#606060" stroke-width="2.0" stroke-linecap="round" fill="none"/>
<path d="M515 25h0M516.5 25.3h0M517.9 25.6h0M519.4 25.9h0M520.9 26h0M522.4 26.1h0M523.8 26.1h0M525.3 26.2h0M526.8 26.2h0M528.2 26.2h0M529.7 26.2h0M531.2 26.1h0M532.6 26.1h0M534.1 26h0M535.6 25.9h0M537.1 25.6h0M538.5 25.3h0M540 25h0" stroke="#606060" stroke-width="2.0" stroke-linecap="round" fill="none"/>
<path d="M540 24.5h0M541.4 24.2h0M542.8 23.9h0M544.2 23.6h0M545.6 23.4h0M547 23.2h0M548.4 23.1h0M549.8 22.8h0M551.2 22.5h0M552.6 22h0M554 21.4h0M555.4 20.8h0M556.8 20.1h0M558.2 19.5h0M559.6 18.8h0M561 18h0" stroke="#606060" stroke-width="2.0" stroke-linecap="round" fill="none"/>
<path d="M540 24.6h0M541.5 24.9h0M542.9 25.2h0M544.4 25.3h0M545.9 25.3h0M547.3 25.2h0M548.8 24.9h0M550.3 24.5h0M551.7 24.1h0M553.2 23.5h0M554.7 22.8h0M556.1 22h0M557.6 21.2h0M559.1 20.3h0M560.5 19.4h0M562 18.5h0" stroke="#606060" stroke-width="2.0" stroke-linecap="round" fill="none"/>
<path d="M534 22.5h0M535.4 21.9h0M536.8 21.2h0M538.2 20.4h0M539.6 19.4h0M541 18.2h0" stroke="#606060" stroke-width="2.0" stroke-linecap="round" fill="none"/>
<path d="M520.5 50.5h0M521.9 46.7h0M523.3 44.3h0M524.7 43.2h0M526.1 42.5h0M527.5 42.2h0M528.9 42.5h0M530.3 43.2h0M531.7 44.3h0M533.1 46.7h0M534.5 50.5h0" stroke="#606060" stroke-width="2.0" stroke-linecap="round" fill="none"/>
<path d="M522.5 50.5h0M523.9 47.3h0M525.4 45.6h0M526.8 44.9h0M528.2 44.9h0M529.6 45.6h0M531.1 47.3h0M532.5 50.5h0" stroke="#606060" stroke-width="2.0" stroke-linecap="round" fill="none"/>
<path d="M524.5 50h0M526 48.2h0M527.5 47.6h0M529 48.2h0M530.5 50h0" stroke="#606060" stroke-width="2.0" stroke-linecap="round" fill="none"/>
<path d="M521 49h0M522.4 49.3h0M523.9 49.5h0M525.3 49.7h0M526.8 49.8h0M528.2 49.8h0M529.7 49.7h0M531.1 49.5h0M532.6 49.3h0M534 49h0" stroke="#606060" stroke-width="2.0" stroke-linecap="round" fill="none"/>
<path d="M520 38.5h0M521.5 34.5h0M523 30.5h0M524.5 26.5h0" stroke="#606060" stroke-width="2.0" stroke-linecap="round" fill="none"/>
<path d="M530.5 26.5h0M532 30.5h0M533.5 34.5h0M535 38.5h0" stroke="#606060" stroke-width="2.0" stroke-linecap="round" fill="none"/>
<path d="M532 43.5h0M533.4 42.7h0M534.8 41.8h0M536.2 40.9h0M537.6 39.9h0M539 38.9h0M540.4 37.9h0M541.9 37h0M543.3 36.2h0M544.7 35.3h0M546.1 34.4h0M547.5 33.5h0M548.9 32.5h0M550.3 31.8h0M551.7 31.2h0M553.1 30.8h0M554.5 30.5h0M555.9 30.4h0M557.3 30.3h0M558.8 30.3h0M560.2 30.8h0M561.6 31.7h0M563 32.7h0M564.4 34h0M565.8 35.6h0M567.2 37.3h0M568.6 39.3h0M570 41.5h0M571.4 43.8h0M572.8 46.2h0M574.2 48.8h0M575.7 52h0M577.1 52.6h0M578.5 51.1h0M579.9 49.1h0M581.3 47.7h0M582.7 46.2h0M584.1 44.8h0M585.5 43.6h0M586.9 42.4h0M588.3 41.3h0M589.7 40.2h0M591.1 39.1h0M592.6 38h0M594 36.9h0M595.4 35.9h0M596.8 35h0M598.2 34.1h0M599.6 33.3h0M601 32.5h0" stroke="#606060" stroke-width="2.0" stroke-linecap="round" fill="none"/>
<path d="M534 46h0M535.4 45.7h0M536.9 45.5h0M538.3 45.4h0M539.7 45.3h0M541.1 45.4h0M542.6 45.6h0M544 45.9h0M545.4 46.3h0M546.8 46.8h0M548.3 47.7h0M549.7 48.8h0M551.1 49.9h0M552.5 50.8h0M554 51.6h0M555.4 52.4h0M556.8 53h0M558.2 53.6h0M559.7 54h0M561.1 54.4h0M562.5 54.7h0M563.9 55.1h0M565.4 55.7h0M566.8 56.3h0M568.2 56.9h0M569.6 57.4h0M571.1 57.8h0M572.5 58.3h0M573.9 58.7h0M575.3 58.9h0M576.8 59h0M578.2 58.7h0M579.6 58.2h0M581 57.7h0M582.5 57h0M583.9 56.1h0M585.3 55.3h0M586.7 54.7h0M588.2 54.2h0M589.6 53.8h0M591 53.5h0M592.4 53.3h0M593.9 53h0M595.3 52.9h0M596.7 52.8h0M598.1 52.6h0M599.6 52.6h0M601 52.5h0" stroke="#606060" stroke-width="2.0" stroke-linecap="round" fill="none"/>
<path d="M534 26.5h0M535.4 27.2h0M536.9 27.9h0M538.3 28.9h0M539.7 29.8h0M541.1 30.5h0M542.6 31.1h0M544 31.6h0M545.4 32.2h0M546.8 32.9h0M548.3 33.7h0M549.7 34.5h0M551.1 35.4h0M552.5 36.4h0M554 37.4h0M555.4 38.6h0M556.8 39.8h0M558.2 41.2h0M559.7 43h0M561.1 44.9h0M562.5 46.9h0M563.9 48.7h0M565.4 50.5h0M566.8 52.2h0M568.2 53.7h0M569.6 55.2h0M571.1 56.5h0M572.5 57.1h0M573.9 57.5h0M575.3 57.7h0M576.8 57.8h0M578.2 57.3h0M579.6 56.5h0M581 55.5h0M582.5 54.2h0M583.9 52.6h0M585.3 50.8h0M586.7 49.1h0M588.2 47.4h0M589.6 45.7h0M591 44h0M592.4 42.3h0M593.9 40.7h0M595.3 39.2h0M596.7 37.8h0M598.1 36.6h0M599.6 35.5h0M601 34.5h0" stroke="#606060" stroke-width="2.0" stroke-linecap="round" fill="none"/>
<path d="M545 57h0M546.4 58.9h0M547.8 60.6h0M549.2 61.9h0M550.6 62.8h0M552 63.5h0M553.4 64h0M554.8 64.4h0M556.2 64.9h0M557.6 65.3h0M559 65.7h0M560.4 66.1h0M561.8 66.6h0M563.2 67.3h0M564.6 67.8h0M566 68.4h0M567.4 68.8h0M568.8 69.3h0M570.2 69.7h0M571.6 70.1h0M573 70.5h0M574.4 70.9h0M575.8 71.2h0M577.2 71.4h0M578.6 71.5h0M580 71.5h0M581.4 71.4h0M582.8 71.2h0M584.2 70.9h0M585.6 69.9h0M587 68.4h0M588.4 66.7h0M589.8 64.5h0M591.2 62.3h0M592.6 60.2h0M594 58.3h0M595.4 57.2h0M596.8 56.4h0M598.2 56h0M599.6 55.7h0M601 55.5h0" stroke="#606060" stroke-width="2.0" stroke-linecap="round" fill="none"/>
<path d="M542 64.6h0M543.4 66.3h0M544.9 68h0M546.3 69.8h0M547.8 71.4h0M549.2 73.2h0M550.6 75.1h0M552.1 76.8h0M553.5 78.2h0M554.9 79.2h0M556.4 80.1h0M557.8 80.8h0M559.2 81.2h0M560.7 81h0M562.1 80.4h0M563.6 79.7h0M565 78.8h0M566.4 77.6h0M567.9 76.3h0M569.3 75h0M570.8 74.1h0M572.2 73.4h0M573.6 72.7h0M575.1 72.2h0M576.5 71.8h0" stroke="#606060" stroke-width="2.0" stroke-linecap="round" fill="none"/>
<path d="M565.3 65.6h0M566.7 64.8h0M568.2 64.1h0M569.6 63.4h0M571 62.8h0M572.4 62.2h0M573.9 61.6h0M575.3 61.1h0M576.7 60.8h0M578.2 60.5h0M579.6 60.3h0M581 60.1h0M582.4 59.9h0M583.9 59.6h0M585.3 59.4h0M586.7 59.2h0M588.1 58.9h0M589.6 58.6h0M591 58.1h0M592.4 57.6h0M593.9 57.1h0M595.3 56.7h0M596.7 56.3h0M598.1 56h0M599.6 55.7h0M601 55.5h0" stroke="#606060" stroke-width="2.0" stroke-linecap="round" fill="none"/>
<path d="M579 64h0M580.4 59.8h0M581.8 55.5h0M583.2 51.3h0M584.6 47.1h0M586 42.9h0M587.5 38.6h0M588.9 34.4h0M590.3 30.1h0M591.7 26h0M593.1 22h0M594.5 18h0" stroke="#606060" stroke-width="2.0" stroke-linecap="round" fill="none"/>
<path d="M581.7 64h0M583.1 59.8h0M584.5 55.5h0M585.9 51.3h0M587.3 47.1h0M588.7 42.9h0M590.2 38.6h0M591.6 34.4h0M593 30.1h0M594.4 26h0M595.8 22h0M597.2 18h0" stroke="#606060" stroke-width="2.0" stroke-linecap="round" fill="none"/>
<path d="M584.4 64h0M585.8 59.8h0M587.2 55.5h0M588.6 51.3h0M590 47.1h0M591.4 42.9h0M592.9 38.6h0M594.3 34.4h0M595.7 30.1h0M597.1 26h0M598.5 22h0M599.9 18h0" stroke="#606060" stroke-width="2.0" stroke-linecap="round" fill="none"/>
<path d="M587.1 64h0M588.5 59.8h0M589.9 55.5h0M591.3 51.3h0M592.7 47.1h0M594.1 42.9h0M595.6 38.6h0M597 34.4h0M598.4 30.1h0M599.8 26h0M601.2 22h0M602.6 18h0" stroke="#606060" stroke-width="2.0" stroke-linecap="round" fill="none"/>
<path d="M503 80h0M504.4 77.8h0M505.8 75.9h0M507.2 74.2h0M508.7 72.8h0M510.1 71.5h0M511.5 70.4h0M512.9 69.3h0M514.3 68.3h0M515.7 67.3h0M517.1 66.5h0M518.6 65.9h0M520 65.6h0M521.4 65.2h0M522.8 64.9h0M524.2 64.7h0M525.6 64.5h0M527 64.4h0M528.4 64.4h0M529.9 64.6h0M531.3 64.9h0M532.7 65.3h0M534.1 65.8h0M535.5 66.4h0M536.9 67h0M538.3 68h0M539.8 69.2h0M541.2 70.3h0M542.6 71.4h0M544 72.6h0" stroke="#606060" stroke-width="2.0" stroke-linecap="round" fill="none"/>
<path d="M485.5 89.2h0M486.9 89.2h0M488.3 89.1h0M489.8 89h0M491.2 88.8h0M492.6 88.7h0M494 88.4h0M495.4 88.1h0M496.9 87.6h0M498.3 86.9h0M499.7 86.2h0M501.1 85.2h0M502.5 83.9h0M504 82.3h0M505.4 80.5h0M506.8 78h0M508.2 75.1h0M509.6 72.1h0M511.1 68.7h0M512.5 65.2h0M513.9 61.9h0M515.3 58.6h0M516.7 55.5h0M518.2 52.7h0M519.6 50h0M521 47.5h0" stroke="#606060" stroke-width="2.0" stroke-linecap="round" fill="none"/>
<path d="M485.5 93.1h0M486.9 93.1h0M488.4 93h0M489.8 92.9h0M491.3 92.8h0M492.7 92.6h0M494.2 92.4h0M495.6 92.1h0M497 91.7h0M498.5 91.2h0M499.9 90.5h0M501.4 89.7h0M502.8 88.7h0M504.2 87.3h0M505.7 85.6h0M507.1 83.2h0M508.6 80.3h0M510 77.4h0M511.5 74.1h0M512.9 70.7h0M514.3 67.3h0M515.8 63.7h0M517.2 60.2h0M518.7 56.5h0M520.1 53.3h0M521.6 50.4h0M523 48h0" stroke="#606060" stroke-width="2.0" stroke-linecap="round" fill="none"/>
<path d="M485.5 101.8h0M486.9 101.8h0M488.4 101.7h0M489.8 101.5h0M491.2 101.4h0M492.6 101.2h0M494.1 100.9h0M495.5 100.6h0M496.9 100.1h0M498.3 99.4h0M499.8 98.6h0M501.2 97.5h0M502.6 95.9h0M504 93.9h0M505.5 91.5h0M506.9 88.5h0M508.3 85.3h0M509.7 81.8h0M511.2 78.1h0M512.6 74.5h0M514 70.8h0M515.4 67.1h0M516.9 63.4h0M518.3 59.7h0M519.7 56.4h0M521.1 53.3h0M522.6 50.5h0M524 48h0" stroke="#606060" stroke-width="2.0" stroke-linecap="round" fill="none"/>
<path d="M485.5 105.7h0M486.9 105.7h0M488.4 105.6h0M489.8 105.4h0M491.2 105.2h0M492.6 105h0M494.1 104.7h0M495.5 104.3h0M496.9 103.7h0M498.4 103h0M499.8 102.1h0M501.2 101h0M502.6 99.4h0M504.1 97.4h0M505.5 94.9h0M506.9 91.8h0M508.4 88.5h0M509.8 84.7h0M511.2 80.9h0M512.6 77.1h0M514.1 73.2h0M515.5 69.3h0M516.9 65.3h0M518.4 61.6h0M519.8 57.9h0M521.2 54.6h0M522.6 52h0M524.1 49.7h0M525.5 48h0" stroke="#606060" stroke-width="2.0" stroke-linecap="round" fill="none"/>
<path d="M485.5 111.7h0M486.9 112.9h0M488.4 113.8h0M489.8 114.1h0M491.3 114h0M492.7 113.6h0M494.1 113.2h0M495.6 112.6h0M497 111.9h0M498.5 110.9h0M499.9 109.7h0M501.4 108h0M502.8 105.5h0M504.2 102.4h0M505.7 98.8h0M507.1 95h0M508.6 91.1h0M510 87h0" stroke="#606060" stroke-width="2.0" stroke-linecap="round" fill="none"/>
<path d="M532 47h0M533.4 50.3h0M534.9 53.7h0M536.3 57.2h0M537.7 60.9h0M539.2 64.4h0M540.6 68h0M542 71.8h0M543.5 75.6h0M544.9 79.4h0M546.4 83.1h0M547.8 86.7h0M549.2 90.3h0M550.7 93.8h0M552.1 96.9h0M553.5 99.7h0M555 102h0M556.4 103.9h0M557.8 105.4h0M559.3 106.4h0M560.7 107.3h0M562.1 108h0M563.6 108.8h0M565 109.6h0M566.5 110.3h0M567.9 111h0M569.3 111.6h0M570.8 112.3h0M572.2 112.9h0M573.6 113.4h0M575.1 114h0M576.5 114.5h0" stroke="#606060" stroke-width="2.0" stroke-linecap="round" fill="none"/>
<path d="M535 47h0M536.4 50.3h0M537.9 53.7h0M539.3 57.2h0M540.7 60.8h0M542.2 64.4h0M543.6 67.9h0M545 71.7h0M546.4 75.5h0M547.9 79.3h0M549.3 83h0M550.7 86.6h0M552.2 90.2h0M553.6 93.6h0M555 96.7h0M556.5 99.6h0M557.9 101.9h0M559.3 103.5h0M560.8 105.1h0M562.2 108.1h0M563.6 109.9h0M565.1 110.7h0M566.5 111.2h0M567.9 111.6h0M569.3 112.1h0M570.8 112.6h0M572.2 113.1h0M573.6 113.6h0M575.1 114.1h0M576.5 114.5h0" stroke="#606060" stroke-width="2.0" stroke-linecap="round" fill="none"/>
<path d="M538 47h0M539.4 50.3h0M540.9 53.6h0M542.3 57.2h0M543.7 60.8h0M545.1 64.3h0M546.6 67.9h0M548 71.6h0M549.4 75.4h0M550.8 79.2h0M552.3 82.9h0M553.7 86.5h0M555.1 90.1h0M556.5 93.5h0M558 96.4h0M559.4 98.8h0M560.8 102.2h0M562.2 108.8h0M563.7 106.8h0M565.1 106.3h0M566.5 108.7h0M567.9 111.4h0M569.4 112.7h0M570.8 113.3h0M572.2 113.8h0M573.6 114.2h0M575.1 114.4h0M576.5 114.5h0" stroke="#606060" stroke-width="2.0" stroke-linecap="round" fill="none"/>
<path d="M553.7 96h0M555.1 97.5h0M556.6 98.8h0M558 99.9h0M559.4 101h0M560.9 101.7h0M562.3 101.8h0M563.7 101.5h0M565.2 101.3h0M566.6 101.1h0M568 100.9h0M569.4 101.3h0M570.9 102.4h0M572.3 103.9h0M573.7 106.1h0M575.2 108.5h0M576.6 111.2h0M578 115.3h0M579.5 118.7h0M580.9 121.5h0" stroke="#606060" stroke-width="2.0" stroke-linecap="round" fill="none"/>
<path d="M548.8 93h0M550.3 95.8h0M551.7 98.5h0M553.2 101.2h0M554.6 103.5h0M556.1 105.2h0M557.5 106.3h0M559 106.8h0M560.5 107.1h0M561.9 107.3h0M563.4 107.6h0M564.8 108h0M566.3 108.4h0M567.8 108.9h0M569.2 109.5h0M570.7 110.3h0M572.1 111.2h0M573.6 112.4h0M575 113.8h0M576.5 115.5h0" stroke="#606060" stroke-width="2.0" stroke-linecap="round" fill="none"/>
<path d="M576.5 115.5h0M577.9 113.8h0M579.4 112.1h0M580.8 110.6h0M582.3 109h0M583.7 107.5h0M585.1 106.4h0M586.6 105.6h0M588 104.9h0M589.5 104.3h0M590.9 103.9h0M592.4 103.6h0M593.8 103.3h0M595.2 103.2h0M596.7 103h0M598.1 102.9h0M599.6 102.8h0M601 102.8h0" stroke="#606060" stroke-width="2.0" stroke-linecap="round" fill="none"/>
<path d="M576.5 115.5h0M577.9 115.6h0M579.4 115.7h0M580.8 115.8h0M582.3 116h0M583.7 116.2h0M585.1 116.4h0M586.6 116.3h0M588 115.6h0M589.5 114.7h0M590.9 114.2h0M592.4 113.7h0M593.8 113.3h0M595.2 113.1h0M596.7 112.9h0M598.1 112.7h0M599.6 112.5h0M601 112.5h0" stroke="#606060" stroke-width="2.0" stroke-linecap="round" fill="none"/>
<path d="M578 119h0M579.4 120.9h0M580.9 122.6h0M582.3 123.9h0M583.8 125h0M585.2 125.9h0M586.6 126.8h0M588.1 127.5h0M589.5 128.2h0M590.9 128.7h0M592.4 129.1h0M593.8 129.4h0M595.2 129.6h0M596.7 129.8h0M598.1 129.9h0M599.6 130h0M601 130h0" stroke="#606060" stroke-width="2.0" stroke-linecap="round" fill="none"/>
<path d="M578 119h0M579.4 121.6h0M580.9 124h0M582.3 126.2h0M583.8 128.1h0M585.2 129.7h0M586.6 131.1h0M588.1 132.4h0M589.5 133.3h0M590.9 134.2h0M592.4 134.9h0M593.8 135.4h0M595.2 135.9h0M596.7 136.2h0M598.1 136.6h0M599.6 136.8h0M601 136.9h0" stroke="#606060" stroke-width="2.0" stroke-linecap="round" fill="none"/>
<path d="M578 119h0M579.4 122.1h0M580.9 125h0M582.3 127.5h0M583.8 129.9h0M585.2 132h0M586.6 133.7h0M588.1 135h0M589.5 136.2h0M590.9 137.1h0M592.4 137.9h0M593.8 138.5h0M595.2 139.1h0M596.7 139.6h0M598.1 140h0M599.6 140.4h0M601 140.7h0" stroke="#606060" stroke-width="2.0" stroke-linecap="round" fill="none"/>
<path d="M556.6 128.1h0M558 127.2h0M559.5 126.4h0M560.9 125.7h0M562.3 125h0M563.7 124.4h0M565.2 123.8h0M566.6 123.3h0M568 122.8h0M569.5 122.3h0M570.9 121.9h0M572.3 121.5h0M573.8 121.3h0M575.2 121.4h0M576.6 121.6h0M578 121.9h0M579.5 122.5h0M580.9 123.2h0" stroke="#606060" stroke-width="2.0" stroke-linecap="round" fill="none"/>
<path d="M576.5 115.5h0M578 113.3h0M579.5 111.4h0M581 109.5h0M582.5 108.1h0M584 107h0M585.5 106.2h0M587 105.7h0M588.5 105.2h0M590 105h0" stroke="#606060" stroke-width="2.0" stroke-linecap="round" fill="none"/>
<path d="M550 91h0M551.4 91h0M552.8 90.9h0M554.2 90.8h0M555.7 89.9h0M557.1 88.8h0M558.5 87.8h0M559.9 86.9h0M561.3 86.1h0M562.8 85.4h0M564.2 84.8h0M565.6 84.5h0M567 84.2h0M568.4 84.1h0M569.8 84.6h0M571.2 85.5h0M572.7 86.4h0M574.1 87.4h0M575.5 88.3h0M576.9 88.5h0M578.3 88.1h0M579.8 87.5h0M581.2 86.9h0M582.6 86.4h0M584 85.9h0M585.4 85.6h0M586.8 85.6h0M588.2 85.8h0M589.7 86h0M591.1 86.2h0M592.5 86.7h0M593.9 87.1h0M595.3 87.5h0M596.8 87.9h0M598.2 88.2h0M599.6 88.6h0M601 89h0" stroke="#606060" stroke-width="2.0" stroke-linecap="round" fill="none"/>
<path d="M552 93.5h0M553.4 93.3h0M554.8 93.1h0M556.2 93h0M557.6 92.8h0M559 92.5h0M560.4 92.3h0M561.8 92.2h0M563.2 92.1h0M564.6 92h0M566 91.9h0M567.4 92h0M568.8 92.3h0M570.2 92.6h0M571.6 92.9h0M573 93.3h0M574.4 93.6h0M575.8 93.8h0M577.2 93.7h0M578.6 92.9h0M580 92h0M581.4 91.1h0M582.8 90.2h0M584.2 90h0M585.6 90.4h0M587 90.8h0M588.4 91.2h0M589.8 91.7h0M591.2 92.1h0M592.6 92.5h0M594 92.8h0M595.4 93.1h0M596.8 93.3h0M598.2 93.5h0M599.6 93.7h0M601 93.8h0" stroke="#606060" stroke-width="2.0" stroke-linecap="round" fill="none"/>
<path d="M553 78h0M554.4 77.5h0M555.8 77.1h0M557.2 76.7h0M558.6 76.3h0M560.1 76h0M561.5 75.6h0M562.9 75.5h0M564.3 75.6h0M565.7 75.8h0M567.1 76.1h0M568.5 76.5h0M569.9 77.1h0M571.4 77.8h0M572.8 78.3h0M574.2 78.8h0M575.6 79.1h0M577 79.2h0M578.4 79h0M579.8 78.6h0M581.2 78.2h0M582.6 77.8h0M584.1 77.3h0M585.5 77h0M586.9 77h0M588.3 77h0M589.7 77.1h0M591.1 77.2h0M592.5 77.4h0M593.9 77.7h0M595.4 78.1h0M596.8 78.3h0M598.2 78.6h0M599.6 78.8h0M601 79h0" stroke="#606060" stroke-width="2.0" stroke-linecap="round" fill="none"/>
<path d="M556 82.5h0M557.4 82.2h0M558.8 81.9h0M560.2 81.6h0M561.6 81.4h0M563 81.2h0M564.4 81.1h0M565.8 81h0M567.2 81.1h0M568.7 81.5h0M570.1 82h0M571.5 82.3h0M572.9 82.6h0M574.3 83h0M575.7 83.2h0M577.1 83.2h0M578.5 83h0M579.9 82.6h0M581.3 82.3h0M582.7 82h0M584.1 81.6h0M585.5 81.3h0M586.9 81.3h0M588.3 81.4h0M589.8 81.5h0M591.2 81.6h0M592.6 81.8h0M594 82.1h0M595.4 82.4h0M596.8 82.6h0M598.2 82.9h0M599.6 83.1h0M601 83.3h0" stroke="#606060" stroke-width="2.0" stroke-linecap="round" fill="none"/>
<path d="M485.5 136h0M486.9 134.7h0M488.3 133.4h0M489.7 132.2h0M491.1 131.1h0M492.5 130.1h0M493.9 129h0M495.3 127.7h0M496.7 126.6h0M498.1 126.2h0M499.5 125.9h0M500.9 125.8h0M502.3 126.2h0M503.7 126.9h0M505.1 127.9h0M506.5 129.5h0M507.9 131.7h0M509.3 135h0M510.7 139.1h0M512.1 143.7h0M513.5 147.7h0M514.9 151.2h0M516.3 154.1h0M517.7 156.4h0M519.1 158.3h0M520.5 159.9h0M521.9 161.5h0M523.3 162.9h0M524.7 164h0M526.1 164.9h0M527.5 165.3h0M528.9 165h0M530.3 164.4h0M531.7 163.6h0M533.1 162.8h0M534.5 161.6h0M535.9 159.8h0M537.3 157.5h0M538.7 155h0M540.1 152.4h0M541.5 149.6h0M542.9 146.7h0M544.3 143.1h0M545.7 138.5h0M547.1 134h0M548.5 130.3h0M549.9 127.1h0M551.3 124.5h0M552.7 122.3h0M554.1 120.4h0M555.5 119.1h0M556.9 118.1h0M558.3 117.2h0M559.7 116.5h0M561.1 116h0M562.5 115.5h0M563.9 115.1h0M565.3 114.8h0M566.7 114.6h0M568.1 114.5h0M569.5 114.5h0M570.9 114.6h0M572.3 114.7h0M573.7 114.9h0M575.1 115.1h0M576.5 115.5h0" stroke="#606060" stroke-width="2.0" stroke-linecap="round" fill="none"/>
<path d="M485.5 141.8h0M486.9 141.6h0M488.3 141.4h0M489.8 141.2h0M491.2 141.1h0M492.6 140.9h0M494 140.9h0M495.5 141.1h0M496.9 141.6h0M498.3 142.5h0M499.7 144h0M501.2 145.7h0M502.6 147.8h0M504 150.1h0M505.4 152.7h0M506.9 155.7h0M508.3 158.8h0M509.7 162h0M511.1 165.2h0M512.6 168.2h0M514 171.1h0M515.4 173.9h0M516.8 176.4h0M518.3 178.8h0M519.7 181h0M521.1 183.1h0M522.5 185.1h0M524 187h0M525.4 188.4h0M526.8 189.5h0M528.2 189.6h0M529.7 188.7h0M531.1 187.4h0M532.5 185.9h0M533.9 183.9h0M535.4 181.7h0M536.8 179.2h0M538.2 176.5h0M539.6 173.6h0M541.1 170.5h0M542.5 167.2h0M543.9 163.7h0M545.3 160.4h0M546.8 157h0M548.2 153.4h0M549.6 149.7h0M551 145.9h0M552.5 141.9h0M553.9 137.8h0M555.3 133.9h0M556.7 130.5h0M558.2 128.3h0M559.6 126.5h0M561 125.6h0" stroke="#606060" stroke-width="2.0" stroke-linecap="round" fill="none"/>
<path d="M485.5 149.8h0M486.9 150.2h0M488.4 150.9h0M489.8 151.7h0M491.2 152.9h0M492.7 154.4h0M494.1 156.1h0M495.6 157.9h0M497 160h0M498.4 162.4h0M499.9 165.3h0M501.3 168.7h0M502.8 173.2h0M504.2 178.3h0M505.6 182.9h0M507.1 187h0" stroke="#606060" stroke-width="2.0" stroke-linecap="round" fill="none"/>
<path d="M485.5 158.5h0M486.9 162h0M488.4 165.9h0M489.8 170.2h0M491.2 175h0M492.6 180.3h0M494.1 185.3h0" stroke="#606060" stroke-width="2.0" stroke-linecap="round" fill="none"/>
<path d="M485.5 161h0M486.9 163.1h0M488.3 165.2h0M489.7 167.1h0M491.1 169.1h0M492.5 171.6h0M493.9 174.8h0M495.3 178h0M496.7 182.1h0M498.1 186.4h0" stroke="#606060" stroke-width="2.0" stroke-linecap="round" fill="none"/>
<path d="M547.8 190.5h0M549.2 185.5h0M550.7 181.1h0M552.1 176.7h0M553.5 171.7h0M555 167.3h0M556.4 162.1h0M557.8 156.1h0M559.3 150.5h0M560.7 146.4h0M562.1 142.7h0M563.6 138.1h0M565 133.4h0M566.5 129.5h0M567.9 126.2h0M569.3 123.5h0M570.8 121.1h0M572.2 119.3h0M573.6 117.7h0M575.1 116.4h0M576.5 115.5h0" stroke="#606060" stroke-width="2.0" stroke-linecap="round" fill="none"/>
<path d="M555.6 190.5h0M557 185.2h0M558.5 180.4h0M559.9 175.7h0M561.3 171h0M562.7 166.1h0M564.2 160.8h0M565.6 155.6h0M567 150.5h0M568.4 145.8h0M569.9 141.4h0M571.3 135.7h0M572.7 130.5h0M574.1 126h0M575.6 122.2h0M577 119h0" stroke="#606060" stroke-width="2.0" stroke-linecap="round" fill="none"/>
<path d="M558.5 190.5h0M560 185.2h0M561.5 180h0M563 175h0M564.5 170.1h0M566 165.2h0M567.5 160.1h0M569 154.8h0M570.4 149.4h0M571.9 144h0M573.4 138.6h0M574.9 133.2h0M576.4 128.2h0M577.9 124.8h0M579.4 122.6h0M580.9 121.5h0" stroke="#606060" stroke-width="2.0" stroke-linecap="round" fill="none"/>
<path d="M542 168.3h0M543.5 164.9h0M545 161.3h0M546.5 157.6h0M548 153.7h0M549.5 149.8h0M551 145.9h0M552.5 141.7h0M554 137h0" stroke="#606060" stroke-width="2.0" stroke-linecap="round" fill="none"/>
<path d="M584 139h0M585.4 140.3h0M586.8 141.7h0M588.2 143.3h0M589.7 145.1h0M591.1 147.2h0M592.5 149.2h0M593.9 151.4h0M595.3 153.5h0M596.8 155.5h0M598.2 157.4h0M599.6 159.3h0M601 161h0" stroke="#606060" stroke-width="2.0" stroke-linecap="round" fill="none"/>
<path d="M586.7 141.5h0M588.1 143.6h0M589.6 145.7h0M591 147.7h0M592.4 149.6h0M593.9 151.5h0M595.3 153.7h0M596.7 156.2h0M598.1 158.7h0M599.6 161.3h0M601 164h0" stroke="#606060" stroke-width="2.0" stroke-linecap="round" fill="none"/>
<path d="M505.4 18.6h0M506.8 19.1h0M508.2 19.7h0M509.6 20.4h0M511.1 21h0M512.5 21.5h0M513.9 21.8h0" stroke="#f01818" stroke-width="2.3" stroke-linecap="round" fill="none"/>
<path d="M513.9 42h0M515.4 43.1h0M516.8 44.4h0M518.2 45.7h0M519.7 46.8h0" stroke="#f01818" stroke-width="2.1" stroke-linecap="round" fill="none"/>
<path d="M539 45.6h0M540.6 45.6h0M542.1 45.7h0M543.7 45.9h0M545.3 46.1h0M546.9 46.3h0M548.4 46.6h0M550 47h0" stroke="#a03030" stroke-width="2.1" stroke-linecap="round" fill="none"/>
<path d="M545 23.1h0M547 20.5h0" stroke="#f01818" stroke-width="2.0" stroke-linecap="round" fill="none"/>
<path d="M485 28.3h0M486.4 28.9h0M487.9 29.7h0M489.3 30.7h0M490.7 32.4h0M492.1 34h0M493.6 35h0M495 35.6h0" stroke="#f01818" stroke-width="2.3" stroke-linecap="round" fill="none"/>
<path d="M485 44.6h0M486.5 44.7h0M488 44.9h0M489.5 45.2h0M491 45.5h0M492.5 45.9h0M494 46.4h0M495.5 47.1h0M497 47.8h0" stroke="#f01818" stroke-width="2.3" stroke-linecap="round" fill="none"/>
<path d="M493 55.5h0M494.4 56.1h0M495.9 57.4h0M497.3 59.4h0M498.7 62.1h0M500.1 65.1h0M501.6 67.9h0M503 70.5h0M504.4 73h0M505.9 75.3h0M507.3 77.6h0M508.7 79.7h0M510.1 81.3h0M511.6 82.7h0M513 84.1h0M514.4 85.6h0M515.9 87.2h0M517.3 88.6h0M518.7 89.7h0M520.1 90.7h0M521.6 91.6h0M523 92.1h0M524.4 92.6h0M525.9 92.9h0M527.3 93.1h0M528.7 92.9h0M530.1 92.3h0M531.6 91.6h0M533 90.9h0M534.4 90.3h0M535.9 89.7h0M537.3 89.3h0M538.7 88.9h0M540.1 88.5h0M541.6 88.2h0M543 88.4h0M544.4 90.2h0M545.9 92.4h0M547.3 93.9h0M548.7 95.5h0M550.1 97.1h0M551.6 98.8h0M553 100.5h0" stroke="#f01818" stroke-width="2.5" stroke-linecap="round" fill="none"/>
<path d="M513 82h0M514.4 79.2h0M515.8 76.9h0M517.2 75h0M518.6 74h0M520 73.6h0M521.5 75.1h0M522.9 77.5h0M524.3 80.2h0M525.7 82.8h0M527.1 85.8h0M528.5 85.3h0M529.9 82.5h0M531.3 80.2h0M532.7 77.5h0M534.1 75.2h0M535.5 73.6h0M537 74h0M538.4 75.4h0M539.8 77.4h0M541.2 79.6h0M542.6 81.7h0M544 83.3h0" stroke="#f01818" stroke-width="2.3" stroke-linecap="round" fill="none"/>
<path d="M508.3 131.1h0M509.7 130.4h0M511.2 129h0M512.6 126.5h0M514 123.3h0M515.5 120h0M516.9 116.8h0M518.3 113.6h0M519.7 110.4h0M521.2 107.3h0M522.6 104.2h0M524 101.3h0M525.5 98h0M526.9 94h0M528.3 93.9h0M529.8 97.2h0M531.2 100.5h0M532.6 103.6h0M534.1 106.7h0M535.5 109.9h0M536.9 113h0M538.4 116.1h0M539.8 119h0M541.2 122h0M542.6 125h0M544.1 127.6h0M545.5 129.8h0M546.9 129.9h0M548.4 129.3h0M549.8 127.1h0" stroke="#f01818" stroke-width="2.3" stroke-linecap="round" fill="none"/>
<path d="M485.5 130.9h0M486.9 130.9h0M488.4 131h0M489.8 131h0M491.2 131.1h0M492.6 131.1h0M494.1 131.1h0M495.5 131h0M496.9 130.9h0M498.3 130.8h0M499.8 130.7h0M501.2 130.7h0M502.6 130.6h0M504 130.6h0M505.4 130.7h0M506.9 130.9h0M508.3 131.1h0" stroke="#b82a2a" stroke-width="2.2" stroke-linecap="round" fill="none"/>
<path d="M544 72.6h0M545.4 73.9h0M546.8 74.7h0M548.3 74.8h0M549.7 74h0M551.1 72.9h0M552.5 71.6h0M553.9 70.3h0M555.4 69.3h0M556.8 68.4h0M558.2 67.8h0M559.6 67.2h0M561 66.7h0M562.5 66.3h0M563.9 65.9h0M565.3 65.6h0" stroke="#f01818" stroke-width="2.5" stroke-linecap="round" fill="none"/>
<path d="M485.5 164.4h0M486.9 163.4h0M488.3 162.7h0M489.7 162.4h0M491.1 162.7h0M492.5 163.2h0M493.9 163.4h0M495.3 163.3h0M496.7 163h0M498.1 162.6h0M499.5 162h0M500.9 161h0M502.3 159.6h0M503.7 157.6h0M505.1 155.5h0M506.5 153h0M507.9 150.7h0M509.3 148.4h0M510.7 146.3h0M512.1 144.4h0M513.5 143.1h0M514.9 142.1h0M516.3 141.3h0M517.7 140.9h0M519.1 141h0M520.5 141.2h0M521.9 141.5h0M523.3 142h0M524.7 142.8h0M526.1 143.8h0M527.5 144.3h0M528.9 144.1h0M530.3 143.7h0M531.7 143.1h0M533.1 142.6h0M534.5 142h0M535.9 141.3h0M537.3 140.9h0M538.7 140.7h0M540.1 140.6h0M541.5 140.7h0M543 141.3h0M544.4 142.3h0M545.8 143.7h0M547.2 145.5h0M548.6 147.5h0M550 149.5h0M551.4 151.8h0M552.8 153.8h0M554.2 155.6h0M555.6 157.2h0M557 158h0M558.4 157.7h0M559.8 156.9h0M561.2 155.9h0M562.6 154.4h0M564 152.1h0M565.4 149.7h0M566.8 147.4h0M568.2 145.1h0M569.6 142.9h0M571 140.9h0M572.4 139.1h0M573.8 137.8h0M575.2 136.5h0M576.6 136h0M578 136.2h0M579.4 136.6h0M580.8 137.2h0M582.2 138.3h0M583.6 139.3h0M585 140.3h0M586.4 141.5h0M587.8 142.7h0M589.2 144.3h0M590.6 146.3h0M592 148.7h0M593.4 151.2h0M594.8 153.7h0M596.2 156.3h0M597.6 158.9h0M599 161.6h0M600.4 164.4h0" stroke="#f01818" stroke-width="2.6" stroke-linecap="round" fill="none"/>
<path d="M549 28.8h0M550.4 29h0M551.8 29.2h0M553.2 29.5h0M554.6 29.8h0M556 30.1h0M557.4 30.5h0M558.8 30.9h0M560.2 31.3h0M561.6 32h0M563.1 32.7h0M564.5 33.6h0M565.9 34.5h0M567.3 35.5h0M568.7 36.6h0M570.1 37.6h0M571.5 38.7h0M572.9 39.8h0M574.3 41h0M575.7 41.9h0M577.1 42h0M578.5 40.7h0M579.9 38.9h0M581.3 36.9h0M582.7 34.5h0M584.1 31.8h0M585.5 29.4h0M586.9 27h0M588.4 24.9h0M589.8 23.6h0M591.2 22.8h0M592.6 22h0M594 21.2h0M595.4 20.3h0M596.8 19.4h0M598.2 18.4h0" stroke="#f01818" stroke-width="2.6" stroke-linecap="round" fill="none"/>
<path d="M550.2 39.5h0M551.6 39.6h0M553 40h0M554.4 40.4h0M555.8 40.9h0M557.3 41.6h0M558.7 42.5h0M560.1 43.7h0M561.5 45h0M562.9 46.2h0M564.3 47.4h0M565.7 48.9h0M567.1 50.3h0M568.5 51.6h0M570 52.3h0M571.4 52.3h0M572.8 51.8h0M574.2 51.5h0M575.6 51.2h0M577 51.1h0M578.4 51.7h0M579.8 52h0M581.2 51.8h0M582.7 51.2h0M584.1 49.8h0M585.5 48.2h0M586.9 46.3h0M588.3 44.4h0M589.7 42.8h0M591.1 41.3h0M592.5 39.9h0M593.9 38.5h0M595.4 37.4h0M596.8 36.3h0M598.2 35.4h0M599.6 34.5h0M601 33.8h0" stroke="#f01818" stroke-width="2.4" stroke-linecap="round" fill="none"/>
<path d="M583 57h0M584.5 53.8h0M586 51h0M587.5 48.5h0M589 46.3h0M590.5 43.9h0M592 41.6h0M593.5 39.2h0M595 36.9h0M596.5 34.7h0M598 32.7h0M599.5 31h0M601 29.5h0" stroke="#f01818" stroke-width="2.0" stroke-linecap="round" fill="none"/>
<path d="M545 125.2h0M546 126.5h0" stroke="#a03030" stroke-width="2.0" stroke-linecap="round" fill="none"/>
</g>
<rect x="485.3" y="17.9" width="115.69999999999999" height="172.7" fill="none" stroke="#222" stroke-width="1.2"/>
<line x1="485.3" y1="17.9" x2="487.5" y2="17.9" stroke="#222" stroke-width="0.9"/>
<line x1="598.8" y1="17.9" x2="601" y2="17.9" stroke="#222" stroke-width="0.9"/>
<line x1="485.3" y1="39.5" x2="487.5" y2="39.5" stroke="#222" stroke-width="0.9"/>
<line x1="598.8" y1="39.5" x2="601" y2="39.5" stroke="#222" stroke-width="0.9"/>
<line x1="485.3" y1="61.1" x2="487.5" y2="61.1" stroke="#222" stroke-width="0.9"/>
<line x1="598.8" y1="61.1" x2="601" y2="61.1" stroke="#222" stroke-width="0.9"/>
<line x1="485.3" y1="82.7" x2="487.5" y2="82.7" stroke="#222" stroke-width="0.9"/>
<line x1="598.8" y1="82.7" x2="601" y2="82.7" stroke="#222" stroke-width="0.9"/>
<line x1="485.3" y1="104.2" x2="487.5" y2="104.2" stroke="#222" stroke-width="0.9"/>
<line x1="598.8" y1="104.2" x2="601" y2="104.2" stroke="#222" stroke-width="0.9"/>
<line x1="485.3" y1="125.8" x2="487.5" y2="125.8" stroke="#222" stroke-width="0.9"/>
<line x1="598.8" y1="125.8" x2="601" y2="125.8" stroke="#222" stroke-width="0.9"/>
<line x1="485.3" y1="147.4" x2="487.5" y2="147.4" stroke="#222" stroke-width="0.9"/>
<line x1="598.8" y1="147.4" x2="601" y2="147.4" stroke="#222" stroke-width="0.9"/>
<line x1="485.3" y1="169" x2="487.5" y2="169" stroke="#222" stroke-width="0.9"/>
<line x1="598.8" y1="169" x2="601" y2="169" stroke="#222" stroke-width="0.9"/>
<line x1="485.3" y1="190.6" x2="487.5" y2="190.6" stroke="#222" stroke-width="0.9"/>
<line x1="598.8" y1="190.6" x2="601" y2="190.6" stroke="#222" stroke-width="0.9"/>
<text x="483" y="21.2" font-size="9.3" fill="#111" text-anchor="end">1</text>
<text x="483" y="64.5" font-size="9.3" fill="#111" text-anchor="end">0</text>
<text x="483" y="107.8" font-size="9.3" fill="#111" text-anchor="end">-1</text>
<text x="483" y="151.1" font-size="9.3" fill="#111" text-anchor="end">-2</text>
<text x="483" y="194.4" font-size="9.3" fill="#111" text-anchor="end">-3</text>
<line x1="485.3" y1="61.4" x2="601" y2="61.4" stroke="#22a03a" stroke-width="1.2" stroke-dasharray="4 2.6"/>
<text x="487.5" y="205.7" font-size="10" fill="#111" text-anchor="middle">M</text>
<text x="529.2" y="205.7" font-size="12.5" fill="#111" text-anchor="middle" font-family='"Liberation Serif", serif'>&#915;</text>
<text x="576.3" y="205.7" font-size="10" fill="#111" text-anchor="middle">K</text>
<text x="600.3" y="205.7" font-size="10" fill="#111" text-anchor="middle">M</text>
</svg>
</body></html>
